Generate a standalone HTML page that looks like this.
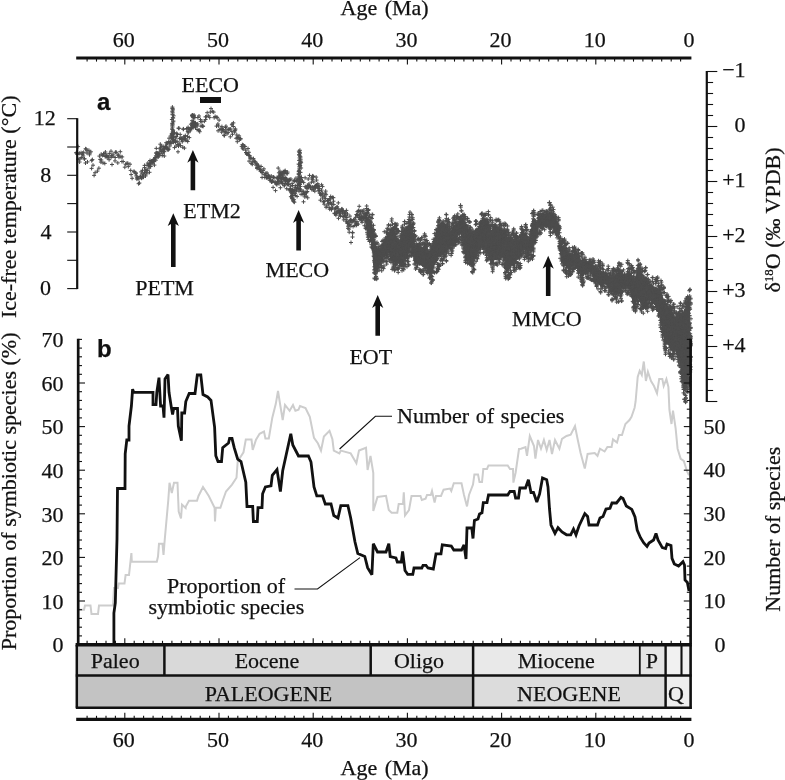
<!DOCTYPE html><html><head><meta charset="utf-8"><title>Figure</title><style>html,body{margin:0;padding:0;background:#fff}svg{display:block}text{font-family:"Liberation Serif","Times New Roman",serif;font-size:22px;fill:#111;stroke:#111;stroke-width:0.25px}.b{font-family:"Liberation Sans",Arial,sans-serif;font-weight:bold;font-size:24px}</style></head><body>
<svg width="785" height="780" viewBox="0 0 785 780">
<rect width="785" height="780" fill="#fff"/>
<polygon fill="#4d4d4d" points="366.0,218.1 367.0,218.9 368.0,219.7 369.0,220.5 370.0,221.3 371.0,223.1 372.0,224.6 373.0,229.3 374.0,237.0 375.0,244.1 376.0,251.0 377.0,251.5 378.0,250.4 379.0,249.4 380.0,248.3 381.0,246.5 382.0,244.3 383.0,241.5 384.0,239.2 385.0,238.0 386.0,236.9 387.0,235.7 388.0,234.5 389.0,234.1 390.0,228.2 391.0,228.6 392.0,228.9 393.0,229.2 394.0,229.6 395.0,230.8 396.0,233.2 397.0,239.0 398.0,241.5 399.0,242.7 400.0,240.7 401.0,238.7 402.0,234.3 403.0,232.4 404.0,230.8 405.0,230.4 406.0,228.8 407.0,227.2 408.0,225.8 409.0,223.8 410.0,222.4 411.0,221.0 412.0,226.6 413.0,232.2 414.0,239.1 415.0,244.7 416.0,244.0 417.0,243.3 418.0,242.6 419.0,247.5 420.0,246.8 421.0,246.1 422.0,246.7 423.0,247.4 424.0,242.1 425.0,242.7 426.0,243.3 427.0,249.1 428.0,250.3 429.0,251.4 430.0,250.3 431.0,248.8 432.0,246.2 433.0,243.5 434.0,238.0 435.0,235.6 436.0,233.1 437.0,230.7 438.0,229.0 439.0,226.4 440.0,224.8 441.0,223.1 442.0,223.3 443.0,223.9 444.0,224.6 445.0,225.3 446.0,226.0 447.0,226.6 448.0,226.6 449.0,232.7 450.0,231.4 451.0,230.2 452.0,228.9 453.0,226.9 454.0,225.6 455.0,224.8 456.0,223.9 457.0,223.0 458.0,222.1 459.0,221.3 460.0,215.7 461.0,216.9 462.0,217.8 463.0,217.8 464.0,219.7 465.0,221.5 466.0,223.3 467.0,224.0 468.0,224.7 469.0,232.8 470.0,233.4 471.0,234.1 472.0,234.4 473.0,234.6 474.0,234.7 475.0,228.5 476.0,228.4 477.0,228.2 478.0,228.1 479.0,226.7 480.0,224.2 481.0,222.5 482.0,220.8 483.0,220.5 484.0,219.1 485.0,217.8 486.0,218.8 487.0,221.4 488.0,221.2 489.0,223.8 490.0,226.4 491.0,229.9 492.0,229.2 493.0,228.6 494.0,227.9 495.0,227.3 496.0,226.7 497.0,226.1 498.0,226.5 499.0,226.5 500.0,227.5 501.0,228.5 502.0,229.6 503.0,230.6 504.0,231.9 505.0,233.5 506.0,234.8 507.0,236.2 508.0,237.5 509.0,238.2 510.0,238.8 511.0,239.5 512.0,238.4 513.0,239.0 514.0,238.8 515.0,238.6 516.0,240.7 517.0,240.5 518.0,240.2 519.0,239.8 520.0,239.3 521.0,234.6 522.0,234.0 523.0,233.5 524.0,233.0 525.0,232.4 526.0,231.9 527.0,239.5 528.0,238.8 529.0,238.1 530.0,237.3 531.0,232.0 532.0,219.9 533.0,218.8 534.0,219.2 535.0,221.6 536.0,223.8 537.0,225.5 538.0,218.2 539.0,216.2 540.0,214.0 541.0,212.8 542.0,214.4 543.0,214.1 544.0,213.8 545.0,213.4 546.0,213.0 547.0,212.9 548.0,212.6 549.0,212.5 550.0,212.4 551.0,212.3 552.0,212.2 553.0,213.8 554.0,215.8 555.0,217.4 556.0,219.9 557.0,222.3 558.0,224.8 559.0,231.2 560.0,237.3 561.0,243.4 562.0,244.6 563.0,245.8 564.0,246.9 565.0,248.1 566.0,249.9 567.0,250.9 568.0,251.9 569.0,252.9 570.0,253.2 571.0,253.2 572.0,253.2 573.0,253.3 574.0,253.5 575.0,252.2 576.0,252.4 577.0,253.5 578.0,255.3 579.0,257.1 580.0,258.8 581.0,260.1 582.0,261.1 583.0,261.2 584.0,261.3 585.0,261.4 586.0,260.5 587.0,260.9 588.0,261.2 589.0,261.6 590.0,263.5 591.0,264.0 592.0,264.5 593.0,265.0 594.0,265.5 595.0,266.1 596.0,267.9 597.0,268.4 598.0,268.9 599.0,269.5 600.0,270.5 601.0,271.5 602.0,271.0 603.0,272.0 604.0,273.0 605.0,273.9 606.0,274.9 607.0,274.8 608.0,274.8 609.0,276.8 610.0,277.0 611.0,277.2 612.0,277.4 613.0,276.4 614.0,275.6 615.0,274.7 616.0,273.6 617.0,272.8 618.0,271.9 619.0,270.7 620.0,269.8 621.0,270.2 622.0,273.4 623.0,274.0 624.0,274.5 625.0,275.0 626.0,275.5 627.0,270.3 628.0,270.7 629.0,271.6 630.0,272.6 631.0,273.3 632.0,276.6 633.0,278.2 634.0,279.8 635.0,279.9 636.0,275.4 637.0,270.9 638.0,268.7 639.0,271.1 640.0,273.4 641.0,275.4 642.0,277.2 643.0,278.9 644.0,276.3 645.0,277.8 646.0,279.4 647.0,280.5 648.0,284.6 649.0,285.4 650.0,285.7 651.0,287.1 652.0,287.3 653.0,287.4 654.0,287.6 655.0,287.9 656.0,287.9 657.0,288.3 658.0,288.2 659.0,289.6 660.0,289.2 661.0,291.6 662.0,293.9 663.0,297.0 664.0,300.0 665.0,303.1 666.0,303.6 667.0,305.2 668.0,306.7 669.0,308.2 670.0,308.3 671.0,309.8 672.0,311.3 673.0,312.8 674.0,313.5 675.0,318.1 676.0,315.7 677.0,313.7 678.0,312.0 679.0,310.6 680.0,311.8 681.0,312.9 682.0,309.6 683.0,310.8 684.0,312.0 685.0,308.5 686.0,305.0 687.0,301.3 688.0,298.8 689.0,299.8 690.0,307.1 690.0,367.5 689.0,375.7 688.0,384.0 687.0,384.7 686.0,390.7 685.0,391.0 684.0,391.3 683.0,385.9 682.0,380.5 681.0,370.3 680.0,365.3 679.0,360.3 678.0,357.2 677.0,354.3 676.0,351.8 675.0,349.8 674.0,353.3 673.0,352.2 672.0,351.4 671.0,350.6 670.0,349.7 669.0,345.8 668.0,345.1 667.0,344.5 666.0,343.8 665.0,343.3 664.0,338.7 663.0,334.2 662.0,329.6 661.0,325.6 660.0,321.7 659.0,315.1 658.0,312.0 657.0,310.3 656.0,307.4 655.0,305.7 654.0,304.3 653.0,303.2 652.0,302.1 651.0,301.1 650.0,300.7 649.0,299.9 648.0,300.3 647.0,305.4 646.0,306.2 645.0,307.7 644.0,309.2 643.0,310.4 642.0,307.8 641.0,305.1 640.0,302.5 639.0,299.8 638.0,297.1 637.0,296.7 636.0,301.5 635.0,306.3 634.0,309.4 633.0,304.5 632.0,299.6 631.0,293.2 630.0,290.7 629.0,288.6 628.0,287.3 627.0,287.4 626.0,287.0 625.0,287.1 624.0,287.3 623.0,287.7 622.0,288.1 621.0,290.7 620.0,291.1 619.0,290.9 618.0,293.5 617.0,293.3 616.0,293.0 615.0,292.8 614.0,292.8 613.0,292.8 612.0,291.5 611.0,290.2 610.0,288.9 609.0,287.6 608.0,287.0 607.0,285.7 606.0,284.4 605.0,284.5 604.0,284.5 603.0,284.5 602.0,284.9 601.0,282.6 600.0,283.4 599.0,284.2 598.0,283.1 597.0,281.7 596.0,280.4 595.0,279.7 594.0,278.4 593.0,276.8 592.0,275.2 591.0,273.6 590.0,272.0 589.0,271.7 588.0,271.9 587.0,272.1 586.0,272.2 585.0,273.7 584.0,274.6 583.0,275.4 582.0,276.3 581.0,275.6 580.0,272.9 579.0,270.6 578.0,268.4 577.0,266.1 576.0,264.8 575.0,264.9 574.0,265.8 573.0,265.8 572.0,266.5 571.0,267.3 570.0,270.2 569.0,270.4 568.0,269.1 567.0,267.9 566.0,266.7 565.0,264.6 564.0,263.0 563.0,261.5 562.0,260.0 561.0,258.5 560.0,252.3 559.0,246.2 558.0,236.9 557.0,234.6 556.0,232.2 555.0,229.8 554.0,228.2 553.0,228.4 552.0,226.8 551.0,226.6 550.0,226.5 549.0,226.3 548.0,226.1 547.0,226.7 546.0,224.6 545.0,225.2 544.0,225.8 543.0,225.7 542.0,225.3 541.0,227.4 540.0,227.1 539.0,226.9 538.0,228.3 537.0,233.3 536.0,238.4 535.0,241.7 534.0,243.3 533.0,245.4 532.0,247.9 531.0,250.3 530.0,250.9 529.0,251.8 528.0,252.7 527.0,253.6 526.0,249.0 525.0,249.6 524.0,250.2 523.0,250.8 522.0,251.4 521.0,252.2 520.0,257.3 519.0,258.3 518.0,259.1 517.0,259.5 516.0,260.0 515.0,261.7 514.0,262.2 513.0,262.7 512.0,263.8 511.0,267.6 510.0,268.8 509.0,269.9 508.0,271.0 507.0,270.1 506.0,269.2 505.0,268.2 504.0,258.4 503.0,257.5 502.0,257.2 501.0,256.8 500.0,256.5 499.0,256.2 498.0,255.8 497.0,260.6 496.0,260.2 495.0,259.9 494.0,260.1 493.0,261.0 492.0,261.9 491.0,262.8 490.0,259.5 489.0,256.8 488.0,254.0 487.0,253.7 486.0,250.9 485.0,249.3 484.0,249.6 483.0,249.8 482.0,246.7 481.0,247.6 480.0,248.4 479.0,251.1 478.0,252.2 477.0,254.3 476.0,256.4 475.0,258.5 474.0,261.5 473.0,265.4 472.0,269.3 471.0,263.8 470.0,261.4 469.0,259.0 468.0,261.1 467.0,258.7 466.0,256.4 465.0,252.6 464.0,248.8 463.0,245.0 462.0,239.1 461.0,235.5 460.0,232.4 459.0,235.1 458.0,236.2 457.0,237.3 456.0,238.4 455.0,239.5 454.0,240.6 453.0,242.0 452.0,244.4 451.0,245.8 450.0,247.2 449.0,248.6 448.0,249.7 447.0,250.8 446.0,251.8 445.0,252.8 444.0,253.8 443.0,254.8 442.0,255.8 441.0,254.3 440.0,255.3 439.0,256.3 438.0,260.2 437.0,261.2 436.0,262.8 435.0,264.3 434.0,265.9 433.0,271.0 432.0,272.7 431.0,274.3 430.0,275.1 429.0,273.1 428.0,272.0 427.0,271.0 426.0,266.6 425.0,265.7 424.0,264.8 423.0,266.9 422.0,266.0 421.0,265.1 420.0,265.4 419.0,265.8 418.0,262.9 417.0,263.3 416.0,263.6 415.0,264.0 414.0,260.9 413.0,254.5 412.0,251.5 411.0,248.4 410.0,249.1 409.0,249.7 408.0,257.2 407.0,257.8 406.0,259.1 405.0,260.5 404.0,262.8 403.0,264.1 402.0,265.5 401.0,260.8 400.0,262.3 399.0,263.8 398.0,262.9 397.0,260.9 396.0,264.7 395.0,262.7 394.0,261.7 393.0,261.4 392.0,261.1 391.0,260.7 390.0,260.4 389.0,252.3 388.0,252.6 387.0,253.7 386.0,254.7 385.0,255.8 384.0,256.8 383.0,258.5 382.0,260.0 381.0,261.6 380.0,263.2 379.0,264.8 378.0,266.4 377.0,268.0 376.0,270.0 375.0,274.2 374.0,273.1 373.0,264.4 372.0,244.3 371.0,241.3 370.0,238.6 369.0,236.9 368.0,235.2 367.0,230.5 366.0,225.8"/>
<path fill="none" stroke="#4d4d4d" stroke-width="1" d="M74.2 152.9h4m-2-2v4M74.5 152.5h4m-2-2v4M75.1 153.2h4m-2-2v4M75.4 154.4h4m-2-2v4M76.1 146.6h4m-2-2v4M76.1 159.3h4m-2-2v4M77.6 162.0h4m-2-2v4M77.4 153.3h4m-2-2v4M78.0 158.8h4m-2-2v4M79.1 152.7h4m-2-2v4M79.3 157.5h4m-2-2v4M80.6 153.2h4m-2-2v4M80.4 154.5h4m-2-2v4M81.2 155.9h4m-2-2v4M81.7 152.3h4m-2-2v4M82.5 158.7h4m-2-2v4M82.3 159.0h4m-2-2v4M83.6 148.8h4m-2-2v4M83.5 163.0h4m-2-2v4M85.0 150.8h4m-2-2v4M84.1 149.1h4m-2-2v4M85.5 161.9h4m-2-2v4M85.0 153.1h4m-2-2v4M86.9 150.3h4m-2-2v4M87.7 153.0h4m-2-2v4M87.5 154.8h4m-2-2v4M88.9 151.8h4m-2-2v4M89.7 160.6h4m-2-2v4M89.6 168.4h4m-2-2v4M90.4 159.6h4m-2-2v4M91.0 165.2h4m-2-2v4M92.1 175.4h4m-2-2v4M93.1 172.7h4m-2-2v4M95.4 171.1h4m-2-2v4M96.9 168.2h4m-2-2v4M97.4 156.1h4m-2-2v4M98.9 162.1h4m-2-2v4M98.2 159.4h4m-2-2v4M99.2 154.2h4m-2-2v4M99.3 160.0h4m-2-2v4M100.4 155.4h4m-2-2v4M101.0 162.9h4m-2-2v4M101.5 153.9h4m-2-2v4M102.9 153.7h4m-2-2v4M102.8 163.4h4m-2-2v4M103.4 152.0h4m-2-2v4M103.1 156.5h4m-2-2v4M104.2 155.8h4m-2-2v4M104.2 156.2h4m-2-2v4M105.2 157.8h4m-2-2v4M105.1 155.8h4m-2-2v4M106.6 156.8h4m-2-2v4M107.3 153.6h4m-2-2v4M107.1 159.7h4m-2-2v4M109.0 151.2h4m-2-2v4M109.1 157.4h4m-2-2v4M109.3 155.6h4m-2-2v4M110.0 164.5h4m-2-2v4M111.0 154.1h4m-2-2v4M111.0 156.2h4m-2-2v4M113.0 160.9h4m-2-2v4M113.4 152.2h4m-2-2v4M113.2 157.5h4m-2-2v4M114.3 152.3h4m-2-2v4M115.8 162.9h4m-2-2v4M115.8 155.1h4m-2-2v4M116.7 155.1h4m-2-2v4M117.0 157.2h4m-2-2v4M118.3 151.7h4m-2-2v4M119.0 156.8h4m-2-2v4M119.9 161.5h4m-2-2v4M120.2 156.9h4m-2-2v4M121.2 161.5h4m-2-2v4M122.8 167.2h4m-2-2v4M123.7 164.3h4m-2-2v4M124.9 163.3h4m-2-2v4M125.8 163.3h4m-2-2v4M126.3 166.6h4m-2-2v4M128.0 164.2h4m-2-2v4M128.7 170.4h4m-2-2v4M129.1 174.6h4m-2-2v4M130.1 178.3h4m-2-2v4M132.0 171.3h4m-2-2v4M132.1 172.0h4m-2-2v4M134.0 173.8h4m-2-2v4M133.9 172.9h4m-2-2v4M134.9 179.1h4m-2-2v4M134.3 175.9h4m-2-2v4M135.2 177.3h4m-2-2v4M135.4 178.2h4m-2-2v4M136.9 178.9h4m-2-2v4M136.6 183.7h4m-2-2v4M137.4 183.0h4m-2-2v4M138.5 176.6h4m-2-2v4M138.0 176.6h4m-2-2v4M139.8 178.0h4m-2-2v4M139.2 171.9h4m-2-2v4M139.6 178.2h4m-2-2v4M140.5 170.3h4m-2-2v4M140.1 173.9h4m-2-2v4M140.6 176.0h4m-2-2v4M141.5 177.2h4m-2-2v4M141.6 174.9h4m-2-2v4M142.6 165.4h4m-2-2v4M142.5 167.6h4m-2-2v4M142.5 172.4h4m-2-2v4M143.5 176.0h4m-2-2v4M143.9 169.3h4m-2-2v4M143.9 170.9h4m-2-2v4M144.8 173.8h4m-2-2v4M144.1 172.2h4m-2-2v4M145.2 170.4h4m-2-2v4M145.1 165.2h4m-2-2v4M145.9 163.0h4m-2-2v4M146.7 165.6h4m-2-2v4M146.9 165.1h4m-2-2v4M147.0 168.1h4m-2-2v4M147.5 172.3h4m-2-2v4M148.0 166.2h4m-2-2v4M147.4 163.5h4m-2-2v4M148.3 164.8h4m-2-2v4M148.7 166.5h4m-2-2v4M148.0 160.5h4m-2-2v4M149.3 161.2h4m-2-2v4M149.6 161.2h4m-2-2v4M150.0 162.3h4m-2-2v4M151.0 163.0h4m-2-2v4M150.0 162.6h4m-2-2v4M150.8 160.8h4m-2-2v4M151.9 161.3h4m-2-2v4M151.8 159.5h4m-2-2v4M151.9 161.4h4m-2-2v4M152.7 159.1h4m-2-2v4M152.7 158.8h4m-2-2v4M152.4 165.1h4m-2-2v4M153.8 160.2h4m-2-2v4M153.1 157.5h4m-2-2v4M153.9 155.9h4m-2-2v4M154.3 148.4h4m-2-2v4M154.3 153.0h4m-2-2v4M154.1 153.0h4m-2-2v4M155.2 153.6h4m-2-2v4M155.1 154.8h4m-2-2v4M155.3 156.7h4m-2-2v4M155.8 153.0h4m-2-2v4M156.3 156.9h4m-2-2v4M156.0 153.2h4m-2-2v4M156.7 153.7h4m-2-2v4M156.6 154.6h4m-2-2v4M157.1 155.8h4m-2-2v4M157.8 148.8h4m-2-2v4M157.8 153.9h4m-2-2v4M158.5 147.8h4m-2-2v4M158.3 144.2h4m-2-2v4M158.8 150.2h4m-2-2v4M159.3 146.0h4m-2-2v4M159.1 151.6h4m-2-2v4M159.7 151.6h4m-2-2v4M160.2 155.5h4m-2-2v4M160.9 153.2h4m-2-2v4M160.7 149.3h4m-2-2v4M161.5 151.5h4m-2-2v4M161.2 146.4h4m-2-2v4M162.0 149.9h4m-2-2v4M162.5 148.5h4m-2-2v4M162.3 156.0h4m-2-2v4M162.4 151.7h4m-2-2v4M163.5 147.4h4m-2-2v4M163.2 147.0h4m-2-2v4M163.3 147.4h4m-2-2v4M164.4 147.4h4m-2-2v4M164.3 146.8h4m-2-2v4M164.2 142.7h4m-2-2v4M164.8 144.3h4m-2-2v4M165.7 148.5h4m-2-2v4M165.3 143.2h4m-2-2v4M166.0 149.4h4m-2-2v4M166.0 150.0h4m-2-2v4M166.8 149.2h4m-2-2v4M166.7 141.6h4m-2-2v4M167.1 138.2h4m-2-2v4M167.8 142.6h4m-2-2v4M167.8 146.0h4m-2-2v4M168.7 135.9h4m-2-2v4M168.7 141.8h4m-2-2v4M168.1 142.9h4m-2-2v4M169.1 143.6h4m-2-2v4M169.6 134.0h4m-2-2v4M169.6 137.3h4m-2-2v4M170.8 134.5h4m-2-2v4M170.7 133.5h4m-2-2v4M170.7 139.9h4m-2-2v4M171.7 140.0h4m-2-2v4M171.3 142.0h4m-2-2v4M171.7 142.3h4m-2-2v4M172.5 147.6h4m-2-2v4M172.4 132.7h4m-2-2v4M172.8 141.0h4m-2-2v4M173.6 142.3h4m-2-2v4M173.3 141.2h4m-2-2v4M173.7 138.0h4m-2-2v4M174.1 146.0h4m-2-2v4M174.3 136.5h4m-2-2v4M174.7 133.4h4m-2-2v4M175.5 134.4h4m-2-2v4M175.1 141.3h4m-2-2v4M175.9 144.5h4m-2-2v4M176.0 151.8h4m-2-2v4M176.5 146.1h4m-2-2v4M176.4 128.2h4m-2-2v4M177.2 143.2h4m-2-2v4M177.6 138.6h4m-2-2v4M177.1 128.3h4m-2-2v4M178.8 137.7h4m-2-2v4M178.5 145.6h4m-2-2v4M178.2 134.4h4m-2-2v4M179.5 139.8h4m-2-2v4M179.5 139.5h4m-2-2v4M179.5 138.5h4m-2-2v4M180.3 141.7h4m-2-2v4M180.8 147.2h4m-2-2v4M180.8 139.3h4m-2-2v4M181.9 136.7h4m-2-2v4M181.3 129.3h4m-2-2v4M181.4 128.9h4m-2-2v4M182.4 148.1h4m-2-2v4M182.4 137.8h4m-2-2v4M182.1 139.4h4m-2-2v4M183.3 140.2h4m-2-2v4M183.3 135.6h4m-2-2v4M183.5 138.7h4m-2-2v4M184.9 140.2h4m-2-2v4M184.8 129.0h4m-2-2v4M184.9 128.5h4m-2-2v4M185.7 141.5h4m-2-2v4M185.5 136.4h4m-2-2v4M185.8 131.6h4m-2-2v4M186.9 128.7h4m-2-2v4M186.1 127.4h4m-2-2v4M186.3 132.8h4m-2-2v4M188.0 129.5h4m-2-2v4M187.3 137.6h4m-2-2v4M188.4 129.6h4m-2-2v4M188.2 130.8h4m-2-2v4M188.9 124.2h4m-2-2v4M190.0 125.7h4m-2-2v4M189.4 127.8h4m-2-2v4M190.3 125.8h4m-2-2v4M190.1 123.6h4m-2-2v4M190.6 127.1h4m-2-2v4M191.7 116.9h4m-2-2v4M191.5 123.5h4m-2-2v4M192.3 125.7h4m-2-2v4M193.0 123.5h4m-2-2v4M192.1 115.1h4m-2-2v4M193.2 122.8h4m-2-2v4M193.3 123.1h4m-2-2v4M195.0 129.5h4m-2-2v4M194.8 124.8h4m-2-2v4M195.7 123.9h4m-2-2v4M195.9 117.6h4m-2-2v4M195.0 126.0h4m-2-2v4M196.9 130.4h4m-2-2v4M197.0 116.0h4m-2-2v4M197.1 130.0h4m-2-2v4M197.7 131.7h4m-2-2v4M198.7 121.5h4m-2-2v4M198.5 119.6h4m-2-2v4M199.0 126.1h4m-2-2v4M199.9 121.8h4m-2-2v4M200.3 126.0h4m-2-2v4M200.6 126.1h4m-2-2v4M201.1 126.3h4m-2-2v4M202.4 121.2h4m-2-2v4M203.6 119.5h4m-2-2v4M203.5 116.9h4m-2-2v4M204.6 116.6h4m-2-2v4M205.2 112.7h4m-2-2v4M206.7 115.8h4m-2-2v4M207.7 117.6h4m-2-2v4M208.3 112.1h4m-2-2v4M209.0 108.6h4m-2-2v4M210.4 111.4h4m-2-2v4M211.7 112.1h4m-2-2v4M212.2 117.7h4m-2-2v4M213.2 116.5h4m-2-2v4M214.8 117.2h4m-2-2v4M214.5 126.1h4m-2-2v4M215.2 117.7h4m-2-2v4M215.9 124.0h4m-2-2v4M216.4 125.9h4m-2-2v4M216.1 130.8h4m-2-2v4M217.1 120.1h4m-2-2v4M217.9 129.4h4m-2-2v4M219.0 129.0h4m-2-2v4M219.9 126.6h4m-2-2v4M219.7 132.2h4m-2-2v4M220.4 129.9h4m-2-2v4M220.3 129.1h4m-2-2v4M221.4 129.7h4m-2-2v4M222.0 135.2h4m-2-2v4M222.4 135.6h4m-2-2v4M222.8 131.4h4m-2-2v4M223.5 127.5h4m-2-2v4M223.4 132.3h4m-2-2v4M224.9 130.0h4m-2-2v4M224.0 126.2h4m-2-2v4M225.0 133.8h4m-2-2v4M226.1 132.6h4m-2-2v4M226.7 129.3h4m-2-2v4M227.3 129.2h4m-2-2v4M228.3 136.8h4m-2-2v4M228.7 129.0h4m-2-2v4M229.8 131.4h4m-2-2v4M229.9 124.8h4m-2-2v4M230.2 124.1h4m-2-2v4M230.5 134.3h4m-2-2v4M231.3 126.5h4m-2-2v4M231.4 122.9h4m-2-2v4M232.8 130.6h4m-2-2v4M232.7 132.1h4m-2-2v4M233.3 128.9h4m-2-2v4M233.3 129.9h4m-2-2v4M234.2 138.3h4m-2-2v4M234.8 135.0h4m-2-2v4M235.6 137.5h4m-2-2v4M235.3 141.7h4m-2-2v4M236.3 137.6h4m-2-2v4M237.1 135.9h4m-2-2v4M237.4 139.8h4m-2-2v4M238.4 138.7h4m-2-2v4M238.7 138.9h4m-2-2v4M239.7 146.4h4m-2-2v4M240.6 148.1h4m-2-2v4M240.4 144.7h4m-2-2v4M241.2 145.0h4m-2-2v4M241.2 149.0h4m-2-2v4M242.4 146.2h4m-2-2v4M243.0 146.6h4m-2-2v4M243.7 150.1h4m-2-2v4M244.0 152.5h4m-2-2v4M244.8 153.7h4m-2-2v4M244.9 154.0h4m-2-2v4M245.2 154.1h4m-2-2v4M246.0 148.6h4m-2-2v4M246.9 152.3h4m-2-2v4M246.4 154.9h4m-2-2v4M247.1 161.1h4m-2-2v4M247.6 155.5h4m-2-2v4M248.1 157.2h4m-2-2v4M248.2 158.3h4m-2-2v4M249.2 163.4h4m-2-2v4M249.0 158.3h4m-2-2v4M250.3 164.3h4m-2-2v4M250.2 161.9h4m-2-2v4M251.1 159.0h4m-2-2v4M251.4 158.6h4m-2-2v4M252.2 161.9h4m-2-2v4M252.7 161.3h4m-2-2v4M254.0 165.1h4m-2-2v4M253.3 161.9h4m-2-2v4M254.9 164.1h4m-2-2v4M255.0 163.9h4m-2-2v4M255.2 167.5h4m-2-2v4M255.0 168.4h4m-2-2v4M256.4 166.0h4m-2-2v4M256.9 166.1h4m-2-2v4M257.6 169.1h4m-2-2v4M257.6 169.7h4m-2-2v4M258.4 169.4h4m-2-2v4M258.5 171.2h4m-2-2v4M259.9 172.6h4m-2-2v4M259.1 166.5h4m-2-2v4M260.2 172.3h4m-2-2v4M260.1 177.4h4m-2-2v4M261.1 170.6h4m-2-2v4M261.9 168.9h4m-2-2v4M262.8 177.5h4m-2-2v4M262.2 174.4h4m-2-2v4M263.8 173.3h4m-2-2v4M263.8 175.7h4m-2-2v4M264.5 177.6h4m-2-2v4M264.4 177.4h4m-2-2v4M265.9 178.4h4m-2-2v4M265.0 173.0h4m-2-2v4M266.8 176.3h4m-2-2v4M266.1 175.3h4m-2-2v4M266.6 176.1h4m-2-2v4M267.4 176.6h4m-2-2v4M267.7 177.6h4m-2-2v4M267.4 178.5h4m-2-2v4M268.5 180.2h4m-2-2v4M268.2 180.4h4m-2-2v4M269.2 176.0h4m-2-2v4M269.5 181.9h4m-2-2v4M269.4 181.7h4m-2-2v4M270.4 180.8h4m-2-2v4M270.6 181.5h4m-2-2v4M270.1 181.1h4m-2-2v4M271.1 177.3h4m-2-2v4M271.5 177.2h4m-2-2v4M271.1 187.4h4m-2-2v4M273.0 182.6h4m-2-2v4M272.2 177.7h4m-2-2v4M273.5 190.6h4m-2-2v4M273.2 182.1h4m-2-2v4M274.9 184.7h4m-2-2v4M274.8 183.0h4m-2-2v4M274.2 184.0h4m-2-2v4M275.1 177.3h4m-2-2v4M275.5 181.8h4m-2-2v4M275.3 178.0h4m-2-2v4M275.5 178.9h4m-2-2v4M276.2 178.2h4m-2-2v4M276.9 172.8h4m-2-2v4M276.2 168.1h4m-2-2v4M276.8 181.3h4m-2-2v4M276.6 180.8h4m-2-2v4M277.9 171.1h4m-2-2v4M277.9 174.9h4m-2-2v4M277.1 183.7h4m-2-2v4M277.4 176.7h4m-2-2v4M277.8 175.6h4m-2-2v4M278.4 187.7h4m-2-2v4M278.8 174.1h4m-2-2v4M278.7 178.1h4m-2-2v4M278.0 178.6h4m-2-2v4M278.6 173.6h4m-2-2v4M279.6 174.7h4m-2-2v4M279.0 173.3h4m-2-2v4M279.0 181.1h4m-2-2v4M279.4 182.6h4m-2-2v4M279.5 179.1h4m-2-2v4M280.7 175.3h4m-2-2v4M280.0 181.8h4m-2-2v4M280.1 177.1h4m-2-2v4M280.4 178.1h4m-2-2v4M280.6 183.7h4m-2-2v4M280.2 172.8h4m-2-2v4M281.9 172.8h4m-2-2v4M281.2 178.4h4m-2-2v4M281.6 178.9h4m-2-2v4M281.9 178.1h4m-2-2v4M281.3 171.7h4m-2-2v4M281.0 172.8h4m-2-2v4M282.6 171.5h4m-2-2v4M282.4 185.1h4m-2-2v4M282.2 173.6h4m-2-2v4M282.9 183.4h4m-2-2v4M282.4 178.8h4m-2-2v4M282.2 185.8h4m-2-2v4M283.6 181.3h4m-2-2v4M283.9 180.2h4m-2-2v4M283.6 180.7h4m-2-2v4M283.5 172.0h4m-2-2v4M283.2 170.6h4m-2-2v4M283.3 177.5h4m-2-2v4M284.8 180.5h4m-2-2v4M284.7 188.7h4m-2-2v4M284.7 179.4h4m-2-2v4M284.5 178.7h4m-2-2v4M284.2 173.5h4m-2-2v4M285.2 184.2h4m-2-2v4M285.7 181.1h4m-2-2v4M285.7 184.3h4m-2-2v4M285.3 173.7h4m-2-2v4M285.6 172.1h4m-2-2v4M285.5 183.3h4m-2-2v4M286.6 184.2h4m-2-2v4M286.9 180.3h4m-2-2v4M286.0 180.8h4m-2-2v4M286.7 184.4h4m-2-2v4M286.9 180.9h4m-2-2v4M287.3 179.5h4m-2-2v4M287.2 189.9h4m-2-2v4M287.7 180.1h4m-2-2v4M287.7 189.6h4m-2-2v4M288.7 186.2h4m-2-2v4M288.9 179.0h4m-2-2v4M288.6 190.3h4m-2-2v4M288.3 188.8h4m-2-2v4M289.9 197.9h4m-2-2v4M289.1 192.7h4m-2-2v4M289.9 190.5h4m-2-2v4M289.3 190.9h4m-2-2v4M290.7 194.2h4m-2-2v4M290.6 189.7h4m-2-2v4M290.1 183.4h4m-2-2v4M290.6 185.5h4m-2-2v4M291.9 199.7h4m-2-2v4M291.1 200.3h4m-2-2v4M291.9 180.8h4m-2-2v4M292.2 190.3h4m-2-2v4M292.8 190.1h4m-2-2v4M292.8 181.3h4m-2-2v4M292.6 180.4h4m-2-2v4M293.1 195.5h4m-2-2v4M293.2 193.0h4m-2-2v4M293.3 185.9h4m-2-2v4M293.3 187.6h4m-2-2v4M294.7 181.3h4m-2-2v4M295.0 189.0h4m-2-2v4M294.5 190.1h4m-2-2v4M294.0 178.1h4m-2-2v4M295.4 185.5h4m-2-2v4M295.7 179.3h4m-2-2v4M295.5 187.2h4m-2-2v4M295.1 196.4h4m-2-2v4M296.2 188.4h4m-2-2v4M296.8 184.5h4m-2-2v4M297.0 191.3h4m-2-2v4M297.8 184.4h4m-2-2v4M297.2 179.1h4m-2-2v4M297.8 184.4h4m-2-2v4M297.3 188.6h4m-2-2v4M298.7 182.5h4m-2-2v4M298.5 189.9h4m-2-2v4M298.1 188.9h4m-2-2v4M298.8 180.9h4m-2-2v4M299.4 177.6h4m-2-2v4M299.4 177.6h4m-2-2v4M299.1 194.3h4m-2-2v4M300.0 191.3h4m-2-2v4M300.9 194.5h4m-2-2v4M300.5 181.0h4m-2-2v4M301.5 201.8h4m-2-2v4M301.5 193.3h4m-2-2v4M301.6 182.6h4m-2-2v4M301.3 191.3h4m-2-2v4M302.7 194.3h4m-2-2v4M302.7 194.4h4m-2-2v4M302.8 196.9h4m-2-2v4M303.1 177.8h4m-2-2v4M303.2 192.4h4m-2-2v4M303.2 186.6h4m-2-2v4M304.2 196.1h4m-2-2v4M304.2 187.8h4m-2-2v4M304.5 192.7h4m-2-2v4M305.3 191.5h4m-2-2v4M305.7 197.8h4m-2-2v4M305.1 188.4h4m-2-2v4M305.4 185.4h4m-2-2v4M306.8 184.1h4m-2-2v4M306.2 179.0h4m-2-2v4M306.6 187.6h4m-2-2v4M307.0 185.8h4m-2-2v4M307.4 185.6h4m-2-2v4M307.5 175.4h4m-2-2v4M308.5 186.9h4m-2-2v4M308.4 188.0h4m-2-2v4M308.7 187.1h4m-2-2v4M309.7 177.9h4m-2-2v4M309.4 182.2h4m-2-2v4M309.9 189.6h4m-2-2v4M310.7 187.0h4m-2-2v4M310.6 175.9h4m-2-2v4M310.5 179.4h4m-2-2v4M311.4 190.0h4m-2-2v4M311.8 181.9h4m-2-2v4M311.3 176.6h4m-2-2v4M311.4 176.8h4m-2-2v4M312.7 186.6h4m-2-2v4M312.9 187.6h4m-2-2v4M312.8 191.2h4m-2-2v4M313.5 187.3h4m-2-2v4M313.5 185.8h4m-2-2v4M313.2 188.2h4m-2-2v4M314.1 177.1h4m-2-2v4M314.6 180.1h4m-2-2v4M314.5 185.3h4m-2-2v4M315.8 183.7h4m-2-2v4M315.9 187.8h4m-2-2v4M315.2 186.5h4m-2-2v4M316.1 185.3h4m-2-2v4M317.0 188.6h4m-2-2v4M316.3 190.9h4m-2-2v4M317.0 186.6h4m-2-2v4M317.7 193.2h4m-2-2v4M317.4 190.5h4m-2-2v4M318.9 195.3h4m-2-2v4M318.5 193.6h4m-2-2v4M318.4 200.2h4m-2-2v4M319.1 194.6h4m-2-2v4M319.6 184.8h4m-2-2v4M319.5 190.1h4m-2-2v4M320.4 193.1h4m-2-2v4M320.6 198.0h4m-2-2v4M320.5 186.6h4m-2-2v4M321.5 201.8h4m-2-2v4M321.4 201.8h4m-2-2v4M321.9 195.1h4m-2-2v4M322.4 201.3h4m-2-2v4M322.2 204.2h4m-2-2v4M322.3 196.9h4m-2-2v4M323.3 193.1h4m-2-2v4M323.6 198.6h4m-2-2v4M323.7 191.1h4m-2-2v4M324.1 207.3h4m-2-2v4M324.8 206.0h4m-2-2v4M324.1 194.7h4m-2-2v4M325.6 201.1h4m-2-2v4M326.0 200.5h4m-2-2v4M325.7 200.4h4m-2-2v4M326.2 203.8h4m-2-2v4M326.8 200.1h4m-2-2v4M326.9 203.8h4m-2-2v4M327.2 207.7h4m-2-2v4M327.8 198.8h4m-2-2v4M327.7 209.2h4m-2-2v4M328.2 198.9h4m-2-2v4M328.7 196.5h4m-2-2v4M328.4 202.5h4m-2-2v4M329.6 204.7h4m-2-2v4M329.1 208.3h4m-2-2v4M329.5 209.7h4m-2-2v4M330.5 207.8h4m-2-2v4M330.5 197.5h4m-2-2v4M330.0 203.8h4m-2-2v4M331.5 201.2h4m-2-2v4M331.8 204.6h4m-2-2v4M331.4 197.7h4m-2-2v4M332.6 213.1h4m-2-2v4M332.6 213.6h4m-2-2v4M332.7 209.0h4m-2-2v4M333.3 213.8h4m-2-2v4M333.5 208.5h4m-2-2v4M333.9 215.2h4m-2-2v4M334.3 211.3h4m-2-2v4M334.9 207.1h4m-2-2v4M334.5 213.3h4m-2-2v4M335.2 206.9h4m-2-2v4M335.6 212.3h4m-2-2v4M335.8 208.7h4m-2-2v4M336.5 218.3h4m-2-2v4M336.3 202.9h4m-2-2v4M336.7 210.9h4m-2-2v4M337.3 210.7h4m-2-2v4M337.6 215.0h4m-2-2v4M337.6 212.2h4m-2-2v4M338.9 211.6h4m-2-2v4M338.5 215.8h4m-2-2v4M338.0 213.7h4m-2-2v4M339.9 208.9h4m-2-2v4M339.8 209.8h4m-2-2v4M339.9 209.2h4m-2-2v4M340.7 210.5h4m-2-2v4M340.6 212.9h4m-2-2v4M340.7 211.6h4m-2-2v4M341.8 217.0h4m-2-2v4M341.0 216.5h4m-2-2v4M341.8 219.9h4m-2-2v4M342.8 213.1h4m-2-2v4M342.8 213.2h4m-2-2v4M342.3 214.9h4m-2-2v4M343.3 212.0h4m-2-2v4M343.9 219.3h4m-2-2v4M343.1 216.0h4m-2-2v4M344.8 217.5h4m-2-2v4M344.6 221.7h4m-2-2v4M344.0 215.9h4m-2-2v4M344.4 210.4h4m-2-2v4M345.5 214.0h4m-2-2v4M345.4 223.5h4m-2-2v4M345.2 222.3h4m-2-2v4M346.0 228.3h4m-2-2v4M346.1 221.7h4m-2-2v4M347.0 229.1h4m-2-2v4M346.1 226.2h4m-2-2v4M347.7 224.4h4m-2-2v4M347.2 232.2h4m-2-2v4M347.1 225.2h4m-2-2v4M347.9 216.1h4m-2-2v4M348.1 220.4h4m-2-2v4M348.5 220.1h4m-2-2v4M348.9 226.1h4m-2-2v4M349.0 242.5h4m-2-2v4M349.0 222.3h4m-2-2v4M349.1 219.7h4m-2-2v4M350.7 232.8h4m-2-2v4M350.5 237.0h4m-2-2v4M350.1 221.9h4m-2-2v4M350.4 232.6h4m-2-2v4M351.1 226.5h4m-2-2v4M351.6 220.1h4m-2-2v4M351.6 220.3h4m-2-2v4M352.9 225.5h4m-2-2v4M352.8 219.2h4m-2-2v4M352.1 221.3h4m-2-2v4M353.7 223.0h4m-2-2v4M353.6 217.3h4m-2-2v4M354.0 224.1h4m-2-2v4M354.4 214.5h4m-2-2v4M354.9 215.0h4m-2-2v4M354.6 225.3h4m-2-2v4M354.9 221.6h4m-2-2v4M355.3 215.6h4m-2-2v4M355.4 211.6h4m-2-2v4M355.9 214.7h4m-2-2v4M355.0 223.9h4m-2-2v4M356.6 210.5h4m-2-2v4M356.3 224.1h4m-2-2v4M356.7 211.1h4m-2-2v4M356.9 217.4h4m-2-2v4M357.8 219.6h4m-2-2v4M357.2 217.8h4m-2-2v4M357.2 206.3h4m-2-2v4M357.6 215.2h4m-2-2v4M358.3 211.5h4m-2-2v4M358.8 218.6h4m-2-2v4M358.1 211.2h4m-2-2v4M358.8 217.5h4m-2-2v4M358.6 213.1h4m-2-2v4M359.9 210.9h4m-2-2v4M359.6 216.2h4m-2-2v4M359.2 218.2h4m-2-2v4M359.7 220.2h4m-2-2v4M360.6 211.6h4m-2-2v4M360.1 220.8h4m-2-2v4M360.0 222.3h4m-2-2v4M360.1 216.9h4m-2-2v4M360.6 217.7h4m-2-2v4M361.3 213.9h4m-2-2v4M361.5 218.4h4m-2-2v4M362.0 217.2h4m-2-2v4M361.9 210.0h4m-2-2v4M361.3 217.6h4m-2-2v4M362.4 225.7h4m-2-2v4M362.8 213.9h4m-2-2v4M363.0 217.0h4m-2-2v4M362.2 218.5h4m-2-2v4M362.2 218.5h4m-2-2v4M363.9 217.9h4m-2-2v4M363.5 228.3h4m-2-2v4M363.1 213.1h4m-2-2v4M363.6 214.8h4m-2-2v4M364.0 218.6h4m-2-2v4M364.6 208.5h4m-2-2v4M364.7 206.0h4m-2-2v4M364.4 216.0h4m-2-2v4M365.0 221.4h4m-2-2v4M365.0 220.4h4m-2-2v4M364.3 222.0h4m-2-2v4M365.9 237.2h4m-2-2v4M365.0 213.3h4m-2-2v4M365.8 219.7h4m-2-2v4M366.0 210.4h4m-2-2v4M365.1 232.3h4m-2-2v4M365.9 235.0h4m-2-2v4M170.4 107.1h4m-2-2v4M170.3 108.4h4m-2-2v4M170.9 109.0h4m-2-2v4M170.8 110.0h4m-2-2v4M170.3 111.3h4m-2-2v4M170.6 112.3h4m-2-2v4M170.6 114.0h4m-2-2v4M170.5 114.7h4m-2-2v4M171.6 115.8h4m-2-2v4M170.8 117.7h4m-2-2v4M171.2 118.0h4m-2-2v4M169.9 119.5h4m-2-2v4M171.4 121.0h4m-2-2v4M171.2 121.9h4m-2-2v4M170.2 123.3h4m-2-2v4M170.7 124.0h4m-2-2v4M170.4 124.9h4m-2-2v4M170.4 125.9h4m-2-2v4M170.5 127.1h4m-2-2v4M170.0 129.0h4m-2-2v4M170.6 129.4h4m-2-2v4M171.1 130.7h4m-2-2v4M170.8 131.7h4m-2-2v4M170.3 133.2h4m-2-2v4M170.2 133.9h4m-2-2v4M171.5 135.9h4m-2-2v4M171.5 136.8h4m-2-2v4M170.9 137.4h4m-2-2v4M170.2 138.6h4m-2-2v4M170.7 139.7h4m-2-2v4M189.2 128.0h4m-2-2v4M193.5 127.0h4m-2-2v4M191.9 126.7h4m-2-2v4M191.7 115.7h4m-2-2v4M191.1 127.7h4m-2-2v4M190.4 115.2h4m-2-2v4M191.5 116.8h4m-2-2v4M190.3 115.0h4m-2-2v4M191.8 117.4h4m-2-2v4M190.1 120.7h4m-2-2v4M191.8 122.4h4m-2-2v4M190.8 116.8h4m-2-2v4M191.9 124.3h4m-2-2v4M192.8 117.6h4m-2-2v4M191.6 122.9h4m-2-2v4M191.4 121.4h4m-2-2v4M191.1 123.0h4m-2-2v4M191.9 124.2h4m-2-2v4M191.7 117.6h4m-2-2v4M190.0 115.9h4m-2-2v4M191.1 124.4h4m-2-2v4M190.2 115.7h4m-2-2v4M297.9 150.3h4m-2-2v4M296.9 151.2h4m-2-2v4M297.5 152.2h4m-2-2v4M297.6 152.6h4m-2-2v4M298.0 153.2h4m-2-2v4M297.1 154.7h4m-2-2v4M297.3 155.1h4m-2-2v4M298.0 156.2h4m-2-2v4M298.6 157.0h4m-2-2v4M297.6 157.9h4m-2-2v4M298.5 159.1h4m-2-2v4M298.5 160.0h4m-2-2v4M297.1 160.4h4m-2-2v4M298.7 161.7h4m-2-2v4M299.1 162.7h4m-2-2v4M298.2 163.2h4m-2-2v4M296.6 164.1h4m-2-2v4M297.5 164.4h4m-2-2v4M298.2 165.5h4m-2-2v4M297.5 166.3h4m-2-2v4M297.6 167.1h4m-2-2v4M299.1 168.0h4m-2-2v4M297.4 168.8h4m-2-2v4M297.1 170.3h4m-2-2v4M296.7 171.3h4m-2-2v4M297.2 171.6h4m-2-2v4M298.5 172.4h4m-2-2v4M296.7 173.3h4m-2-2v4M296.7 174.4h4m-2-2v4M297.6 175.1h4m-2-2v4M297.2 176.4h4m-2-2v4M297.8 177.6h4m-2-2v4M298.2 178.3h4m-2-2v4M298.4 178.6h4m-2-2v4M298.5 179.7h4m-2-2v4M295.9 180.7h4m-2-2v4M298.1 181.5h4m-2-2v4M296.8 182.9h4m-2-2v4M297.7 183.1h4m-2-2v4M296.9 184.1h4m-2-2v4M295.5 185.4h4m-2-2v4M298.5 186.4h4m-2-2v4M291.5 190.7h4m-2-2v4M288.9 196.7h4m-2-2v4M293.0 193.2h4m-2-2v4M290.1 195.5h4m-2-2v4M290.1 196.9h4m-2-2v4M290.0 190.9h4m-2-2v4M289.6 190.3h4m-2-2v4M291.2 191.8h4m-2-2v4M292.4 202.2h4m-2-2v4M290.4 198.2h4m-2-2v4M291.5 201.5h4m-2-2v4M288.8 190.4h4m-2-2v4M290.2 198.8h4m-2-2v4M290.1 193.6h4m-2-2v4M364.2 215.6h4m-2-2v4M364.2 228.8h4m-2-2v4M365.0 227.3h4m-2-2v4M364.1 223.1h4m-2-2v4M364.4 222.1h4m-2-2v4M364.9 225.0h4m-2-2v4M364.3 221.4h4m-2-2v4M364.2 220.5h4m-2-2v4M365.0 213.4h4m-2-2v4M365.3 212.5h4m-2-2v4M365.2 210.6h4m-2-2v4M365.4 227.3h4m-2-2v4M365.3 220.3h4m-2-2v4M365.2 226.2h4m-2-2v4M365.3 227.7h4m-2-2v4M365.8 221.9h4m-2-2v4M365.5 234.1h4m-2-2v4M365.9 223.1h4m-2-2v4M365.1 219.0h4m-2-2v4M367.0 214.1h4m-2-2v4M366.3 210.1h4m-2-2v4M366.6 209.8h4m-2-2v4M366.4 223.2h4m-2-2v4M366.4 229.1h4m-2-2v4M366.6 217.4h4m-2-2v4M366.7 225.9h4m-2-2v4M366.6 236.9h4m-2-2v4M366.4 222.3h4m-2-2v4M366.8 228.1h4m-2-2v4M366.3 239.5h4m-2-2v4M366.2 223.0h4m-2-2v4M366.9 229.4h4m-2-2v4M366.3 228.2h4m-2-2v4M367.5 216.2h4m-2-2v4M367.5 223.8h4m-2-2v4M367.5 232.7h4m-2-2v4M367.2 231.0h4m-2-2v4M367.9 231.1h4m-2-2v4M367.7 221.1h4m-2-2v4M367.3 219.9h4m-2-2v4M367.3 224.4h4m-2-2v4M367.5 241.5h4m-2-2v4M367.5 232.8h4m-2-2v4M367.1 231.4h4m-2-2v4M367.7 224.8h4m-2-2v4M368.1 229.1h4m-2-2v4M368.6 240.6h4m-2-2v4M368.5 226.3h4m-2-2v4M368.5 230.3h4m-2-2v4M368.5 236.4h4m-2-2v4M368.7 223.0h4m-2-2v4M368.0 233.6h4m-2-2v4M368.9 224.8h4m-2-2v4M368.2 227.0h4m-2-2v4M368.0 221.1h4m-2-2v4M368.6 234.6h4m-2-2v4M368.4 222.8h4m-2-2v4M369.0 217.5h4m-2-2v4M369.4 231.5h4m-2-2v4M369.2 236.4h4m-2-2v4M369.4 227.2h4m-2-2v4M369.3 236.8h4m-2-2v4M369.4 244.7h4m-2-2v4M369.4 227.9h4m-2-2v4M369.0 222.0h4m-2-2v4M369.5 240.9h4m-2-2v4M369.5 225.9h4m-2-2v4M369.4 236.1h4m-2-2v4M369.3 240.3h4m-2-2v4M369.9 247.2h4m-2-2v4M369.4 247.0h4m-2-2v4M369.4 238.7h4m-2-2v4M370.7 214.7h4m-2-2v4M370.1 214.6h4m-2-2v4M370.0 218.4h4m-2-2v4M370.8 233.8h4m-2-2v4M370.9 244.1h4m-2-2v4M370.2 236.1h4m-2-2v4M370.4 229.9h4m-2-2v4M370.5 238.5h4m-2-2v4M370.9 237.1h4m-2-2v4M370.7 237.1h4m-2-2v4M371.0 231.3h4m-2-2v4M370.1 231.7h4m-2-2v4M370.7 231.4h4m-2-2v4M370.4 239.1h4m-2-2v4M370.6 248.4h4m-2-2v4M370.2 234.4h4m-2-2v4M370.9 239.8h4m-2-2v4M371.6 256.1h4m-2-2v4M371.7 249.7h4m-2-2v4M371.9 242.9h4m-2-2v4M372.0 243.9h4m-2-2v4M371.9 251.4h4m-2-2v4M371.8 252.8h4m-2-2v4M371.7 233.0h4m-2-2v4M371.8 250.2h4m-2-2v4M371.8 245.5h4m-2-2v4M371.2 235.6h4m-2-2v4M371.2 241.5h4m-2-2v4M371.7 240.1h4m-2-2v4M371.7 229.6h4m-2-2v4M371.7 229.6h4m-2-2v4M371.6 234.6h4m-2-2v4M371.1 243.3h4m-2-2v4M371.7 230.6h4m-2-2v4M371.8 239.8h4m-2-2v4M371.5 225.3h4m-2-2v4M371.3 249.8h4m-2-2v4M371.4 237.5h4m-2-2v4M372.7 246.9h4m-2-2v4M372.3 262.0h4m-2-2v4M372.5 241.8h4m-2-2v4M372.3 260.5h4m-2-2v4M372.7 249.6h4m-2-2v4M372.4 266.8h4m-2-2v4M372.9 255.7h4m-2-2v4M372.6 249.2h4m-2-2v4M372.4 273.2h4m-2-2v4M372.3 272.4h4m-2-2v4M373.0 246.4h4m-2-2v4M372.7 278.9h4m-2-2v4M372.6 249.6h4m-2-2v4M372.4 278.1h4m-2-2v4M372.5 246.5h4m-2-2v4M372.8 234.1h4m-2-2v4M372.7 254.2h4m-2-2v4M372.2 250.4h4m-2-2v4M372.7 256.5h4m-2-2v4M372.4 256.7h4m-2-2v4M372.2 250.3h4m-2-2v4M372.1 269.9h4m-2-2v4M373.7 235.6h4m-2-2v4M373.1 236.3h4m-2-2v4M373.9 236.5h4m-2-2v4M373.8 247.4h4m-2-2v4M373.7 244.3h4m-2-2v4M373.6 252.4h4m-2-2v4M373.3 247.6h4m-2-2v4M373.2 269.4h4m-2-2v4M373.2 266.3h4m-2-2v4M373.2 257.4h4m-2-2v4M373.7 269.1h4m-2-2v4M373.6 274.0h4m-2-2v4M373.8 243.7h4m-2-2v4M373.5 273.4h4m-2-2v4M373.6 278.6h4m-2-2v4M373.5 267.0h4m-2-2v4M374.0 247.9h4m-2-2v4M373.6 253.7h4m-2-2v4M374.0 260.1h4m-2-2v4M373.1 255.8h4m-2-2v4M373.4 253.5h4m-2-2v4M373.8 248.5h4m-2-2v4M374.1 276.4h4m-2-2v4M374.9 278.2h4m-2-2v4M374.7 279.2h4m-2-2v4M374.2 258.8h4m-2-2v4M374.6 259.1h4m-2-2v4M374.2 261.6h4m-2-2v4M374.1 272.1h4m-2-2v4M374.7 270.0h4m-2-2v4M374.0 266.3h4m-2-2v4M374.8 268.2h4m-2-2v4M374.4 264.2h4m-2-2v4M374.9 253.5h4m-2-2v4M374.9 253.2h4m-2-2v4M374.5 250.6h4m-2-2v4M374.6 267.4h4m-2-2v4M374.0 249.5h4m-2-2v4M374.3 253.5h4m-2-2v4M376.0 244.0h4m-2-2v4M375.0 242.3h4m-2-2v4M375.9 267.3h4m-2-2v4M375.6 268.9h4m-2-2v4M375.9 266.7h4m-2-2v4M375.5 259.2h4m-2-2v4M375.1 266.2h4m-2-2v4M375.4 252.7h4m-2-2v4M375.0 259.9h4m-2-2v4M375.3 254.4h4m-2-2v4M375.7 261.2h4m-2-2v4M375.3 271.3h4m-2-2v4M375.1 250.9h4m-2-2v4M376.0 255.8h4m-2-2v4M376.5 248.9h4m-2-2v4M376.2 252.3h4m-2-2v4M376.2 264.6h4m-2-2v4M376.6 250.4h4m-2-2v4M377.0 267.5h4m-2-2v4M376.3 263.9h4m-2-2v4M376.6 259.4h4m-2-2v4M376.6 255.9h4m-2-2v4M376.3 254.1h4m-2-2v4M376.3 258.3h4m-2-2v4M376.3 264.9h4m-2-2v4M377.0 246.6h4m-2-2v4M377.1 270.2h4m-2-2v4M377.1 258.7h4m-2-2v4M377.6 261.1h4m-2-2v4M377.3 263.2h4m-2-2v4M377.8 252.2h4m-2-2v4M378.0 263.1h4m-2-2v4M377.1 262.6h4m-2-2v4M377.4 255.1h4m-2-2v4M377.0 257.8h4m-2-2v4M377.2 248.4h4m-2-2v4M377.7 254.6h4m-2-2v4M377.2 256.8h4m-2-2v4M378.9 246.0h4m-2-2v4M378.1 254.8h4m-2-2v4M378.6 253.5h4m-2-2v4M378.9 249.7h4m-2-2v4M378.4 260.8h4m-2-2v4M378.3 252.4h4m-2-2v4M378.9 262.9h4m-2-2v4M378.3 256.4h4m-2-2v4M378.7 261.5h4m-2-2v4M378.2 263.8h4m-2-2v4M378.2 264.8h4m-2-2v4M380.0 241.4h4m-2-2v4M379.2 267.5h4m-2-2v4M379.7 270.8h4m-2-2v4M379.1 267.2h4m-2-2v4M379.9 259.5h4m-2-2v4M380.0 260.1h4m-2-2v4M379.0 248.2h4m-2-2v4M379.0 254.1h4m-2-2v4M379.5 252.4h4m-2-2v4M379.1 260.1h4m-2-2v4M379.1 257.5h4m-2-2v4M379.2 265.8h4m-2-2v4M379.7 245.7h4m-2-2v4M379.0 253.1h4m-2-2v4M379.0 258.8h4m-2-2v4M381.0 262.0h4m-2-2v4M380.4 256.9h4m-2-2v4M380.4 252.2h4m-2-2v4M380.6 252.0h4m-2-2v4M380.2 260.4h4m-2-2v4M380.9 240.3h4m-2-2v4M380.3 256.0h4m-2-2v4M380.3 260.0h4m-2-2v4M380.5 254.6h4m-2-2v4M380.2 255.5h4m-2-2v4M380.4 254.0h4m-2-2v4M380.7 247.5h4m-2-2v4M381.6 268.6h4m-2-2v4M382.0 265.9h4m-2-2v4M381.1 267.2h4m-2-2v4M381.4 250.5h4m-2-2v4M381.2 261.3h4m-2-2v4M381.7 253.2h4m-2-2v4M381.4 247.4h4m-2-2v4M381.4 246.1h4m-2-2v4M381.5 244.4h4m-2-2v4M381.3 246.4h4m-2-2v4M381.7 240.7h4m-2-2v4M381.0 254.0h4m-2-2v4M381.5 243.7h4m-2-2v4M381.3 256.5h4m-2-2v4M381.3 250.2h4m-2-2v4M382.3 231.7h4m-2-2v4M382.7 258.6h4m-2-2v4M382.4 249.3h4m-2-2v4M382.1 251.5h4m-2-2v4M382.9 248.9h4m-2-2v4M382.1 253.2h4m-2-2v4M382.6 255.3h4m-2-2v4M382.7 246.1h4m-2-2v4M382.2 246.4h4m-2-2v4M382.0 254.9h4m-2-2v4M382.3 241.4h4m-2-2v4M382.8 253.1h4m-2-2v4M382.2 246.7h4m-2-2v4M382.2 243.2h4m-2-2v4M383.1 246.1h4m-2-2v4M383.2 247.8h4m-2-2v4M383.1 243.5h4m-2-2v4M383.3 243.8h4m-2-2v4M383.7 244.2h4m-2-2v4M383.5 244.8h4m-2-2v4M383.9 251.5h4m-2-2v4M383.1 249.3h4m-2-2v4M383.7 247.2h4m-2-2v4M383.8 241.6h4m-2-2v4M383.2 260.9h4m-2-2v4M383.4 237.8h4m-2-2v4M383.9 257.2h4m-2-2v4M384.7 264.1h4m-2-2v4M384.7 261.4h4m-2-2v4M384.8 261.7h4m-2-2v4M384.2 254.1h4m-2-2v4M384.5 233.0h4m-2-2v4M384.2 255.7h4m-2-2v4M384.4 243.5h4m-2-2v4M384.9 248.8h4m-2-2v4M384.9 254.6h4m-2-2v4M384.7 242.3h4m-2-2v4M384.9 250.3h4m-2-2v4M384.2 239.6h4m-2-2v4M384.7 238.6h4m-2-2v4M384.4 243.8h4m-2-2v4M384.7 238.5h4m-2-2v4M384.8 257.4h4m-2-2v4M385.8 229.0h4m-2-2v4M385.2 228.3h4m-2-2v4M385.8 256.8h4m-2-2v4M385.3 232.6h4m-2-2v4M385.2 242.2h4m-2-2v4M385.3 254.3h4m-2-2v4M385.7 243.3h4m-2-2v4M385.1 230.8h4m-2-2v4M385.6 242.1h4m-2-2v4M385.4 251.6h4m-2-2v4M385.4 239.4h4m-2-2v4M385.8 234.9h4m-2-2v4M385.2 237.8h4m-2-2v4M385.3 237.1h4m-2-2v4M385.0 237.4h4m-2-2v4M386.7 224.8h4m-2-2v4M386.5 225.1h4m-2-2v4M386.1 258.8h4m-2-2v4M386.7 234.9h4m-2-2v4M386.1 233.7h4m-2-2v4M387.0 241.3h4m-2-2v4M386.1 241.8h4m-2-2v4M386.2 251.9h4m-2-2v4M386.8 235.1h4m-2-2v4M386.2 234.3h4m-2-2v4M386.8 247.3h4m-2-2v4M386.8 229.5h4m-2-2v4M386.1 252.1h4m-2-2v4M386.2 256.4h4m-2-2v4M386.7 242.3h4m-2-2v4M386.5 238.5h4m-2-2v4M388.0 259.5h4m-2-2v4M387.6 260.1h4m-2-2v4M387.5 242.5h4m-2-2v4M387.3 250.3h4m-2-2v4M387.2 239.7h4m-2-2v4M387.9 243.6h4m-2-2v4M387.6 247.9h4m-2-2v4M387.1 251.7h4m-2-2v4M387.8 245.4h4m-2-2v4M387.9 245.5h4m-2-2v4M387.9 229.6h4m-2-2v4M387.4 247.0h4m-2-2v4M387.3 239.5h4m-2-2v4M387.2 248.4h4m-2-2v4M387.7 237.2h4m-2-2v4M388.5 248.7h4m-2-2v4M388.6 243.7h4m-2-2v4M388.4 251.4h4m-2-2v4M388.1 244.5h4m-2-2v4M388.3 246.8h4m-2-2v4M388.6 254.4h4m-2-2v4M388.5 244.1h4m-2-2v4M388.5 253.1h4m-2-2v4M388.8 236.7h4m-2-2v4M388.9 262.4h4m-2-2v4M388.7 225.6h4m-2-2v4M388.4 250.8h4m-2-2v4M388.4 245.3h4m-2-2v4M388.9 245.0h4m-2-2v4M388.8 252.4h4m-2-2v4M388.4 255.4h4m-2-2v4M388.7 232.4h4m-2-2v4M389.0 247.9h4m-2-2v4M388.0 239.6h4m-2-2v4M388.6 234.6h4m-2-2v4M389.6 221.0h4m-2-2v4M389.8 218.9h4m-2-2v4M390.0 253.9h4m-2-2v4M389.3 229.7h4m-2-2v4M389.8 237.0h4m-2-2v4M389.9 229.7h4m-2-2v4M389.2 237.6h4m-2-2v4M390.0 250.2h4m-2-2v4M389.2 230.7h4m-2-2v4M389.4 239.6h4m-2-2v4M389.3 231.6h4m-2-2v4M389.5 259.5h4m-2-2v4M389.8 249.7h4m-2-2v4M389.6 252.2h4m-2-2v4M389.3 238.6h4m-2-2v4M389.5 235.3h4m-2-2v4M389.3 253.3h4m-2-2v4M389.4 229.5h4m-2-2v4M389.5 255.8h4m-2-2v4M389.4 243.6h4m-2-2v4M390.0 250.6h4m-2-2v4M389.8 240.0h4m-2-2v4M390.2 269.4h4m-2-2v4M390.9 268.1h4m-2-2v4M390.5 252.5h4m-2-2v4M390.1 243.1h4m-2-2v4M390.9 252.4h4m-2-2v4M390.4 259.0h4m-2-2v4M390.8 229.6h4m-2-2v4M390.8 245.0h4m-2-2v4M390.9 255.7h4m-2-2v4M390.6 254.0h4m-2-2v4M390.6 254.4h4m-2-2v4M390.3 239.9h4m-2-2v4M391.0 239.9h4m-2-2v4M390.8 239.9h4m-2-2v4M390.3 253.0h4m-2-2v4M390.0 241.8h4m-2-2v4M390.3 237.5h4m-2-2v4M390.2 259.3h4m-2-2v4M390.5 224.2h4m-2-2v4M390.0 238.2h4m-2-2v4M390.7 247.2h4m-2-2v4M390.2 261.2h4m-2-2v4M392.0 236.2h4m-2-2v4M391.7 235.0h4m-2-2v4M391.4 250.9h4m-2-2v4M391.4 232.0h4m-2-2v4M391.2 235.0h4m-2-2v4M391.7 266.2h4m-2-2v4M391.9 263.9h4m-2-2v4M391.7 242.6h4m-2-2v4M391.7 234.7h4m-2-2v4M391.6 228.1h4m-2-2v4M391.4 262.9h4m-2-2v4M391.5 243.8h4m-2-2v4M391.5 267.0h4m-2-2v4M391.8 244.3h4m-2-2v4M391.1 228.0h4m-2-2v4M391.5 243.8h4m-2-2v4M391.7 265.0h4m-2-2v4M391.4 259.7h4m-2-2v4M391.1 244.5h4m-2-2v4M391.0 259.9h4m-2-2v4M392.6 270.7h4m-2-2v4M392.9 268.1h4m-2-2v4M392.5 269.5h4m-2-2v4M392.2 234.3h4m-2-2v4M392.4 228.2h4m-2-2v4M392.1 250.6h4m-2-2v4M392.7 240.8h4m-2-2v4M392.5 241.2h4m-2-2v4M392.7 234.2h4m-2-2v4M392.7 256.9h4m-2-2v4M392.1 234.1h4m-2-2v4M392.2 240.9h4m-2-2v4M392.8 251.6h4m-2-2v4M392.0 227.7h4m-2-2v4M392.8 249.4h4m-2-2v4M392.2 253.2h4m-2-2v4M392.6 227.4h4m-2-2v4M392.8 228.1h4m-2-2v4M392.7 231.8h4m-2-2v4M392.2 260.6h4m-2-2v4M392.9 223.7h4m-2-2v4M392.6 259.8h4m-2-2v4M392.6 249.8h4m-2-2v4M393.3 224.1h4m-2-2v4M393.0 269.5h4m-2-2v4M393.8 243.6h4m-2-2v4M393.4 229.6h4m-2-2v4M393.5 259.5h4m-2-2v4M393.8 248.2h4m-2-2v4M393.1 251.4h4m-2-2v4M393.8 242.5h4m-2-2v4M393.6 247.2h4m-2-2v4M393.6 265.1h4m-2-2v4M393.8 264.9h4m-2-2v4M393.7 226.1h4m-2-2v4M393.8 243.7h4m-2-2v4M393.2 245.8h4m-2-2v4M393.3 236.6h4m-2-2v4M394.0 253.5h4m-2-2v4M393.8 261.6h4m-2-2v4M393.8 234.3h4m-2-2v4M393.2 263.7h4m-2-2v4M393.3 258.6h4m-2-2v4M393.9 259.7h4m-2-2v4M394.5 225.6h4m-2-2v4M395.0 224.0h4m-2-2v4M394.2 225.4h4m-2-2v4M394.5 262.1h4m-2-2v4M395.0 253.2h4m-2-2v4M394.0 238.6h4m-2-2v4M395.0 257.2h4m-2-2v4M394.7 233.4h4m-2-2v4M394.7 262.2h4m-2-2v4M394.6 255.8h4m-2-2v4M394.7 229.0h4m-2-2v4M394.4 259.0h4m-2-2v4M394.7 239.1h4m-2-2v4M394.2 251.1h4m-2-2v4M394.4 254.9h4m-2-2v4M394.8 228.6h4m-2-2v4M394.2 264.4h4m-2-2v4M394.7 251.0h4m-2-2v4M394.2 255.9h4m-2-2v4M394.7 250.7h4m-2-2v4M394.4 255.6h4m-2-2v4M394.2 248.6h4m-2-2v4M395.1 231.8h4m-2-2v4M395.2 231.2h4m-2-2v4M395.8 230.4h4m-2-2v4M395.2 269.1h4m-2-2v4M395.2 267.5h4m-2-2v4M395.4 248.6h4m-2-2v4M395.7 240.9h4m-2-2v4M395.1 248.6h4m-2-2v4M395.1 239.9h4m-2-2v4M395.4 247.1h4m-2-2v4M395.9 249.4h4m-2-2v4M395.6 262.5h4m-2-2v4M395.9 236.8h4m-2-2v4M395.5 251.3h4m-2-2v4M395.1 242.0h4m-2-2v4M395.5 246.1h4m-2-2v4M395.2 251.7h4m-2-2v4M395.5 252.8h4m-2-2v4M395.0 248.9h4m-2-2v4M395.5 254.3h4m-2-2v4M396.4 230.8h4m-2-2v4M396.9 231.8h4m-2-2v4M396.2 231.2h4m-2-2v4M396.2 272.4h4m-2-2v4M396.0 269.2h4m-2-2v4M396.1 241.9h4m-2-2v4M396.6 247.0h4m-2-2v4M396.9 259.8h4m-2-2v4M396.5 268.6h4m-2-2v4M396.2 259.8h4m-2-2v4M396.2 248.0h4m-2-2v4M396.7 252.0h4m-2-2v4M396.0 252.4h4m-2-2v4M396.7 253.5h4m-2-2v4M396.1 240.1h4m-2-2v4M396.6 242.2h4m-2-2v4M396.6 261.4h4m-2-2v4M396.9 258.0h4m-2-2v4M396.1 240.6h4m-2-2v4M396.3 267.7h4m-2-2v4M397.8 258.3h4m-2-2v4M397.1 244.7h4m-2-2v4M397.6 263.2h4m-2-2v4M398.0 261.0h4m-2-2v4M397.2 246.6h4m-2-2v4M397.5 259.3h4m-2-2v4M397.5 258.9h4m-2-2v4M397.0 252.4h4m-2-2v4M397.7 265.6h4m-2-2v4M397.2 250.9h4m-2-2v4M397.2 250.2h4m-2-2v4M397.9 244.4h4m-2-2v4M397.4 258.6h4m-2-2v4M397.1 241.7h4m-2-2v4M397.1 247.6h4m-2-2v4M398.7 243.1h4m-2-2v4M398.7 263.8h4m-2-2v4M398.8 256.3h4m-2-2v4M398.7 252.6h4m-2-2v4M398.3 262.3h4m-2-2v4M398.8 264.1h4m-2-2v4M398.2 235.2h4m-2-2v4M398.7 237.7h4m-2-2v4M398.7 251.1h4m-2-2v4M399.0 266.7h4m-2-2v4M398.1 246.0h4m-2-2v4M398.3 240.0h4m-2-2v4M398.1 256.9h4m-2-2v4M398.3 261.3h4m-2-2v4M398.3 259.7h4m-2-2v4M399.4 231.5h4m-2-2v4M399.8 246.0h4m-2-2v4M399.7 260.1h4m-2-2v4M399.2 235.9h4m-2-2v4M399.6 244.5h4m-2-2v4M399.6 249.0h4m-2-2v4M399.7 233.8h4m-2-2v4M399.2 242.6h4m-2-2v4M399.7 253.7h4m-2-2v4M399.2 243.3h4m-2-2v4M399.3 260.0h4m-2-2v4M399.7 265.4h4m-2-2v4M399.3 243.5h4m-2-2v4M399.1 242.3h4m-2-2v4M399.2 264.5h4m-2-2v4M399.5 250.2h4m-2-2v4M399.4 257.1h4m-2-2v4M400.2 227.4h4m-2-2v4M400.3 226.0h4m-2-2v4M400.8 268.5h4m-2-2v4M400.6 248.1h4m-2-2v4M400.0 270.7h4m-2-2v4M400.1 248.4h4m-2-2v4M400.3 231.3h4m-2-2v4M400.8 238.8h4m-2-2v4M401.0 247.8h4m-2-2v4M400.1 257.8h4m-2-2v4M400.2 235.8h4m-2-2v4M400.4 254.5h4m-2-2v4M400.1 239.5h4m-2-2v4M400.9 262.0h4m-2-2v4M400.3 248.4h4m-2-2v4M400.7 251.3h4m-2-2v4M400.8 243.9h4m-2-2v4M401.0 234.7h4m-2-2v4M400.3 235.8h4m-2-2v4M400.3 264.7h4m-2-2v4M400.6 228.7h4m-2-2v4M401.3 263.5h4m-2-2v4M401.3 242.4h4m-2-2v4M401.1 236.3h4m-2-2v4M401.4 254.2h4m-2-2v4M401.8 237.1h4m-2-2v4M401.8 269.7h4m-2-2v4M401.8 249.0h4m-2-2v4M401.8 232.2h4m-2-2v4M401.3 263.3h4m-2-2v4M401.9 232.5h4m-2-2v4M401.7 256.0h4m-2-2v4M401.0 264.4h4m-2-2v4M401.5 241.2h4m-2-2v4M401.8 239.3h4m-2-2v4M401.1 248.7h4m-2-2v4M401.1 229.3h4m-2-2v4M401.2 264.8h4m-2-2v4M401.3 254.0h4m-2-2v4M401.5 265.7h4m-2-2v4M402.8 221.7h4m-2-2v4M402.5 224.2h4m-2-2v4M402.5 221.6h4m-2-2v4M402.7 253.9h4m-2-2v4M402.7 230.3h4m-2-2v4M402.0 250.0h4m-2-2v4M402.1 247.8h4m-2-2v4M402.8 258.8h4m-2-2v4M402.2 263.6h4m-2-2v4M402.4 241.5h4m-2-2v4M402.9 248.1h4m-2-2v4M402.2 248.8h4m-2-2v4M402.7 231.1h4m-2-2v4M403.0 249.5h4m-2-2v4M402.2 264.8h4m-2-2v4M402.8 249.7h4m-2-2v4M402.0 246.9h4m-2-2v4M402.9 266.8h4m-2-2v4M402.9 256.3h4m-2-2v4M402.4 240.1h4m-2-2v4M402.5 232.4h4m-2-2v4M402.7 241.8h4m-2-2v4M403.1 243.8h4m-2-2v4M403.2 245.4h4m-2-2v4M403.0 261.0h4m-2-2v4M403.9 234.7h4m-2-2v4M403.2 260.5h4m-2-2v4M403.2 240.1h4m-2-2v4M403.6 239.4h4m-2-2v4M403.3 242.0h4m-2-2v4M403.8 241.1h4m-2-2v4M403.5 245.8h4m-2-2v4M403.2 228.0h4m-2-2v4M403.7 238.5h4m-2-2v4M403.8 253.5h4m-2-2v4M403.0 250.1h4m-2-2v4M403.7 264.4h4m-2-2v4M403.2 251.8h4m-2-2v4M403.0 253.3h4m-2-2v4M403.7 241.0h4m-2-2v4M403.8 231.0h4m-2-2v4M405.0 266.7h4m-2-2v4M404.8 234.3h4m-2-2v4M404.5 245.1h4m-2-2v4M404.3 248.6h4m-2-2v4M404.9 223.5h4m-2-2v4M404.1 257.1h4m-2-2v4M404.0 253.2h4m-2-2v4M404.4 241.4h4m-2-2v4M404.3 245.9h4m-2-2v4M404.9 255.1h4m-2-2v4M404.8 229.1h4m-2-2v4M404.0 243.8h4m-2-2v4M404.4 249.5h4m-2-2v4M404.2 228.0h4m-2-2v4M404.0 236.7h4m-2-2v4M404.2 234.6h4m-2-2v4M404.9 247.8h4m-2-2v4M404.4 237.6h4m-2-2v4M404.9 229.8h4m-2-2v4M404.8 249.3h4m-2-2v4M405.8 244.5h4m-2-2v4M405.0 248.8h4m-2-2v4M405.5 249.0h4m-2-2v4M405.5 245.6h4m-2-2v4M405.9 251.1h4m-2-2v4M405.8 236.6h4m-2-2v4M405.2 237.4h4m-2-2v4M405.3 241.7h4m-2-2v4M406.0 228.1h4m-2-2v4M405.2 248.5h4m-2-2v4M405.0 246.8h4m-2-2v4M405.8 235.6h4m-2-2v4M405.5 261.8h4m-2-2v4M406.0 242.2h4m-2-2v4M405.0 236.3h4m-2-2v4M405.5 236.6h4m-2-2v4M405.4 258.6h4m-2-2v4M405.4 258.8h4m-2-2v4M405.1 239.8h4m-2-2v4M406.8 219.5h4m-2-2v4M406.8 264.9h4m-2-2v4M406.7 265.0h4m-2-2v4M406.3 249.7h4m-2-2v4M407.0 221.8h4m-2-2v4M406.8 232.6h4m-2-2v4M406.9 251.8h4m-2-2v4M406.4 256.7h4m-2-2v4M406.3 222.2h4m-2-2v4M406.8 251.8h4m-2-2v4M406.1 232.4h4m-2-2v4M406.6 261.3h4m-2-2v4M406.8 247.8h4m-2-2v4M406.3 226.9h4m-2-2v4M406.2 226.8h4m-2-2v4M406.2 242.7h4m-2-2v4M406.4 246.9h4m-2-2v4M406.2 227.9h4m-2-2v4M406.4 235.6h4m-2-2v4M406.3 246.0h4m-2-2v4M406.9 252.3h4m-2-2v4M406.1 241.4h4m-2-2v4M408.0 212.1h4m-2-2v4M407.4 217.0h4m-2-2v4M407.5 214.4h4m-2-2v4M407.1 256.0h4m-2-2v4M407.6 239.2h4m-2-2v4M407.7 231.5h4m-2-2v4M407.6 238.4h4m-2-2v4M407.7 231.5h4m-2-2v4M407.3 237.5h4m-2-2v4M407.0 229.7h4m-2-2v4M407.8 243.2h4m-2-2v4M407.9 255.4h4m-2-2v4M407.7 244.3h4m-2-2v4M407.3 242.8h4m-2-2v4M407.6 225.0h4m-2-2v4M407.8 221.6h4m-2-2v4M407.3 251.2h4m-2-2v4M407.3 232.3h4m-2-2v4M407.8 237.1h4m-2-2v4M407.1 231.6h4m-2-2v4M408.0 255.5h4m-2-2v4M408.7 238.7h4m-2-2v4M408.1 243.3h4m-2-2v4M408.2 235.8h4m-2-2v4M408.6 232.4h4m-2-2v4M408.0 235.6h4m-2-2v4M408.2 227.4h4m-2-2v4M408.4 229.4h4m-2-2v4M408.2 242.3h4m-2-2v4M408.5 235.9h4m-2-2v4M408.6 224.4h4m-2-2v4M408.1 232.3h4m-2-2v4M408.9 228.6h4m-2-2v4M408.9 220.5h4m-2-2v4M408.1 249.2h4m-2-2v4M408.2 232.7h4m-2-2v4M408.1 245.1h4m-2-2v4M408.5 222.9h4m-2-2v4M408.4 233.9h4m-2-2v4M409.7 214.4h4m-2-2v4M410.0 214.8h4m-2-2v4M409.4 255.9h4m-2-2v4M409.7 254.9h4m-2-2v4M409.2 217.8h4m-2-2v4M410.0 234.5h4m-2-2v4M409.2 236.7h4m-2-2v4M409.9 227.3h4m-2-2v4M409.1 242.0h4m-2-2v4M409.6 244.9h4m-2-2v4M409.1 240.7h4m-2-2v4M409.3 234.5h4m-2-2v4M410.0 231.1h4m-2-2v4M409.9 246.3h4m-2-2v4M409.1 230.0h4m-2-2v4M409.0 251.8h4m-2-2v4M409.3 250.8h4m-2-2v4M409.9 238.2h4m-2-2v4M409.6 252.3h4m-2-2v4M409.2 229.0h4m-2-2v4M409.5 230.4h4m-2-2v4M409.5 231.5h4m-2-2v4M410.7 219.6h4m-2-2v4M410.8 217.8h4m-2-2v4M410.9 233.4h4m-2-2v4M410.7 238.0h4m-2-2v4M410.5 241.2h4m-2-2v4M410.7 247.1h4m-2-2v4M410.7 244.0h4m-2-2v4M410.3 238.9h4m-2-2v4M410.5 245.3h4m-2-2v4M410.8 237.3h4m-2-2v4M410.7 234.6h4m-2-2v4M410.7 253.6h4m-2-2v4M410.9 244.4h4m-2-2v4M410.2 253.3h4m-2-2v4M410.3 252.0h4m-2-2v4M410.4 227.7h4m-2-2v4M410.4 225.0h4m-2-2v4M410.4 235.3h4m-2-2v4M410.3 227.8h4m-2-2v4M411.2 224.6h4m-2-2v4M411.0 223.0h4m-2-2v4M411.7 223.2h4m-2-2v4M411.2 255.6h4m-2-2v4M411.2 246.3h4m-2-2v4M411.3 247.6h4m-2-2v4M411.5 238.7h4m-2-2v4M411.4 247.3h4m-2-2v4M411.9 234.6h4m-2-2v4M411.4 227.5h4m-2-2v4M411.8 235.5h4m-2-2v4M411.5 236.7h4m-2-2v4M411.6 252.9h4m-2-2v4M411.5 239.5h4m-2-2v4M411.1 235.2h4m-2-2v4M411.4 237.8h4m-2-2v4M411.0 240.0h4m-2-2v4M411.5 236.2h4m-2-2v4M411.5 243.5h4m-2-2v4M412.6 230.6h4m-2-2v4M412.3 231.3h4m-2-2v4M412.7 260.6h4m-2-2v4M412.1 236.2h4m-2-2v4M412.9 253.3h4m-2-2v4M412.5 247.9h4m-2-2v4M412.2 264.1h4m-2-2v4M412.1 245.8h4m-2-2v4M412.3 255.8h4m-2-2v4M412.5 249.9h4m-2-2v4M412.5 256.8h4m-2-2v4M412.7 254.2h4m-2-2v4M412.7 241.6h4m-2-2v4M413.0 259.7h4m-2-2v4M412.8 255.8h4m-2-2v4M412.3 237.3h4m-2-2v4M412.5 249.9h4m-2-2v4M413.1 236.2h4m-2-2v4M413.8 235.8h4m-2-2v4M413.1 236.5h4m-2-2v4M413.0 252.9h4m-2-2v4M413.5 253.5h4m-2-2v4M413.6 253.2h4m-2-2v4M413.7 240.2h4m-2-2v4M413.7 248.1h4m-2-2v4M413.1 245.1h4m-2-2v4M413.6 269.0h4m-2-2v4M413.0 258.3h4m-2-2v4M413.7 253.8h4m-2-2v4M413.9 250.6h4m-2-2v4M413.4 263.9h4m-2-2v4M413.9 261.6h4m-2-2v4M413.1 247.0h4m-2-2v4M413.8 256.0h4m-2-2v4M414.4 267.2h4m-2-2v4M414.2 256.2h4m-2-2v4M414.2 267.9h4m-2-2v4M414.2 256.0h4m-2-2v4M414.3 251.8h4m-2-2v4M414.8 248.0h4m-2-2v4M414.9 247.5h4m-2-2v4M414.1 255.5h4m-2-2v4M414.9 250.1h4m-2-2v4M415.0 262.5h4m-2-2v4M414.4 254.9h4m-2-2v4M414.3 243.9h4m-2-2v4M414.7 250.3h4m-2-2v4M414.6 267.3h4m-2-2v4M415.1 251.2h4m-2-2v4M416.0 257.4h4m-2-2v4M415.9 251.9h4m-2-2v4M416.0 254.3h4m-2-2v4M415.8 239.2h4m-2-2v4M415.9 254.7h4m-2-2v4M415.3 255.5h4m-2-2v4M415.2 263.1h4m-2-2v4M415.1 245.5h4m-2-2v4M415.2 253.9h4m-2-2v4M415.5 260.1h4m-2-2v4M415.7 258.9h4m-2-2v4M415.5 265.0h4m-2-2v4M415.8 256.0h4m-2-2v4M416.1 258.7h4m-2-2v4M416.4 247.0h4m-2-2v4M416.2 263.0h4m-2-2v4M416.4 257.1h4m-2-2v4M416.1 247.6h4m-2-2v4M416.7 238.5h4m-2-2v4M416.1 260.6h4m-2-2v4M416.2 239.6h4m-2-2v4M417.0 246.3h4m-2-2v4M416.9 259.4h4m-2-2v4M416.6 260.5h4m-2-2v4M416.1 245.5h4m-2-2v4M416.9 255.9h4m-2-2v4M416.4 253.4h4m-2-2v4M416.8 255.5h4m-2-2v4M417.2 269.3h4m-2-2v4M417.2 248.7h4m-2-2v4M417.9 250.6h4m-2-2v4M417.7 243.4h4m-2-2v4M417.1 250.6h4m-2-2v4M417.0 248.9h4m-2-2v4M417.2 245.8h4m-2-2v4M417.5 245.6h4m-2-2v4M417.4 254.9h4m-2-2v4M417.7 244.4h4m-2-2v4M417.4 259.6h4m-2-2v4M417.1 243.4h4m-2-2v4M417.6 251.8h4m-2-2v4M417.4 250.0h4m-2-2v4M418.8 239.3h4m-2-2v4M418.5 240.6h4m-2-2v4M418.5 272.2h4m-2-2v4M418.4 253.4h4m-2-2v4M418.3 270.8h4m-2-2v4M419.0 262.6h4m-2-2v4M418.2 271.3h4m-2-2v4M418.8 256.7h4m-2-2v4M418.3 258.8h4m-2-2v4M418.1 258.0h4m-2-2v4M418.7 261.5h4m-2-2v4M418.4 252.3h4m-2-2v4M418.7 257.4h4m-2-2v4M418.2 269.9h4m-2-2v4M418.8 257.3h4m-2-2v4M418.7 262.7h4m-2-2v4M418.8 260.1h4m-2-2v4M419.8 237.8h4m-2-2v4M419.7 237.7h4m-2-2v4M419.2 272.1h4m-2-2v4M419.1 244.9h4m-2-2v4M419.2 257.9h4m-2-2v4M419.3 252.7h4m-2-2v4M419.0 255.0h4m-2-2v4M419.2 252.6h4m-2-2v4M419.6 259.6h4m-2-2v4M419.4 270.7h4m-2-2v4M419.1 263.6h4m-2-2v4M419.7 257.1h4m-2-2v4M419.2 249.2h4m-2-2v4M419.7 257.9h4m-2-2v4M419.6 258.7h4m-2-2v4M419.8 260.2h4m-2-2v4M419.1 250.4h4m-2-2v4M420.9 259.8h4m-2-2v4M420.3 244.2h4m-2-2v4M420.8 248.5h4m-2-2v4M420.9 253.7h4m-2-2v4M420.9 263.0h4m-2-2v4M420.2 249.0h4m-2-2v4M420.0 262.1h4m-2-2v4M420.8 265.1h4m-2-2v4M420.2 257.0h4m-2-2v4M420.5 250.8h4m-2-2v4M421.0 242.4h4m-2-2v4M420.1 253.9h4m-2-2v4M420.7 270.9h4m-2-2v4M420.6 250.8h4m-2-2v4M421.4 274.3h4m-2-2v4M421.1 274.7h4m-2-2v4M421.8 264.5h4m-2-2v4M422.0 265.7h4m-2-2v4M421.3 270.4h4m-2-2v4M421.9 249.2h4m-2-2v4M421.4 250.7h4m-2-2v4M421.6 251.8h4m-2-2v4M421.9 259.2h4m-2-2v4M421.6 257.3h4m-2-2v4M421.7 271.9h4m-2-2v4M421.5 261.4h4m-2-2v4M421.7 260.2h4m-2-2v4M421.1 264.2h4m-2-2v4M421.2 260.8h4m-2-2v4M421.6 251.6h4m-2-2v4M422.6 233.9h4m-2-2v4M422.8 235.6h4m-2-2v4M422.3 253.2h4m-2-2v4M422.2 261.7h4m-2-2v4M422.1 243.7h4m-2-2v4M422.7 258.8h4m-2-2v4M422.1 264.6h4m-2-2v4M422.2 268.7h4m-2-2v4M422.2 236.1h4m-2-2v4M422.8 239.5h4m-2-2v4M422.8 258.1h4m-2-2v4M423.0 247.5h4m-2-2v4M422.9 247.0h4m-2-2v4M422.7 265.5h4m-2-2v4M422.3 244.8h4m-2-2v4M422.1 265.9h4m-2-2v4M422.2 260.3h4m-2-2v4M422.1 263.1h4m-2-2v4M423.8 236.3h4m-2-2v4M423.2 254.9h4m-2-2v4M423.1 249.9h4m-2-2v4M423.2 259.9h4m-2-2v4M423.4 246.9h4m-2-2v4M423.8 261.7h4m-2-2v4M423.5 248.6h4m-2-2v4M423.3 247.3h4m-2-2v4M423.9 259.5h4m-2-2v4M423.9 252.4h4m-2-2v4M423.9 247.3h4m-2-2v4M423.8 262.5h4m-2-2v4M423.4 266.1h4m-2-2v4M423.4 241.0h4m-2-2v4M423.7 269.0h4m-2-2v4M423.3 252.7h4m-2-2v4M424.5 264.9h4m-2-2v4M424.9 251.9h4m-2-2v4M424.0 267.2h4m-2-2v4M424.4 258.9h4m-2-2v4M424.4 244.3h4m-2-2v4M424.7 240.5h4m-2-2v4M424.2 263.2h4m-2-2v4M424.9 240.5h4m-2-2v4M424.5 262.0h4m-2-2v4M424.4 264.3h4m-2-2v4M424.5 251.6h4m-2-2v4M424.4 271.9h4m-2-2v4M424.2 257.2h4m-2-2v4M424.9 245.7h4m-2-2v4M424.4 256.3h4m-2-2v4M425.5 242.9h4m-2-2v4M425.1 246.6h4m-2-2v4M425.3 261.7h4m-2-2v4M426.0 258.7h4m-2-2v4M425.9 273.6h4m-2-2v4M425.1 267.3h4m-2-2v4M425.8 253.9h4m-2-2v4M425.2 270.5h4m-2-2v4M425.4 255.0h4m-2-2v4M425.4 261.2h4m-2-2v4M425.2 250.2h4m-2-2v4M425.6 270.5h4m-2-2v4M425.1 272.4h4m-2-2v4M425.8 263.1h4m-2-2v4M425.6 261.5h4m-2-2v4M425.6 250.2h4m-2-2v4M426.8 258.2h4m-2-2v4M426.8 271.3h4m-2-2v4M426.8 262.7h4m-2-2v4M427.0 264.7h4m-2-2v4M426.2 255.4h4m-2-2v4M426.6 264.1h4m-2-2v4M426.6 259.6h4m-2-2v4M426.8 267.2h4m-2-2v4M426.3 266.5h4m-2-2v4M426.7 270.9h4m-2-2v4M426.3 255.8h4m-2-2v4M426.6 253.8h4m-2-2v4M427.0 260.8h4m-2-2v4M426.5 268.3h4m-2-2v4M426.4 261.7h4m-2-2v4M427.2 243.5h4m-2-2v4M427.5 244.6h4m-2-2v4M427.3 253.8h4m-2-2v4M427.2 265.2h4m-2-2v4M427.9 260.5h4m-2-2v4M427.5 252.7h4m-2-2v4M427.3 261.8h4m-2-2v4M427.9 277.6h4m-2-2v4M427.5 260.4h4m-2-2v4M427.3 262.2h4m-2-2v4M427.8 257.0h4m-2-2v4M427.5 278.2h4m-2-2v4M427.5 264.0h4m-2-2v4M427.1 251.9h4m-2-2v4M427.6 256.3h4m-2-2v4M427.3 266.5h4m-2-2v4M427.5 273.2h4m-2-2v4M429.0 279.2h4m-2-2v4M428.1 270.2h4m-2-2v4M428.6 244.9h4m-2-2v4M428.4 266.2h4m-2-2v4M428.3 245.4h4m-2-2v4M428.3 276.2h4m-2-2v4M428.2 249.7h4m-2-2v4M428.7 269.3h4m-2-2v4M428.0 264.6h4m-2-2v4M429.0 275.3h4m-2-2v4M428.0 256.0h4m-2-2v4M428.5 268.2h4m-2-2v4M428.3 266.7h4m-2-2v4M428.9 263.1h4m-2-2v4M429.0 256.1h4m-2-2v4M428.1 270.2h4m-2-2v4M428.9 270.0h4m-2-2v4M429.8 281.3h4m-2-2v4M429.2 282.9h4m-2-2v4M429.3 283.1h4m-2-2v4M429.8 248.7h4m-2-2v4M429.7 270.8h4m-2-2v4M429.8 262.1h4m-2-2v4M429.9 267.1h4m-2-2v4M429.6 261.3h4m-2-2v4M429.6 258.8h4m-2-2v4M429.6 257.8h4m-2-2v4M430.0 263.7h4m-2-2v4M429.4 247.6h4m-2-2v4M429.9 257.6h4m-2-2v4M429.1 276.3h4m-2-2v4M429.2 252.4h4m-2-2v4M429.8 262.1h4m-2-2v4M429.9 272.4h4m-2-2v4M429.7 257.7h4m-2-2v4M429.1 273.1h4m-2-2v4M429.5 276.2h4m-2-2v4M430.9 280.3h4m-2-2v4M430.7 279.6h4m-2-2v4M430.2 253.3h4m-2-2v4M430.3 257.1h4m-2-2v4M430.2 276.7h4m-2-2v4M430.3 260.1h4m-2-2v4M430.6 253.3h4m-2-2v4M430.2 251.9h4m-2-2v4M430.9 256.7h4m-2-2v4M430.8 266.1h4m-2-2v4M430.2 250.7h4m-2-2v4M430.4 256.9h4m-2-2v4M430.8 262.7h4m-2-2v4M431.0 260.4h4m-2-2v4M430.4 264.1h4m-2-2v4M430.7 257.9h4m-2-2v4M430.2 263.7h4m-2-2v4M430.0 246.5h4m-2-2v4M430.2 271.8h4m-2-2v4M430.3 252.2h4m-2-2v4M431.9 241.6h4m-2-2v4M431.3 258.4h4m-2-2v4M431.6 271.8h4m-2-2v4M431.3 239.3h4m-2-2v4M431.3 257.4h4m-2-2v4M431.9 257.3h4m-2-2v4M432.0 262.9h4m-2-2v4M431.3 257.8h4m-2-2v4M431.6 264.5h4m-2-2v4M431.2 244.0h4m-2-2v4M431.7 257.0h4m-2-2v4M431.2 247.1h4m-2-2v4M431.5 259.4h4m-2-2v4M431.9 254.3h4m-2-2v4M431.3 243.2h4m-2-2v4M431.8 267.9h4m-2-2v4M431.1 264.6h4m-2-2v4M431.4 243.6h4m-2-2v4M432.2 272.2h4m-2-2v4M432.4 272.7h4m-2-2v4M432.5 248.8h4m-2-2v4M432.8 254.1h4m-2-2v4M432.9 254.6h4m-2-2v4M432.2 245.1h4m-2-2v4M432.0 259.1h4m-2-2v4M432.9 252.4h4m-2-2v4M432.1 245.9h4m-2-2v4M432.9 250.2h4m-2-2v4M432.0 244.1h4m-2-2v4M432.1 256.8h4m-2-2v4M432.7 246.2h4m-2-2v4M432.6 250.7h4m-2-2v4M432.6 259.7h4m-2-2v4M432.4 233.6h4m-2-2v4M432.3 261.0h4m-2-2v4M432.1 241.9h4m-2-2v4M433.0 249.6h4m-2-2v4M432.8 250.9h4m-2-2v4M433.9 235.6h4m-2-2v4M433.9 260.5h4m-2-2v4M434.0 251.4h4m-2-2v4M433.3 252.4h4m-2-2v4M433.9 244.8h4m-2-2v4M433.1 254.0h4m-2-2v4M433.3 256.1h4m-2-2v4M434.0 258.3h4m-2-2v4M433.6 254.6h4m-2-2v4M433.6 257.8h4m-2-2v4M433.1 256.1h4m-2-2v4M433.4 251.5h4m-2-2v4M433.9 253.2h4m-2-2v4M433.5 249.4h4m-2-2v4M434.0 248.4h4m-2-2v4M433.7 251.7h4m-2-2v4M433.7 241.4h4m-2-2v4M433.4 256.8h4m-2-2v4M434.2 272.3h4m-2-2v4M434.5 271.5h4m-2-2v4M434.9 271.7h4m-2-2v4M434.1 250.9h4m-2-2v4M434.0 257.2h4m-2-2v4M434.9 252.4h4m-2-2v4M434.3 251.4h4m-2-2v4M434.4 258.4h4m-2-2v4M434.9 240.9h4m-2-2v4M434.8 233.0h4m-2-2v4M434.0 262.4h4m-2-2v4M434.5 242.2h4m-2-2v4M434.0 239.4h4m-2-2v4M434.5 230.2h4m-2-2v4M434.7 253.5h4m-2-2v4M434.4 251.1h4m-2-2v4M434.8 233.6h4m-2-2v4M434.0 229.6h4m-2-2v4M434.5 246.2h4m-2-2v4M434.3 249.1h4m-2-2v4M434.7 259.8h4m-2-2v4M434.4 258.9h4m-2-2v4M435.6 269.7h4m-2-2v4M435.6 271.2h4m-2-2v4M435.8 268.5h4m-2-2v4M436.0 247.8h4m-2-2v4M435.1 258.6h4m-2-2v4M435.3 242.0h4m-2-2v4M435.3 232.9h4m-2-2v4M435.8 246.7h4m-2-2v4M435.7 255.1h4m-2-2v4M436.0 225.8h4m-2-2v4M435.3 232.1h4m-2-2v4M435.5 264.3h4m-2-2v4M435.2 239.5h4m-2-2v4M435.4 267.0h4m-2-2v4M435.8 242.3h4m-2-2v4M435.5 247.1h4m-2-2v4M435.1 234.9h4m-2-2v4M435.9 228.2h4m-2-2v4M435.4 246.0h4m-2-2v4M435.5 239.5h4m-2-2v4M435.9 254.7h4m-2-2v4M435.2 243.6h4m-2-2v4M435.9 252.9h4m-2-2v4M436.1 221.2h4m-2-2v4M436.1 222.3h4m-2-2v4M436.5 269.4h4m-2-2v4M436.4 269.1h4m-2-2v4M436.5 231.1h4m-2-2v4M436.9 228.5h4m-2-2v4M436.3 241.2h4m-2-2v4M436.9 231.7h4m-2-2v4M436.9 264.3h4m-2-2v4M436.8 225.5h4m-2-2v4M436.0 253.6h4m-2-2v4M436.0 264.5h4m-2-2v4M436.8 241.5h4m-2-2v4M436.6 239.1h4m-2-2v4M436.8 251.9h4m-2-2v4M436.9 242.7h4m-2-2v4M436.8 251.3h4m-2-2v4M436.9 243.1h4m-2-2v4M436.9 253.4h4m-2-2v4M436.6 242.6h4m-2-2v4M436.6 252.7h4m-2-2v4M436.7 264.8h4m-2-2v4M436.2 245.9h4m-2-2v4M437.1 219.6h4m-2-2v4M437.4 217.9h4m-2-2v4M437.8 265.3h4m-2-2v4M437.3 266.5h4m-2-2v4M437.4 265.4h4m-2-2v4M437.7 253.6h4m-2-2v4M437.6 237.5h4m-2-2v4M437.1 224.0h4m-2-2v4M437.7 251.1h4m-2-2v4M437.2 250.7h4m-2-2v4M437.6 230.0h4m-2-2v4M437.4 251.8h4m-2-2v4M437.9 232.3h4m-2-2v4M437.3 251.6h4m-2-2v4M437.6 245.0h4m-2-2v4M437.4 220.5h4m-2-2v4M437.8 238.9h4m-2-2v4M437.1 226.0h4m-2-2v4M437.4 231.0h4m-2-2v4M437.3 227.6h4m-2-2v4M437.8 225.4h4m-2-2v4M437.9 256.3h4m-2-2v4M437.1 241.4h4m-2-2v4M437.1 233.8h4m-2-2v4M438.4 255.0h4m-2-2v4M438.9 222.0h4m-2-2v4M438.2 254.5h4m-2-2v4M438.8 235.0h4m-2-2v4M438.3 243.2h4m-2-2v4M438.2 239.6h4m-2-2v4M438.1 230.6h4m-2-2v4M438.6 241.1h4m-2-2v4M438.8 227.7h4m-2-2v4M438.2 227.9h4m-2-2v4M438.9 236.0h4m-2-2v4M438.5 243.6h4m-2-2v4M438.1 242.6h4m-2-2v4M438.3 239.3h4m-2-2v4M438.8 260.8h4m-2-2v4M438.5 249.3h4m-2-2v4M439.0 260.1h4m-2-2v4M438.2 240.3h4m-2-2v4M438.2 242.9h4m-2-2v4M439.8 228.5h4m-2-2v4M439.5 225.4h4m-2-2v4M439.5 229.8h4m-2-2v4M439.1 235.4h4m-2-2v4M439.5 229.6h4m-2-2v4M440.0 240.0h4m-2-2v4M439.5 224.4h4m-2-2v4M439.4 247.4h4m-2-2v4M439.6 258.7h4m-2-2v4M439.6 238.6h4m-2-2v4M439.5 241.3h4m-2-2v4M439.6 229.4h4m-2-2v4M439.4 229.0h4m-2-2v4M439.2 240.8h4m-2-2v4M439.2 243.0h4m-2-2v4M439.7 244.0h4m-2-2v4M439.8 237.5h4m-2-2v4M439.5 228.9h4m-2-2v4M439.2 254.9h4m-2-2v4M440.5 264.0h4m-2-2v4M440.6 263.5h4m-2-2v4M441.0 240.4h4m-2-2v4M440.2 223.4h4m-2-2v4M440.6 236.4h4m-2-2v4M440.5 231.0h4m-2-2v4M440.9 258.4h4m-2-2v4M440.1 239.6h4m-2-2v4M440.9 223.4h4m-2-2v4M441.0 229.8h4m-2-2v4M440.5 245.4h4m-2-2v4M440.0 243.4h4m-2-2v4M440.9 227.2h4m-2-2v4M440.2 227.6h4m-2-2v4M441.0 233.1h4m-2-2v4M440.0 240.3h4m-2-2v4M440.1 243.1h4m-2-2v4M440.7 224.3h4m-2-2v4M440.6 260.4h4m-2-2v4M440.9 222.8h4m-2-2v4M440.8 238.3h4m-2-2v4M440.6 233.8h4m-2-2v4M441.0 242.2h4m-2-2v4M441.1 252.0h4m-2-2v4M441.6 244.1h4m-2-2v4M441.8 236.7h4m-2-2v4M441.1 246.7h4m-2-2v4M441.4 259.3h4m-2-2v4M441.2 242.2h4m-2-2v4M441.4 236.6h4m-2-2v4M442.0 237.3h4m-2-2v4M441.5 235.6h4m-2-2v4M441.6 237.6h4m-2-2v4M441.3 239.8h4m-2-2v4M441.2 231.0h4m-2-2v4M441.8 256.6h4m-2-2v4M441.2 221.0h4m-2-2v4M441.0 254.7h4m-2-2v4M441.3 236.9h4m-2-2v4M441.2 233.6h4m-2-2v4M441.7 228.1h4m-2-2v4M441.0 245.4h4m-2-2v4M442.5 247.5h4m-2-2v4M442.5 235.5h4m-2-2v4M442.5 238.2h4m-2-2v4M442.8 245.4h4m-2-2v4M442.7 245.1h4m-2-2v4M442.6 248.5h4m-2-2v4M442.2 247.7h4m-2-2v4M442.9 245.2h4m-2-2v4M442.1 237.7h4m-2-2v4M442.3 224.5h4m-2-2v4M442.7 249.8h4m-2-2v4M442.6 234.2h4m-2-2v4M442.3 233.1h4m-2-2v4M442.6 255.9h4m-2-2v4M442.1 254.4h4m-2-2v4M442.9 236.7h4m-2-2v4M443.0 240.8h4m-2-2v4M442.5 232.1h4m-2-2v4M443.4 232.0h4m-2-2v4M443.7 243.8h4m-2-2v4M443.8 246.1h4m-2-2v4M443.8 221.2h4m-2-2v4M443.6 238.4h4m-2-2v4M443.5 226.5h4m-2-2v4M443.1 231.5h4m-2-2v4M443.6 239.5h4m-2-2v4M443.5 234.5h4m-2-2v4M443.0 256.9h4m-2-2v4M443.7 225.5h4m-2-2v4M443.3 251.1h4m-2-2v4M443.6 246.5h4m-2-2v4M443.8 234.6h4m-2-2v4M443.1 253.9h4m-2-2v4M443.5 240.9h4m-2-2v4M443.1 233.4h4m-2-2v4M443.5 237.0h4m-2-2v4M444.5 214.8h4m-2-2v4M444.1 214.4h4m-2-2v4M444.4 218.4h4m-2-2v4M444.4 261.2h4m-2-2v4M444.3 260.5h4m-2-2v4M444.1 252.0h4m-2-2v4M444.1 256.0h4m-2-2v4M444.4 236.1h4m-2-2v4M444.5 252.8h4m-2-2v4M444.3 220.3h4m-2-2v4M444.6 238.4h4m-2-2v4M444.4 237.9h4m-2-2v4M444.2 244.6h4m-2-2v4M444.2 248.7h4m-2-2v4M444.8 249.9h4m-2-2v4M444.7 240.7h4m-2-2v4M444.8 243.8h4m-2-2v4M444.2 251.0h4m-2-2v4M444.3 227.3h4m-2-2v4M444.1 243.5h4m-2-2v4M444.5 246.8h4m-2-2v4M444.3 225.4h4m-2-2v4M445.1 237.5h4m-2-2v4M445.6 241.9h4m-2-2v4M445.4 235.1h4m-2-2v4M446.0 236.9h4m-2-2v4M445.7 222.1h4m-2-2v4M445.4 234.2h4m-2-2v4M445.5 230.8h4m-2-2v4M445.4 239.0h4m-2-2v4M445.7 224.2h4m-2-2v4M445.1 238.8h4m-2-2v4M445.9 226.6h4m-2-2v4M445.7 247.5h4m-2-2v4M445.4 242.6h4m-2-2v4M445.4 244.5h4m-2-2v4M445.6 223.8h4m-2-2v4M445.9 234.5h4m-2-2v4M446.5 219.4h4m-2-2v4M446.9 253.7h4m-2-2v4M446.0 225.1h4m-2-2v4M446.9 242.2h4m-2-2v4M446.4 235.0h4m-2-2v4M446.1 251.1h4m-2-2v4M446.9 230.9h4m-2-2v4M446.3 241.7h4m-2-2v4M446.3 244.1h4m-2-2v4M446.2 238.7h4m-2-2v4M446.6 241.7h4m-2-2v4M446.1 237.2h4m-2-2v4M446.4 230.2h4m-2-2v4M446.9 228.8h4m-2-2v4M446.9 240.8h4m-2-2v4M446.2 221.7h4m-2-2v4M447.6 226.2h4m-2-2v4M447.4 222.3h4m-2-2v4M447.2 226.8h4m-2-2v4M447.9 241.0h4m-2-2v4M447.1 248.5h4m-2-2v4M447.5 238.9h4m-2-2v4M447.1 238.7h4m-2-2v4M447.5 241.8h4m-2-2v4M447.6 229.7h4m-2-2v4M447.1 242.1h4m-2-2v4M447.6 244.3h4m-2-2v4M447.6 233.1h4m-2-2v4M447.2 243.5h4m-2-2v4M447.1 228.3h4m-2-2v4M447.1 237.3h4m-2-2v4M448.4 234.1h4m-2-2v4M448.2 244.9h4m-2-2v4M448.4 237.4h4m-2-2v4M448.6 240.0h4m-2-2v4M448.7 235.0h4m-2-2v4M448.1 247.1h4m-2-2v4M448.2 237.1h4m-2-2v4M448.5 243.4h4m-2-2v4M448.5 248.8h4m-2-2v4M448.8 240.3h4m-2-2v4M448.2 243.0h4m-2-2v4M448.1 229.9h4m-2-2v4M449.8 251.9h4m-2-2v4M449.1 255.4h4m-2-2v4M449.7 253.5h4m-2-2v4M449.6 243.8h4m-2-2v4M449.2 245.3h4m-2-2v4M449.4 227.2h4m-2-2v4M449.2 247.7h4m-2-2v4M449.5 232.7h4m-2-2v4M449.8 236.2h4m-2-2v4M449.5 243.9h4m-2-2v4M449.6 248.8h4m-2-2v4M449.8 234.8h4m-2-2v4M449.2 231.8h4m-2-2v4M449.2 233.2h4m-2-2v4M449.1 241.8h4m-2-2v4M450.7 223.5h4m-2-2v4M450.2 223.0h4m-2-2v4M450.3 250.8h4m-2-2v4M450.1 233.3h4m-2-2v4M450.4 241.1h4m-2-2v4M450.9 248.1h4m-2-2v4M451.0 245.0h4m-2-2v4M450.1 224.9h4m-2-2v4M450.5 238.2h4m-2-2v4M451.0 227.8h4m-2-2v4M450.7 237.8h4m-2-2v4M450.7 223.9h4m-2-2v4M450.3 243.2h4m-2-2v4M450.7 245.4h4m-2-2v4M451.0 235.9h4m-2-2v4M451.9 217.3h4m-2-2v4M451.9 220.3h4m-2-2v4M451.1 218.2h4m-2-2v4M451.8 243.3h4m-2-2v4M452.0 246.0h4m-2-2v4M451.7 234.5h4m-2-2v4M451.2 228.4h4m-2-2v4M451.8 239.4h4m-2-2v4M451.5 236.3h4m-2-2v4M451.0 233.0h4m-2-2v4M451.2 235.4h4m-2-2v4M451.0 242.0h4m-2-2v4M451.9 228.3h4m-2-2v4M451.4 233.2h4m-2-2v4M451.5 225.2h4m-2-2v4M452.2 219.4h4m-2-2v4M452.7 215.7h4m-2-2v4M452.3 217.2h4m-2-2v4M452.8 240.3h4m-2-2v4M452.7 233.9h4m-2-2v4M452.6 226.7h4m-2-2v4M452.0 233.3h4m-2-2v4M452.7 239.8h4m-2-2v4M452.6 230.3h4m-2-2v4M452.3 229.8h4m-2-2v4M452.7 242.7h4m-2-2v4M452.2 245.3h4m-2-2v4M452.5 237.9h4m-2-2v4M452.8 230.0h4m-2-2v4M452.6 234.7h4m-2-2v4M453.8 244.8h4m-2-2v4M453.9 244.7h4m-2-2v4M453.4 242.0h4m-2-2v4M454.0 223.7h4m-2-2v4M453.5 234.0h4m-2-2v4M453.2 222.5h4m-2-2v4M453.1 239.5h4m-2-2v4M453.0 239.6h4m-2-2v4M453.7 227.2h4m-2-2v4M453.1 221.0h4m-2-2v4M453.2 242.3h4m-2-2v4M453.0 222.2h4m-2-2v4M453.1 236.2h4m-2-2v4M454.6 218.3h4m-2-2v4M454.7 216.1h4m-2-2v4M454.9 237.9h4m-2-2v4M454.6 230.9h4m-2-2v4M454.5 225.8h4m-2-2v4M454.2 219.2h4m-2-2v4M454.9 232.2h4m-2-2v4M454.6 230.2h4m-2-2v4M454.7 240.3h4m-2-2v4M454.8 226.0h4m-2-2v4M454.4 240.0h4m-2-2v4M454.4 236.0h4m-2-2v4M454.2 234.3h4m-2-2v4M455.8 213.9h4m-2-2v4M455.4 216.5h4m-2-2v4M455.4 217.5h4m-2-2v4M455.9 240.0h4m-2-2v4M455.2 224.7h4m-2-2v4M455.2 230.9h4m-2-2v4M455.2 228.5h4m-2-2v4M455.8 229.7h4m-2-2v4M455.1 241.2h4m-2-2v4M455.5 234.9h4m-2-2v4M455.1 238.7h4m-2-2v4M455.8 221.6h4m-2-2v4M455.6 231.3h4m-2-2v4M456.8 241.8h4m-2-2v4M456.1 241.7h4m-2-2v4M456.8 243.1h4m-2-2v4M456.8 227.1h4m-2-2v4M456.5 223.2h4m-2-2v4M456.9 226.4h4m-2-2v4M456.5 223.5h4m-2-2v4M456.7 225.4h4m-2-2v4M456.7 217.7h4m-2-2v4M456.9 225.9h4m-2-2v4M456.7 239.1h4m-2-2v4M456.5 224.2h4m-2-2v4M456.4 223.7h4m-2-2v4M457.8 219.5h4m-2-2v4M457.7 229.6h4m-2-2v4M457.6 224.5h4m-2-2v4M457.4 237.1h4m-2-2v4M457.8 229.8h4m-2-2v4M457.1 239.6h4m-2-2v4M457.6 233.1h4m-2-2v4M457.7 232.9h4m-2-2v4M457.9 218.7h4m-2-2v4M457.0 231.0h4m-2-2v4M458.6 205.5h4m-2-2v4M458.8 207.1h4m-2-2v4M458.5 205.4h4m-2-2v4M458.2 228.6h4m-2-2v4M458.2 220.7h4m-2-2v4M458.8 224.7h4m-2-2v4M458.2 237.8h4m-2-2v4M458.3 216.8h4m-2-2v4M458.2 228.1h4m-2-2v4M458.8 232.2h4m-2-2v4M458.1 226.5h4m-2-2v4M458.0 230.3h4m-2-2v4M458.3 224.1h4m-2-2v4M458.6 223.4h4m-2-2v4M458.1 232.9h4m-2-2v4M459.7 210.9h4m-2-2v4M459.2 210.8h4m-2-2v4M459.9 245.2h4m-2-2v4M459.1 242.7h4m-2-2v4M460.0 240.4h4m-2-2v4M459.1 229.5h4m-2-2v4M459.0 216.7h4m-2-2v4M459.3 217.2h4m-2-2v4M459.5 223.7h4m-2-2v4M459.3 227.6h4m-2-2v4M459.9 239.9h4m-2-2v4M459.6 218.1h4m-2-2v4M459.8 226.7h4m-2-2v4M459.7 236.3h4m-2-2v4M459.9 227.8h4m-2-2v4M459.9 223.2h4m-2-2v4M459.3 232.3h4m-2-2v4M460.8 223.7h4m-2-2v4M460.8 222.9h4m-2-2v4M460.4 225.1h4m-2-2v4M460.7 214.8h4m-2-2v4M460.9 235.6h4m-2-2v4M460.4 225.5h4m-2-2v4M460.3 238.2h4m-2-2v4M460.8 215.3h4m-2-2v4M460.3 223.2h4m-2-2v4M460.9 221.0h4m-2-2v4M460.4 244.3h4m-2-2v4M460.4 239.1h4m-2-2v4M460.1 233.0h4m-2-2v4M460.7 229.3h4m-2-2v4M460.6 232.3h4m-2-2v4M461.9 252.8h4m-2-2v4M461.0 251.8h4m-2-2v4M461.3 242.4h4m-2-2v4M462.0 225.6h4m-2-2v4M461.1 221.3h4m-2-2v4M461.6 231.2h4m-2-2v4M461.8 230.3h4m-2-2v4M462.0 227.9h4m-2-2v4M461.6 232.1h4m-2-2v4M461.5 224.1h4m-2-2v4M461.9 229.2h4m-2-2v4M461.4 244.7h4m-2-2v4M462.0 234.5h4m-2-2v4M462.0 231.9h4m-2-2v4M461.1 248.0h4m-2-2v4M461.7 249.0h4m-2-2v4M461.7 227.9h4m-2-2v4M461.5 216.7h4m-2-2v4M461.3 222.1h4m-2-2v4M461.6 241.1h4m-2-2v4M462.4 245.7h4m-2-2v4M462.3 227.9h4m-2-2v4M462.8 227.2h4m-2-2v4M462.7 226.9h4m-2-2v4M462.8 219.4h4m-2-2v4M462.4 235.4h4m-2-2v4M462.3 216.1h4m-2-2v4M462.7 231.6h4m-2-2v4M462.1 214.4h4m-2-2v4M462.5 223.0h4m-2-2v4M462.0 215.1h4m-2-2v4M462.9 216.5h4m-2-2v4M462.5 235.8h4m-2-2v4M462.6 252.3h4m-2-2v4M462.9 218.4h4m-2-2v4M462.3 251.5h4m-2-2v4M463.0 240.5h4m-2-2v4M462.1 235.8h4m-2-2v4M462.7 227.7h4m-2-2v4M463.5 262.5h4m-2-2v4M463.8 260.2h4m-2-2v4M463.3 260.9h4m-2-2v4M463.4 247.4h4m-2-2v4M463.7 236.1h4m-2-2v4M463.1 257.7h4m-2-2v4M463.5 236.7h4m-2-2v4M463.2 242.5h4m-2-2v4M463.5 247.8h4m-2-2v4M463.1 252.0h4m-2-2v4M463.4 229.6h4m-2-2v4M463.8 234.2h4m-2-2v4M463.2 245.3h4m-2-2v4M463.1 227.1h4m-2-2v4M463.3 228.1h4m-2-2v4M463.4 256.3h4m-2-2v4M463.1 231.2h4m-2-2v4M463.7 218.5h4m-2-2v4M463.3 239.0h4m-2-2v4M464.0 232.2h4m-2-2v4M463.6 253.6h4m-2-2v4M463.1 222.6h4m-2-2v4M463.7 229.3h4m-2-2v4M464.0 250.3h4m-2-2v4M464.6 257.4h4m-2-2v4M464.4 227.3h4m-2-2v4M464.4 255.8h4m-2-2v4M464.5 244.9h4m-2-2v4M465.0 251.3h4m-2-2v4M464.8 258.7h4m-2-2v4M464.5 237.2h4m-2-2v4M464.0 238.7h4m-2-2v4M464.4 252.6h4m-2-2v4M464.7 253.2h4m-2-2v4M464.5 242.6h4m-2-2v4M464.5 250.5h4m-2-2v4M464.3 241.0h4m-2-2v4M464.9 259.7h4m-2-2v4M464.4 231.7h4m-2-2v4M464.5 250.3h4m-2-2v4M465.0 249.9h4m-2-2v4M464.8 256.3h4m-2-2v4M464.7 237.1h4m-2-2v4M465.6 263.6h4m-2-2v4M465.2 245.1h4m-2-2v4M465.7 232.1h4m-2-2v4M465.4 256.3h4m-2-2v4M465.3 218.2h4m-2-2v4M465.5 248.2h4m-2-2v4M465.9 236.1h4m-2-2v4M465.4 252.0h4m-2-2v4M465.4 235.6h4m-2-2v4M465.8 220.8h4m-2-2v4M465.8 244.2h4m-2-2v4M465.3 253.7h4m-2-2v4M465.4 243.8h4m-2-2v4M465.6 238.9h4m-2-2v4M465.2 235.8h4m-2-2v4M465.5 243.7h4m-2-2v4M465.7 238.4h4m-2-2v4M465.6 245.1h4m-2-2v4M465.5 255.0h4m-2-2v4M465.4 260.4h4m-2-2v4M465.6 218.5h4m-2-2v4M466.1 225.7h4m-2-2v4M466.1 231.7h4m-2-2v4M466.9 243.2h4m-2-2v4M466.4 233.8h4m-2-2v4M466.7 236.5h4m-2-2v4M466.9 230.0h4m-2-2v4M466.1 235.7h4m-2-2v4M466.9 255.2h4m-2-2v4M466.6 243.4h4m-2-2v4M466.5 238.0h4m-2-2v4M466.3 238.4h4m-2-2v4M467.0 233.5h4m-2-2v4M466.4 237.1h4m-2-2v4M466.6 235.0h4m-2-2v4M466.6 231.6h4m-2-2v4M466.3 261.9h4m-2-2v4M466.8 234.7h4m-2-2v4M467.0 243.9h4m-2-2v4M466.3 247.9h4m-2-2v4M466.8 253.6h4m-2-2v4M466.3 230.8h4m-2-2v4M467.1 221.9h4m-2-2v4M467.6 221.7h4m-2-2v4M468.0 222.1h4m-2-2v4M467.5 242.4h4m-2-2v4M467.9 230.1h4m-2-2v4M467.9 230.7h4m-2-2v4M467.4 228.8h4m-2-2v4M467.9 244.1h4m-2-2v4M467.1 244.6h4m-2-2v4M467.6 229.7h4m-2-2v4M467.7 241.4h4m-2-2v4M467.1 259.5h4m-2-2v4M467.3 239.8h4m-2-2v4M467.9 242.6h4m-2-2v4M467.8 263.2h4m-2-2v4M467.8 231.2h4m-2-2v4M468.0 250.6h4m-2-2v4M468.0 232.1h4m-2-2v4M467.7 263.5h4m-2-2v4M467.6 249.4h4m-2-2v4M468.1 227.0h4m-2-2v4M468.3 227.3h4m-2-2v4M468.2 235.8h4m-2-2v4M468.2 230.8h4m-2-2v4M468.7 238.8h4m-2-2v4M468.1 264.3h4m-2-2v4M468.6 243.8h4m-2-2v4M468.1 242.0h4m-2-2v4M468.1 248.7h4m-2-2v4M468.6 262.5h4m-2-2v4M468.4 234.5h4m-2-2v4M468.4 239.7h4m-2-2v4M468.3 260.1h4m-2-2v4M468.0 264.0h4m-2-2v4M468.6 241.3h4m-2-2v4M468.0 241.2h4m-2-2v4M468.9 233.6h4m-2-2v4M468.3 248.6h4m-2-2v4M468.8 240.0h4m-2-2v4M468.1 263.4h4m-2-2v4M469.1 261.4h4m-2-2v4M469.5 243.7h4m-2-2v4M469.9 240.1h4m-2-2v4M470.0 253.8h4m-2-2v4M469.1 262.7h4m-2-2v4M469.9 251.7h4m-2-2v4M469.7 253.4h4m-2-2v4M469.1 234.0h4m-2-2v4M469.7 258.1h4m-2-2v4M469.3 256.6h4m-2-2v4M469.4 255.3h4m-2-2v4M469.4 261.7h4m-2-2v4M469.5 238.0h4m-2-2v4M469.7 234.3h4m-2-2v4M469.2 259.9h4m-2-2v4M469.4 259.8h4m-2-2v4M469.4 264.3h4m-2-2v4M469.8 244.4h4m-2-2v4M469.6 250.0h4m-2-2v4M470.5 248.3h4m-2-2v4M470.4 243.5h4m-2-2v4M470.1 264.1h4m-2-2v4M470.2 243.5h4m-2-2v4M470.8 256.1h4m-2-2v4M470.5 246.8h4m-2-2v4M470.6 244.7h4m-2-2v4M470.3 246.2h4m-2-2v4M470.3 232.8h4m-2-2v4M470.8 272.7h4m-2-2v4M470.7 245.7h4m-2-2v4M470.1 271.6h4m-2-2v4M470.9 252.9h4m-2-2v4M470.9 264.2h4m-2-2v4M470.7 235.9h4m-2-2v4M470.1 266.3h4m-2-2v4M470.8 260.0h4m-2-2v4M470.1 262.9h4m-2-2v4M470.7 255.9h4m-2-2v4M470.1 271.9h4m-2-2v4M470.2 229.1h4m-2-2v4M471.7 257.9h4m-2-2v4M471.5 268.9h4m-2-2v4M471.6 239.1h4m-2-2v4M471.5 245.0h4m-2-2v4M471.4 265.8h4m-2-2v4M471.5 243.7h4m-2-2v4M471.0 257.4h4m-2-2v4M472.0 258.6h4m-2-2v4M472.0 233.0h4m-2-2v4M471.1 254.3h4m-2-2v4M471.2 264.4h4m-2-2v4M471.5 236.0h4m-2-2v4M471.2 260.1h4m-2-2v4M471.3 252.0h4m-2-2v4M471.0 231.9h4m-2-2v4M471.7 250.9h4m-2-2v4M472.0 236.9h4m-2-2v4M471.2 260.5h4m-2-2v4M471.3 231.7h4m-2-2v4M472.2 269.4h4m-2-2v4M472.3 269.9h4m-2-2v4M472.7 256.9h4m-2-2v4M472.5 246.3h4m-2-2v4M472.7 246.4h4m-2-2v4M472.5 250.2h4m-2-2v4M472.3 235.5h4m-2-2v4M472.4 245.9h4m-2-2v4M472.9 254.1h4m-2-2v4M472.9 248.3h4m-2-2v4M472.3 232.5h4m-2-2v4M472.1 263.2h4m-2-2v4M472.7 253.4h4m-2-2v4M472.8 247.1h4m-2-2v4M472.0 257.5h4m-2-2v4M472.3 255.1h4m-2-2v4M472.1 243.3h4m-2-2v4M472.1 238.4h4m-2-2v4M472.8 247.2h4m-2-2v4M472.7 236.9h4m-2-2v4M473.9 221.0h4m-2-2v4M473.7 221.2h4m-2-2v4M473.5 237.8h4m-2-2v4M473.4 239.5h4m-2-2v4M473.9 237.9h4m-2-2v4M473.6 236.8h4m-2-2v4M473.9 251.6h4m-2-2v4M473.6 253.4h4m-2-2v4M473.6 235.2h4m-2-2v4M473.5 235.9h4m-2-2v4M473.8 251.0h4m-2-2v4M473.7 238.6h4m-2-2v4M473.9 234.0h4m-2-2v4M473.9 257.4h4m-2-2v4M473.5 236.2h4m-2-2v4M473.6 237.4h4m-2-2v4M473.9 240.3h4m-2-2v4M473.5 224.7h4m-2-2v4M473.9 244.5h4m-2-2v4M473.2 249.6h4m-2-2v4M474.0 230.7h4m-2-2v4M474.3 221.4h4m-2-2v4M474.8 223.4h4m-2-2v4M474.9 247.7h4m-2-2v4M474.4 255.3h4m-2-2v4M474.4 239.6h4m-2-2v4M474.8 245.8h4m-2-2v4M474.1 242.6h4m-2-2v4M474.5 239.8h4m-2-2v4M474.6 243.3h4m-2-2v4M474.1 261.3h4m-2-2v4M474.9 229.7h4m-2-2v4M474.4 250.4h4m-2-2v4M474.4 246.0h4m-2-2v4M474.2 243.0h4m-2-2v4M474.1 235.2h4m-2-2v4M474.7 251.9h4m-2-2v4M474.1 224.3h4m-2-2v4M474.1 251.0h4m-2-2v4M474.9 255.1h4m-2-2v4M475.1 249.0h4m-2-2v4M475.6 246.9h4m-2-2v4M475.1 258.4h4m-2-2v4M475.9 234.6h4m-2-2v4M475.5 237.0h4m-2-2v4M475.3 243.4h4m-2-2v4M475.2 239.0h4m-2-2v4M475.2 253.6h4m-2-2v4M475.9 244.7h4m-2-2v4M475.5 258.8h4m-2-2v4M475.7 231.0h4m-2-2v4M475.8 249.5h4m-2-2v4M475.6 242.0h4m-2-2v4M475.4 239.1h4m-2-2v4M475.3 239.3h4m-2-2v4M475.3 242.8h4m-2-2v4M475.3 248.6h4m-2-2v4M476.4 228.2h4m-2-2v4M476.8 236.0h4m-2-2v4M476.1 246.9h4m-2-2v4M477.0 236.1h4m-2-2v4M476.8 238.8h4m-2-2v4M477.0 249.1h4m-2-2v4M476.7 239.9h4m-2-2v4M476.4 255.9h4m-2-2v4M476.6 249.1h4m-2-2v4M476.2 240.1h4m-2-2v4M476.6 246.7h4m-2-2v4M476.2 233.2h4m-2-2v4M476.7 237.7h4m-2-2v4M476.4 249.6h4m-2-2v4M476.4 244.8h4m-2-2v4M476.2 249.5h4m-2-2v4M477.7 247.1h4m-2-2v4M477.7 228.6h4m-2-2v4M477.9 236.5h4m-2-2v4M478.0 234.0h4m-2-2v4M477.1 229.3h4m-2-2v4M477.0 238.3h4m-2-2v4M477.5 243.1h4m-2-2v4M477.3 233.1h4m-2-2v4M477.4 252.5h4m-2-2v4M477.8 224.0h4m-2-2v4M477.7 237.7h4m-2-2v4M477.6 238.2h4m-2-2v4M477.8 232.7h4m-2-2v4M477.1 237.6h4m-2-2v4M477.3 226.6h4m-2-2v4M477.4 226.3h4m-2-2v4M477.2 245.0h4m-2-2v4M478.3 224.4h4m-2-2v4M478.2 242.0h4m-2-2v4M478.9 224.7h4m-2-2v4M478.3 236.3h4m-2-2v4M478.7 237.3h4m-2-2v4M478.1 241.3h4m-2-2v4M478.7 237.5h4m-2-2v4M478.5 230.7h4m-2-2v4M478.7 252.9h4m-2-2v4M478.0 249.1h4m-2-2v4M478.4 249.0h4m-2-2v4M478.5 238.5h4m-2-2v4M478.4 222.5h4m-2-2v4M478.6 237.9h4m-2-2v4M478.6 222.2h4m-2-2v4M478.4 239.4h4m-2-2v4M479.8 214.0h4m-2-2v4M479.5 213.8h4m-2-2v4M479.4 214.7h4m-2-2v4M479.2 245.0h4m-2-2v4M479.9 235.0h4m-2-2v4M479.4 223.2h4m-2-2v4M479.7 229.3h4m-2-2v4M479.6 238.4h4m-2-2v4M479.4 238.0h4m-2-2v4M479.4 225.8h4m-2-2v4M479.4 230.0h4m-2-2v4M479.5 232.3h4m-2-2v4M479.3 226.8h4m-2-2v4M479.7 233.6h4m-2-2v4M479.5 245.9h4m-2-2v4M479.4 232.1h4m-2-2v4M479.1 221.4h4m-2-2v4M480.0 237.5h4m-2-2v4M480.0 234.4h4m-2-2v4M480.1 213.2h4m-2-2v4M480.5 220.6h4m-2-2v4M480.6 248.1h4m-2-2v4M480.7 225.8h4m-2-2v4M480.3 230.1h4m-2-2v4M481.0 230.0h4m-2-2v4M480.9 247.2h4m-2-2v4M480.8 238.0h4m-2-2v4M480.2 221.2h4m-2-2v4M480.5 218.7h4m-2-2v4M481.0 233.3h4m-2-2v4M480.1 235.9h4m-2-2v4M480.9 227.4h4m-2-2v4M480.8 241.3h4m-2-2v4M480.2 232.0h4m-2-2v4M480.1 236.0h4m-2-2v4M480.4 224.1h4m-2-2v4M480.4 221.8h4m-2-2v4M481.5 231.0h4m-2-2v4M481.8 236.1h4m-2-2v4M481.4 222.2h4m-2-2v4M481.0 231.6h4m-2-2v4M481.1 236.2h4m-2-2v4M481.8 231.3h4m-2-2v4M481.7 235.5h4m-2-2v4M481.1 224.9h4m-2-2v4M481.1 244.7h4m-2-2v4M482.0 219.0h4m-2-2v4M481.3 240.1h4m-2-2v4M481.1 225.5h4m-2-2v4M481.6 220.1h4m-2-2v4M481.6 216.9h4m-2-2v4M481.8 235.6h4m-2-2v4M481.7 234.4h4m-2-2v4M481.5 252.8h4m-2-2v4M481.6 238.3h4m-2-2v4M481.6 244.8h4m-2-2v4M482.2 227.7h4m-2-2v4M482.5 242.2h4m-2-2v4M482.2 237.4h4m-2-2v4M482.4 238.1h4m-2-2v4M482.0 215.4h4m-2-2v4M482.9 221.4h4m-2-2v4M482.6 220.8h4m-2-2v4M482.7 240.2h4m-2-2v4M482.0 221.8h4m-2-2v4M482.7 231.7h4m-2-2v4M482.0 252.2h4m-2-2v4M482.3 214.5h4m-2-2v4M482.9 243.6h4m-2-2v4M482.9 232.1h4m-2-2v4M482.4 245.6h4m-2-2v4M482.3 233.1h4m-2-2v4M482.1 249.3h4m-2-2v4M482.9 229.4h4m-2-2v4M482.3 228.0h4m-2-2v4M483.5 240.6h4m-2-2v4M483.4 251.8h4m-2-2v4M483.3 227.4h4m-2-2v4M483.2 233.9h4m-2-2v4M484.0 247.5h4m-2-2v4M483.7 225.9h4m-2-2v4M483.2 231.4h4m-2-2v4M483.2 249.9h4m-2-2v4M483.9 240.6h4m-2-2v4M483.8 224.8h4m-2-2v4M483.2 244.1h4m-2-2v4M483.4 236.7h4m-2-2v4M483.3 215.5h4m-2-2v4M483.8 230.7h4m-2-2v4M483.8 241.9h4m-2-2v4M484.0 213.5h4m-2-2v4M483.5 245.7h4m-2-2v4M483.1 235.1h4m-2-2v4M483.4 223.7h4m-2-2v4M484.8 257.8h4m-2-2v4M484.6 260.7h4m-2-2v4M485.0 259.8h4m-2-2v4M484.5 238.9h4m-2-2v4M484.3 226.3h4m-2-2v4M484.8 255.4h4m-2-2v4M484.5 230.2h4m-2-2v4M484.6 254.4h4m-2-2v4M484.4 239.5h4m-2-2v4M484.4 238.7h4m-2-2v4M484.7 246.3h4m-2-2v4M484.6 223.8h4m-2-2v4M484.6 255.5h4m-2-2v4M484.4 252.8h4m-2-2v4M484.3 236.5h4m-2-2v4M484.5 228.4h4m-2-2v4M484.8 225.9h4m-2-2v4M484.2 223.6h4m-2-2v4M484.5 243.1h4m-2-2v4M484.7 221.1h4m-2-2v4M484.5 227.1h4m-2-2v4M484.6 228.0h4m-2-2v4M484.8 219.2h4m-2-2v4M486.0 242.2h4m-2-2v4M485.3 231.6h4m-2-2v4M485.5 234.7h4m-2-2v4M485.1 230.7h4m-2-2v4M485.7 239.6h4m-2-2v4M486.0 243.4h4m-2-2v4M485.4 238.3h4m-2-2v4M485.9 227.7h4m-2-2v4M485.5 221.2h4m-2-2v4M485.5 259.3h4m-2-2v4M485.9 235.7h4m-2-2v4M485.7 223.2h4m-2-2v4M485.1 219.3h4m-2-2v4M485.5 235.3h4m-2-2v4M485.8 225.4h4m-2-2v4M485.4 227.1h4m-2-2v4M485.3 223.7h4m-2-2v4M485.4 240.2h4m-2-2v4M485.7 222.3h4m-2-2v4M485.9 248.0h4m-2-2v4M486.4 211.6h4m-2-2v4M486.3 214.9h4m-2-2v4M486.6 214.9h4m-2-2v4M486.1 259.5h4m-2-2v4M487.0 229.2h4m-2-2v4M487.0 233.4h4m-2-2v4M486.2 235.3h4m-2-2v4M486.7 242.0h4m-2-2v4M486.9 248.4h4m-2-2v4M486.7 240.0h4m-2-2v4M486.6 240.7h4m-2-2v4M486.2 234.2h4m-2-2v4M486.9 251.1h4m-2-2v4M486.4 226.9h4m-2-2v4M486.0 230.7h4m-2-2v4M486.1 246.5h4m-2-2v4M486.4 257.3h4m-2-2v4M486.4 232.9h4m-2-2v4M487.0 226.0h4m-2-2v4M486.9 255.7h4m-2-2v4M486.1 241.9h4m-2-2v4M486.3 251.4h4m-2-2v4M486.4 222.9h4m-2-2v4M487.0 229.4h4m-2-2v4M487.2 240.2h4m-2-2v4M487.1 233.5h4m-2-2v4M487.1 258.1h4m-2-2v4M487.7 241.4h4m-2-2v4M487.4 242.8h4m-2-2v4M487.6 248.5h4m-2-2v4M487.8 220.1h4m-2-2v4M487.5 227.5h4m-2-2v4M487.1 240.2h4m-2-2v4M487.3 228.5h4m-2-2v4M487.9 245.7h4m-2-2v4M487.2 234.5h4m-2-2v4M487.7 228.3h4m-2-2v4M487.3 226.1h4m-2-2v4M487.8 250.4h4m-2-2v4M487.6 226.4h4m-2-2v4M487.9 246.7h4m-2-2v4M487.1 253.2h4m-2-2v4M488.0 258.5h4m-2-2v4M488.0 230.9h4m-2-2v4M488.0 235.3h4m-2-2v4M488.7 217.6h4m-2-2v4M488.5 220.0h4m-2-2v4M488.5 236.3h4m-2-2v4M488.8 225.7h4m-2-2v4M488.2 240.0h4m-2-2v4M488.9 260.0h4m-2-2v4M488.6 246.9h4m-2-2v4M488.3 246.1h4m-2-2v4M488.2 241.0h4m-2-2v4M488.2 244.5h4m-2-2v4M488.6 248.1h4m-2-2v4M488.4 236.4h4m-2-2v4M488.9 244.7h4m-2-2v4M488.2 245.1h4m-2-2v4M488.1 250.3h4m-2-2v4M488.3 254.2h4m-2-2v4M488.6 243.1h4m-2-2v4M488.3 242.5h4m-2-2v4M488.2 241.4h4m-2-2v4M488.7 263.6h4m-2-2v4M489.0 252.2h4m-2-2v4M488.0 244.3h4m-2-2v4M489.1 264.0h4m-2-2v4M489.9 251.4h4m-2-2v4M489.9 257.4h4m-2-2v4M489.0 225.0h4m-2-2v4M489.8 252.7h4m-2-2v4M489.8 245.3h4m-2-2v4M489.3 237.5h4m-2-2v4M489.1 241.7h4m-2-2v4M489.0 233.8h4m-2-2v4M489.9 242.8h4m-2-2v4M489.9 262.4h4m-2-2v4M489.6 246.8h4m-2-2v4M489.6 261.0h4m-2-2v4M489.4 245.6h4m-2-2v4M490.0 234.8h4m-2-2v4M489.7 258.7h4m-2-2v4M489.9 255.2h4m-2-2v4M489.6 257.4h4m-2-2v4M489.9 248.2h4m-2-2v4M489.2 253.3h4m-2-2v4M490.1 222.2h4m-2-2v4M490.7 220.3h4m-2-2v4M490.9 269.8h4m-2-2v4M490.6 271.7h4m-2-2v4M490.9 268.0h4m-2-2v4M490.1 247.6h4m-2-2v4M490.7 239.1h4m-2-2v4M490.2 245.9h4m-2-2v4M491.0 235.7h4m-2-2v4M490.7 252.0h4m-2-2v4M490.1 260.2h4m-2-2v4M490.5 250.6h4m-2-2v4M490.3 235.8h4m-2-2v4M490.0 258.5h4m-2-2v4M490.3 224.6h4m-2-2v4M490.8 258.8h4m-2-2v4M490.0 267.0h4m-2-2v4M490.2 263.0h4m-2-2v4M490.6 241.2h4m-2-2v4M490.2 226.4h4m-2-2v4M490.1 261.1h4m-2-2v4M491.0 248.4h4m-2-2v4M490.9 238.2h4m-2-2v4M490.3 248.8h4m-2-2v4M490.8 245.1h4m-2-2v4M491.2 243.8h4m-2-2v4M491.3 247.6h4m-2-2v4M491.2 226.0h4m-2-2v4M491.7 259.1h4m-2-2v4M491.9 252.2h4m-2-2v4M491.8 249.0h4m-2-2v4M491.2 233.8h4m-2-2v4M491.3 247.6h4m-2-2v4M491.3 262.3h4m-2-2v4M491.2 228.9h4m-2-2v4M491.2 259.7h4m-2-2v4M491.9 250.0h4m-2-2v4M491.3 253.7h4m-2-2v4M491.3 258.5h4m-2-2v4M491.0 232.5h4m-2-2v4M491.3 244.3h4m-2-2v4M491.3 243.7h4m-2-2v4M491.5 258.6h4m-2-2v4M491.3 263.8h4m-2-2v4M492.0 251.3h4m-2-2v4M492.9 231.2h4m-2-2v4M492.1 265.1h4m-2-2v4M492.8 242.0h4m-2-2v4M492.2 247.3h4m-2-2v4M492.9 249.6h4m-2-2v4M492.4 234.4h4m-2-2v4M492.8 237.4h4m-2-2v4M492.3 227.0h4m-2-2v4M492.8 253.1h4m-2-2v4M492.2 244.1h4m-2-2v4M492.8 248.1h4m-2-2v4M492.2 224.4h4m-2-2v4M492.0 252.8h4m-2-2v4M492.9 230.1h4m-2-2v4M492.3 226.5h4m-2-2v4M492.6 247.5h4m-2-2v4M492.8 236.8h4m-2-2v4M492.3 247.2h4m-2-2v4M492.2 227.8h4m-2-2v4M492.4 228.3h4m-2-2v4M493.6 253.5h4m-2-2v4M493.5 252.2h4m-2-2v4M493.8 226.9h4m-2-2v4M493.3 244.5h4m-2-2v4M493.4 250.1h4m-2-2v4M493.8 255.4h4m-2-2v4M493.7 244.6h4m-2-2v4M494.0 254.3h4m-2-2v4M493.3 234.6h4m-2-2v4M493.8 251.6h4m-2-2v4M493.2 237.4h4m-2-2v4M493.4 240.3h4m-2-2v4M493.1 242.8h4m-2-2v4M493.7 263.5h4m-2-2v4M493.5 252.9h4m-2-2v4M493.3 227.2h4m-2-2v4M493.5 246.4h4m-2-2v4M493.7 247.0h4m-2-2v4M493.4 236.6h4m-2-2v4M493.4 225.0h4m-2-2v4M494.1 219.4h4m-2-2v4M494.9 220.7h4m-2-2v4M494.5 264.2h4m-2-2v4M494.4 253.8h4m-2-2v4M494.3 228.1h4m-2-2v4M494.9 232.0h4m-2-2v4M494.5 258.0h4m-2-2v4M494.2 230.6h4m-2-2v4M494.4 231.5h4m-2-2v4M494.2 225.7h4m-2-2v4M494.1 220.9h4m-2-2v4M494.0 242.5h4m-2-2v4M494.6 237.7h4m-2-2v4M494.1 233.0h4m-2-2v4M494.1 248.1h4m-2-2v4M494.5 254.4h4m-2-2v4M494.4 244.8h4m-2-2v4M494.3 251.8h4m-2-2v4M494.8 246.0h4m-2-2v4M494.2 248.0h4m-2-2v4M494.5 240.0h4m-2-2v4M494.9 262.9h4m-2-2v4M495.9 220.1h4m-2-2v4M496.0 231.1h4m-2-2v4M495.3 265.1h4m-2-2v4M495.4 242.5h4m-2-2v4M495.8 237.4h4m-2-2v4M495.9 248.6h4m-2-2v4M495.2 243.7h4m-2-2v4M495.6 257.0h4m-2-2v4M495.4 252.2h4m-2-2v4M495.4 244.3h4m-2-2v4M495.9 248.6h4m-2-2v4M495.9 244.7h4m-2-2v4M495.7 237.1h4m-2-2v4M495.8 248.0h4m-2-2v4M495.4 244.4h4m-2-2v4M495.4 253.3h4m-2-2v4M495.2 233.1h4m-2-2v4M495.9 228.4h4m-2-2v4M495.2 238.1h4m-2-2v4M495.9 232.2h4m-2-2v4M495.3 246.8h4m-2-2v4M495.2 232.9h4m-2-2v4M496.9 219.8h4m-2-2v4M496.2 219.7h4m-2-2v4M496.0 259.1h4m-2-2v4M496.8 232.0h4m-2-2v4M496.4 248.1h4m-2-2v4M496.6 242.8h4m-2-2v4M496.8 227.7h4m-2-2v4M496.8 251.5h4m-2-2v4M496.2 239.5h4m-2-2v4M496.1 250.3h4m-2-2v4M496.3 258.9h4m-2-2v4M496.9 244.6h4m-2-2v4M496.2 239.1h4m-2-2v4M496.6 243.5h4m-2-2v4M496.2 256.7h4m-2-2v4M496.6 230.7h4m-2-2v4M496.8 232.9h4m-2-2v4M496.2 228.6h4m-2-2v4M496.1 240.2h4m-2-2v4M496.6 240.2h4m-2-2v4M497.3 262.9h4m-2-2v4M497.3 237.5h4m-2-2v4M497.4 259.4h4m-2-2v4M497.8 243.6h4m-2-2v4M497.3 261.8h4m-2-2v4M497.1 240.2h4m-2-2v4M497.5 225.0h4m-2-2v4M497.3 221.1h4m-2-2v4M497.6 239.6h4m-2-2v4M497.9 259.2h4m-2-2v4M497.9 228.5h4m-2-2v4M497.9 250.9h4m-2-2v4M497.5 224.7h4m-2-2v4M497.1 234.5h4m-2-2v4M497.8 255.3h4m-2-2v4M497.2 236.6h4m-2-2v4M497.3 236.0h4m-2-2v4M497.7 243.6h4m-2-2v4M497.7 248.0h4m-2-2v4M497.0 244.6h4m-2-2v4M498.6 244.1h4m-2-2v4M498.6 240.3h4m-2-2v4M498.7 223.2h4m-2-2v4M498.1 228.1h4m-2-2v4M498.3 224.8h4m-2-2v4M498.4 243.2h4m-2-2v4M499.0 243.4h4m-2-2v4M498.8 253.2h4m-2-2v4M498.6 236.4h4m-2-2v4M498.6 240.0h4m-2-2v4M498.9 257.9h4m-2-2v4M498.3 253.3h4m-2-2v4M498.4 256.3h4m-2-2v4M498.5 252.2h4m-2-2v4M498.2 248.4h4m-2-2v4M498.6 240.9h4m-2-2v4M498.5 257.9h4m-2-2v4M498.4 250.9h4m-2-2v4M498.9 254.3h4m-2-2v4M499.9 230.2h4m-2-2v4M499.8 255.5h4m-2-2v4M499.3 240.8h4m-2-2v4M499.3 255.8h4m-2-2v4M499.3 225.7h4m-2-2v4M499.7 236.0h4m-2-2v4M500.0 255.1h4m-2-2v4M499.3 241.6h4m-2-2v4M499.4 253.9h4m-2-2v4M499.0 246.5h4m-2-2v4M499.5 254.0h4m-2-2v4M499.2 231.4h4m-2-2v4M499.6 251.6h4m-2-2v4M499.8 250.9h4m-2-2v4M499.3 245.0h4m-2-2v4M499.9 229.0h4m-2-2v4M499.4 233.3h4m-2-2v4M499.2 225.4h4m-2-2v4M500.1 264.5h4m-2-2v4M500.2 231.2h4m-2-2v4M500.9 263.0h4m-2-2v4M500.1 232.9h4m-2-2v4M501.0 246.2h4m-2-2v4M500.8 249.3h4m-2-2v4M500.4 237.4h4m-2-2v4M500.6 243.7h4m-2-2v4M500.3 240.9h4m-2-2v4M500.6 233.7h4m-2-2v4M500.1 243.0h4m-2-2v4M500.2 236.0h4m-2-2v4M500.3 243.1h4m-2-2v4M500.3 235.4h4m-2-2v4M500.2 253.2h4m-2-2v4M500.6 253.6h4m-2-2v4M500.7 250.7h4m-2-2v4M500.4 244.2h4m-2-2v4M500.3 247.3h4m-2-2v4M501.1 223.8h4m-2-2v4M501.1 264.9h4m-2-2v4M501.7 234.7h4m-2-2v4M501.5 231.7h4m-2-2v4M501.9 240.3h4m-2-2v4M501.6 244.4h4m-2-2v4M501.8 239.0h4m-2-2v4M501.5 248.5h4m-2-2v4M501.4 230.9h4m-2-2v4M501.3 225.4h4m-2-2v4M501.5 246.5h4m-2-2v4M501.9 232.5h4m-2-2v4M501.4 260.1h4m-2-2v4M501.0 256.0h4m-2-2v4M501.5 241.3h4m-2-2v4M501.8 256.1h4m-2-2v4M501.6 244.5h4m-2-2v4M501.2 255.7h4m-2-2v4M501.7 249.4h4m-2-2v4M502.9 223.3h4m-2-2v4M502.1 225.9h4m-2-2v4M502.6 264.9h4m-2-2v4M502.5 267.0h4m-2-2v4M502.9 264.2h4m-2-2v4M502.0 255.3h4m-2-2v4M502.4 258.8h4m-2-2v4M502.4 247.1h4m-2-2v4M502.0 260.1h4m-2-2v4M502.2 235.3h4m-2-2v4M502.7 242.3h4m-2-2v4M502.5 234.5h4m-2-2v4M502.7 238.7h4m-2-2v4M502.2 250.2h4m-2-2v4M502.8 243.3h4m-2-2v4M502.4 228.9h4m-2-2v4M502.4 242.8h4m-2-2v4M502.8 253.1h4m-2-2v4M503.0 238.4h4m-2-2v4M502.9 236.7h4m-2-2v4M502.2 240.2h4m-2-2v4M503.7 225.2h4m-2-2v4M503.7 224.1h4m-2-2v4M503.5 274.9h4m-2-2v4M503.7 278.6h4m-2-2v4M503.5 276.7h4m-2-2v4M503.1 230.5h4m-2-2v4M503.2 238.1h4m-2-2v4M503.5 238.6h4m-2-2v4M503.1 273.1h4m-2-2v4M503.4 232.6h4m-2-2v4M503.9 231.9h4m-2-2v4M503.6 237.9h4m-2-2v4M503.6 238.6h4m-2-2v4M503.2 263.0h4m-2-2v4M503.9 239.1h4m-2-2v4M503.1 246.9h4m-2-2v4M503.5 248.5h4m-2-2v4M503.7 235.4h4m-2-2v4M503.3 235.3h4m-2-2v4M503.3 254.3h4m-2-2v4M503.1 231.6h4m-2-2v4M503.3 267.7h4m-2-2v4M503.4 239.6h4m-2-2v4M503.3 239.2h4m-2-2v4M503.1 245.5h4m-2-2v4M503.0 272.5h4m-2-2v4M504.0 276.9h4m-2-2v4M504.8 277.1h4m-2-2v4M504.1 267.9h4m-2-2v4M504.3 235.5h4m-2-2v4M504.7 230.6h4m-2-2v4M504.1 243.1h4m-2-2v4M504.3 271.0h4m-2-2v4M504.7 252.5h4m-2-2v4M504.3 250.6h4m-2-2v4M504.4 249.4h4m-2-2v4M505.0 262.9h4m-2-2v4M504.3 258.1h4m-2-2v4M504.7 271.2h4m-2-2v4M504.3 256.6h4m-2-2v4M504.9 253.8h4m-2-2v4M504.7 269.4h4m-2-2v4M504.6 259.4h4m-2-2v4M504.3 234.7h4m-2-2v4M504.9 237.0h4m-2-2v4M505.0 237.8h4m-2-2v4M504.5 256.8h4m-2-2v4M504.8 241.8h4m-2-2v4M504.4 255.8h4m-2-2v4M505.7 230.0h4m-2-2v4M505.6 226.0h4m-2-2v4M505.2 229.3h4m-2-2v4M505.2 268.7h4m-2-2v4M505.5 248.5h4m-2-2v4M505.1 264.1h4m-2-2v4M505.1 246.6h4m-2-2v4M505.9 233.1h4m-2-2v4M505.2 254.5h4m-2-2v4M505.9 256.5h4m-2-2v4M505.2 251.4h4m-2-2v4M505.0 262.3h4m-2-2v4M505.9 252.2h4m-2-2v4M505.7 253.5h4m-2-2v4M505.2 252.7h4m-2-2v4M505.7 254.7h4m-2-2v4M505.9 240.6h4m-2-2v4M505.6 269.6h4m-2-2v4M505.5 240.1h4m-2-2v4M505.6 275.6h4m-2-2v4M505.7 265.6h4m-2-2v4M505.1 252.7h4m-2-2v4M505.8 255.2h4m-2-2v4M505.2 266.2h4m-2-2v4M506.5 278.2h4m-2-2v4M506.2 279.1h4m-2-2v4M506.8 253.9h4m-2-2v4M506.8 259.6h4m-2-2v4M506.4 247.0h4m-2-2v4M506.8 246.2h4m-2-2v4M506.6 232.5h4m-2-2v4M506.9 261.0h4m-2-2v4M506.6 245.7h4m-2-2v4M506.8 244.9h4m-2-2v4M506.7 232.3h4m-2-2v4M506.3 243.0h4m-2-2v4M506.6 241.2h4m-2-2v4M506.1 234.0h4m-2-2v4M506.9 274.6h4m-2-2v4M506.7 257.4h4m-2-2v4M506.5 274.4h4m-2-2v4M506.4 240.7h4m-2-2v4M506.4 268.3h4m-2-2v4M506.6 235.2h4m-2-2v4M506.1 255.9h4m-2-2v4M506.7 272.5h4m-2-2v4M507.3 277.6h4m-2-2v4M507.1 277.6h4m-2-2v4M507.7 277.5h4m-2-2v4M507.4 265.0h4m-2-2v4M507.2 243.9h4m-2-2v4M507.7 259.9h4m-2-2v4M507.4 265.7h4m-2-2v4M507.3 237.6h4m-2-2v4M507.8 273.7h4m-2-2v4M507.8 257.5h4m-2-2v4M507.3 253.3h4m-2-2v4M507.0 266.7h4m-2-2v4M507.1 239.3h4m-2-2v4M507.2 267.1h4m-2-2v4M507.9 264.6h4m-2-2v4M507.0 253.8h4m-2-2v4M507.6 262.3h4m-2-2v4M507.1 257.3h4m-2-2v4M507.8 267.1h4m-2-2v4M507.2 248.2h4m-2-2v4M507.1 238.3h4m-2-2v4M508.0 235.2h4m-2-2v4M507.1 248.6h4m-2-2v4M508.4 274.8h4m-2-2v4M508.2 249.1h4m-2-2v4M508.7 259.1h4m-2-2v4M508.5 260.5h4m-2-2v4M508.5 237.7h4m-2-2v4M508.7 251.3h4m-2-2v4M508.5 255.6h4m-2-2v4M508.8 253.3h4m-2-2v4M508.1 239.0h4m-2-2v4M508.0 264.5h4m-2-2v4M508.8 263.9h4m-2-2v4M508.2 264.0h4m-2-2v4M508.6 244.0h4m-2-2v4M508.2 257.0h4m-2-2v4M508.5 249.5h4m-2-2v4M508.4 253.8h4m-2-2v4M508.5 244.2h4m-2-2v4M508.2 255.7h4m-2-2v4M508.3 257.0h4m-2-2v4M508.5 270.3h4m-2-2v4M509.4 250.7h4m-2-2v4M509.2 258.7h4m-2-2v4M509.5 246.1h4m-2-2v4M509.4 272.6h4m-2-2v4M509.3 258.5h4m-2-2v4M509.5 250.2h4m-2-2v4M509.9 242.6h4m-2-2v4M509.3 247.7h4m-2-2v4M509.4 253.5h4m-2-2v4M509.4 234.8h4m-2-2v4M509.9 260.7h4m-2-2v4M509.3 239.0h4m-2-2v4M509.8 254.6h4m-2-2v4M509.8 264.0h4m-2-2v4M509.5 250.6h4m-2-2v4M509.2 242.5h4m-2-2v4M510.0 238.0h4m-2-2v4M509.5 253.5h4m-2-2v4M510.5 232.0h4m-2-2v4M510.9 254.9h4m-2-2v4M510.9 233.9h4m-2-2v4M511.0 259.4h4m-2-2v4M510.9 255.3h4m-2-2v4M510.9 248.6h4m-2-2v4M510.8 242.7h4m-2-2v4M510.8 251.0h4m-2-2v4M510.1 244.5h4m-2-2v4M510.9 254.1h4m-2-2v4M510.6 233.0h4m-2-2v4M510.2 240.9h4m-2-2v4M510.5 239.2h4m-2-2v4M510.1 254.3h4m-2-2v4M511.0 264.5h4m-2-2v4M510.2 246.0h4m-2-2v4M510.7 249.7h4m-2-2v4M510.3 259.2h4m-2-2v4M511.7 229.9h4m-2-2v4M511.7 228.8h4m-2-2v4M511.6 231.0h4m-2-2v4M511.6 270.3h4m-2-2v4M511.8 233.9h4m-2-2v4M511.8 261.5h4m-2-2v4M511.5 247.1h4m-2-2v4M511.9 234.8h4m-2-2v4M511.0 248.1h4m-2-2v4M511.4 256.1h4m-2-2v4M511.4 264.0h4m-2-2v4M511.2 259.9h4m-2-2v4M511.2 256.7h4m-2-2v4M511.4 254.7h4m-2-2v4M511.4 250.3h4m-2-2v4M511.5 247.1h4m-2-2v4M511.7 265.6h4m-2-2v4M511.4 235.7h4m-2-2v4M511.6 250.6h4m-2-2v4M511.9 256.9h4m-2-2v4M512.4 268.9h4m-2-2v4M512.8 271.1h4m-2-2v4M512.3 263.8h4m-2-2v4M512.6 267.5h4m-2-2v4M512.5 257.8h4m-2-2v4M512.1 261.5h4m-2-2v4M512.4 243.9h4m-2-2v4M512.9 260.1h4m-2-2v4M512.4 255.0h4m-2-2v4M512.7 237.4h4m-2-2v4M512.2 253.5h4m-2-2v4M512.3 267.3h4m-2-2v4M512.8 249.3h4m-2-2v4M512.1 256.0h4m-2-2v4M512.9 248.9h4m-2-2v4M512.2 262.7h4m-2-2v4M512.6 244.1h4m-2-2v4M512.1 247.7h4m-2-2v4M514.0 235.8h4m-2-2v4M513.0 244.0h4m-2-2v4M513.2 255.1h4m-2-2v4M513.5 245.4h4m-2-2v4M513.7 235.8h4m-2-2v4M513.9 259.4h4m-2-2v4M514.0 253.8h4m-2-2v4M513.2 236.6h4m-2-2v4M513.6 256.4h4m-2-2v4M513.6 261.6h4m-2-2v4M513.5 257.5h4m-2-2v4M514.0 251.1h4m-2-2v4M513.5 243.7h4m-2-2v4M513.1 262.5h4m-2-2v4M513.5 239.0h4m-2-2v4M513.5 235.8h4m-2-2v4M514.6 233.0h4m-2-2v4M514.3 233.2h4m-2-2v4M514.0 269.3h4m-2-2v4M514.5 267.1h4m-2-2v4M514.2 258.8h4m-2-2v4M514.5 240.7h4m-2-2v4M514.1 257.6h4m-2-2v4M514.5 249.8h4m-2-2v4M514.7 237.2h4m-2-2v4M514.7 263.5h4m-2-2v4M514.8 238.5h4m-2-2v4M514.2 256.7h4m-2-2v4M514.5 242.9h4m-2-2v4M514.3 237.8h4m-2-2v4M514.3 252.7h4m-2-2v4M514.7 253.2h4m-2-2v4M514.3 247.8h4m-2-2v4M514.2 243.0h4m-2-2v4M515.3 241.9h4m-2-2v4M516.0 262.9h4m-2-2v4M515.8 253.5h4m-2-2v4M515.4 263.0h4m-2-2v4M515.9 246.6h4m-2-2v4M515.9 236.9h4m-2-2v4M515.8 246.3h4m-2-2v4M515.6 263.5h4m-2-2v4M515.0 246.6h4m-2-2v4M515.4 237.1h4m-2-2v4M515.3 239.8h4m-2-2v4M515.9 245.5h4m-2-2v4M515.6 252.2h4m-2-2v4M515.8 262.9h4m-2-2v4M516.9 267.8h4m-2-2v4M516.9 265.2h4m-2-2v4M516.4 266.9h4m-2-2v4M516.5 250.6h4m-2-2v4M516.2 241.9h4m-2-2v4M516.3 257.5h4m-2-2v4M516.1 253.6h4m-2-2v4M516.3 255.9h4m-2-2v4M516.7 256.2h4m-2-2v4M516.6 238.0h4m-2-2v4M516.4 245.6h4m-2-2v4M516.5 243.7h4m-2-2v4M516.6 253.4h4m-2-2v4M516.4 247.8h4m-2-2v4M516.9 244.2h4m-2-2v4M516.6 244.8h4m-2-2v4M516.3 253.2h4m-2-2v4M517.8 268.3h4m-2-2v4M517.8 267.1h4m-2-2v4M517.3 265.8h4m-2-2v4M517.2 245.8h4m-2-2v4M517.8 248.2h4m-2-2v4M517.5 236.3h4m-2-2v4M517.7 250.4h4m-2-2v4M517.8 249.9h4m-2-2v4M517.5 242.6h4m-2-2v4M517.3 240.9h4m-2-2v4M517.9 254.0h4m-2-2v4M517.1 242.0h4m-2-2v4M517.2 257.8h4m-2-2v4M517.8 255.6h4m-2-2v4M517.8 254.5h4m-2-2v4M517.4 258.8h4m-2-2v4M518.0 255.1h4m-2-2v4M518.3 263.5h4m-2-2v4M518.6 265.5h4m-2-2v4M518.4 267.8h4m-2-2v4M518.2 237.6h4m-2-2v4M518.0 252.0h4m-2-2v4M518.1 248.3h4m-2-2v4M518.7 245.1h4m-2-2v4M518.3 236.3h4m-2-2v4M518.6 242.6h4m-2-2v4M518.4 244.9h4m-2-2v4M518.4 251.9h4m-2-2v4M518.3 240.6h4m-2-2v4M518.7 245.1h4m-2-2v4M518.4 249.1h4m-2-2v4M518.1 248.9h4m-2-2v4M518.1 240.7h4m-2-2v4M518.1 253.5h4m-2-2v4M519.4 228.0h4m-2-2v4M519.6 226.5h4m-2-2v4M519.1 246.0h4m-2-2v4M519.3 238.9h4m-2-2v4M519.3 234.7h4m-2-2v4M519.9 242.6h4m-2-2v4M519.7 240.1h4m-2-2v4M519.8 254.3h4m-2-2v4M519.5 235.8h4m-2-2v4M519.4 255.7h4m-2-2v4M520.0 229.7h4m-2-2v4M519.7 248.6h4m-2-2v4M519.2 228.9h4m-2-2v4M519.7 232.8h4m-2-2v4M519.9 256.2h4m-2-2v4M520.6 233.9h4m-2-2v4M520.8 236.0h4m-2-2v4M520.5 233.1h4m-2-2v4M520.3 241.4h4m-2-2v4M520.3 234.8h4m-2-2v4M520.4 236.6h4m-2-2v4M520.1 232.7h4m-2-2v4M520.6 242.2h4m-2-2v4M520.5 229.4h4m-2-2v4M520.8 237.5h4m-2-2v4M520.9 240.2h4m-2-2v4M520.1 244.0h4m-2-2v4M520.9 252.0h4m-2-2v4M521.1 243.8h4m-2-2v4M521.1 242.6h4m-2-2v4M521.5 246.0h4m-2-2v4M521.7 240.9h4m-2-2v4M521.2 233.2h4m-2-2v4M521.6 230.6h4m-2-2v4M521.6 242.1h4m-2-2v4M521.4 231.3h4m-2-2v4M521.6 251.1h4m-2-2v4M521.1 240.8h4m-2-2v4M521.0 253.0h4m-2-2v4M521.0 238.2h4m-2-2v4M521.3 236.7h4m-2-2v4M522.4 259.4h4m-2-2v4M522.7 257.5h4m-2-2v4M523.0 255.9h4m-2-2v4M522.4 238.2h4m-2-2v4M522.0 253.4h4m-2-2v4M522.0 240.4h4m-2-2v4M522.9 242.9h4m-2-2v4M522.2 236.6h4m-2-2v4M522.9 234.6h4m-2-2v4M522.4 246.0h4m-2-2v4M522.9 246.3h4m-2-2v4M522.5 247.9h4m-2-2v4M522.5 238.1h4m-2-2v4M522.6 247.9h4m-2-2v4M522.9 245.6h4m-2-2v4M522.9 246.0h4m-2-2v4M523.7 226.3h4m-2-2v4M523.5 225.0h4m-2-2v4M523.8 224.5h4m-2-2v4M523.5 237.9h4m-2-2v4M523.3 241.9h4m-2-2v4M523.7 253.3h4m-2-2v4M523.2 245.6h4m-2-2v4M524.0 227.6h4m-2-2v4M523.9 250.2h4m-2-2v4M523.2 233.5h4m-2-2v4M523.9 239.8h4m-2-2v4M523.2 241.6h4m-2-2v4M523.5 251.7h4m-2-2v4M523.8 227.2h4m-2-2v4M523.8 249.6h4m-2-2v4M523.5 242.2h4m-2-2v4M524.4 256.4h4m-2-2v4M524.3 257.6h4m-2-2v4M524.7 236.5h4m-2-2v4M524.3 237.1h4m-2-2v4M524.1 238.1h4m-2-2v4M524.9 229.4h4m-2-2v4M524.9 247.9h4m-2-2v4M524.9 233.2h4m-2-2v4M524.8 230.4h4m-2-2v4M524.6 244.7h4m-2-2v4M524.3 229.4h4m-2-2v4M524.0 229.5h4m-2-2v4M524.5 229.5h4m-2-2v4M524.7 254.2h4m-2-2v4M524.2 236.4h4m-2-2v4M525.1 249.3h4m-2-2v4M525.5 248.0h4m-2-2v4M525.7 255.7h4m-2-2v4M525.1 248.5h4m-2-2v4M525.6 252.5h4m-2-2v4M525.7 247.9h4m-2-2v4M525.8 241.3h4m-2-2v4M525.4 243.7h4m-2-2v4M525.2 237.2h4m-2-2v4M525.3 247.9h4m-2-2v4M525.3 241.3h4m-2-2v4M526.4 258.5h4m-2-2v4M526.3 261.2h4m-2-2v4M526.9 259.1h4m-2-2v4M526.8 255.8h4m-2-2v4M526.1 239.9h4m-2-2v4M526.7 245.7h4m-2-2v4M526.2 241.2h4m-2-2v4M526.0 237.9h4m-2-2v4M526.8 244.1h4m-2-2v4M526.0 245.3h4m-2-2v4M526.4 254.2h4m-2-2v4M526.9 248.0h4m-2-2v4M526.4 254.3h4m-2-2v4M526.5 251.0h4m-2-2v4M527.4 244.8h4m-2-2v4M527.4 247.6h4m-2-2v4M528.0 242.9h4m-2-2v4M527.3 254.5h4m-2-2v4M527.7 241.2h4m-2-2v4M527.7 240.5h4m-2-2v4M528.0 254.6h4m-2-2v4M527.8 234.3h4m-2-2v4M527.4 237.9h4m-2-2v4M527.8 249.8h4m-2-2v4M528.4 231.5h4m-2-2v4M528.8 231.9h4m-2-2v4M529.0 258.2h4m-2-2v4M528.1 258.6h4m-2-2v4M528.6 258.8h4m-2-2v4M528.4 243.4h4m-2-2v4M528.3 252.3h4m-2-2v4M528.8 250.5h4m-2-2v4M528.1 249.5h4m-2-2v4M528.9 244.5h4m-2-2v4M528.5 238.1h4m-2-2v4M528.8 246.2h4m-2-2v4M528.9 235.4h4m-2-2v4M528.1 248.4h4m-2-2v4M528.4 242.0h4m-2-2v4M529.2 257.5h4m-2-2v4M529.4 245.2h4m-2-2v4M529.7 250.0h4m-2-2v4M529.6 243.9h4m-2-2v4M529.5 247.1h4m-2-2v4M529.7 250.0h4m-2-2v4M529.5 241.3h4m-2-2v4M529.6 255.1h4m-2-2v4M529.3 229.7h4m-2-2v4M529.3 231.0h4m-2-2v4M529.7 248.1h4m-2-2v4M529.3 239.0h4m-2-2v4M529.3 248.9h4m-2-2v4M529.7 239.6h4m-2-2v4M529.2 234.0h4m-2-2v4M530.8 213.0h4m-2-2v4M530.0 213.6h4m-2-2v4M530.5 256.2h4m-2-2v4M530.5 259.1h4m-2-2v4M530.4 255.6h4m-2-2v4M530.4 245.8h4m-2-2v4M530.3 247.8h4m-2-2v4M530.0 237.9h4m-2-2v4M530.5 230.1h4m-2-2v4M530.2 246.9h4m-2-2v4M530.4 245.4h4m-2-2v4M530.7 223.5h4m-2-2v4M530.6 237.6h4m-2-2v4M530.3 244.5h4m-2-2v4M530.2 226.4h4m-2-2v4M530.8 243.8h4m-2-2v4M530.2 248.5h4m-2-2v4M530.6 237.5h4m-2-2v4M530.0 229.6h4m-2-2v4M530.4 234.1h4m-2-2v4M530.1 224.8h4m-2-2v4M530.1 225.5h4m-2-2v4M531.0 239.5h4m-2-2v4M531.6 210.9h4m-2-2v4M531.4 212.4h4m-2-2v4M531.7 210.6h4m-2-2v4M531.4 256.2h4m-2-2v4M531.5 255.6h4m-2-2v4M531.4 251.8h4m-2-2v4M531.6 240.1h4m-2-2v4M531.4 250.1h4m-2-2v4M531.6 248.1h4m-2-2v4M531.7 231.1h4m-2-2v4M531.9 212.9h4m-2-2v4M531.0 235.8h4m-2-2v4M531.1 237.6h4m-2-2v4M531.6 230.0h4m-2-2v4M531.4 221.5h4m-2-2v4M531.3 223.6h4m-2-2v4M531.1 218.8h4m-2-2v4M531.6 216.1h4m-2-2v4M531.8 236.4h4m-2-2v4M531.5 223.5h4m-2-2v4M531.6 216.0h4m-2-2v4M531.4 249.0h4m-2-2v4M531.0 223.4h4m-2-2v4M531.2 230.9h4m-2-2v4M532.0 224.4h4m-2-2v4M532.9 234.8h4m-2-2v4M532.0 232.8h4m-2-2v4M532.9 231.3h4m-2-2v4M532.8 230.2h4m-2-2v4M532.9 227.0h4m-2-2v4M532.4 223.9h4m-2-2v4M532.1 222.0h4m-2-2v4M532.3 234.1h4m-2-2v4M532.6 242.8h4m-2-2v4M532.2 219.9h4m-2-2v4M532.9 224.8h4m-2-2v4M532.1 221.4h4m-2-2v4M532.1 229.4h4m-2-2v4M532.5 233.9h4m-2-2v4M532.9 214.4h4m-2-2v4M533.8 240.3h4m-2-2v4M533.8 224.9h4m-2-2v4M533.0 228.4h4m-2-2v4M533.7 222.8h4m-2-2v4M533.5 232.2h4m-2-2v4M533.3 220.7h4m-2-2v4M533.4 242.6h4m-2-2v4M533.7 240.4h4m-2-2v4M533.2 238.1h4m-2-2v4M533.8 223.7h4m-2-2v4M533.7 227.1h4m-2-2v4M533.4 222.8h4m-2-2v4M533.6 237.3h4m-2-2v4M533.7 222.5h4m-2-2v4M533.9 226.2h4m-2-2v4M534.7 234.7h4m-2-2v4M534.5 233.4h4m-2-2v4M534.9 228.3h4m-2-2v4M534.0 227.9h4m-2-2v4M534.2 235.7h4m-2-2v4M534.8 232.2h4m-2-2v4M534.8 236.0h4m-2-2v4M534.2 227.6h4m-2-2v4M534.4 233.7h4m-2-2v4M535.0 236.9h4m-2-2v4M534.5 234.7h4m-2-2v4M535.2 221.9h4m-2-2v4M535.8 222.2h4m-2-2v4M535.2 231.1h4m-2-2v4M535.5 229.3h4m-2-2v4M535.2 225.3h4m-2-2v4M535.6 227.1h4m-2-2v4M535.2 222.9h4m-2-2v4M535.7 233.5h4m-2-2v4M536.2 213.0h4m-2-2v4M536.0 214.3h4m-2-2v4M536.2 215.2h4m-2-2v4M536.2 223.4h4m-2-2v4M536.0 224.0h4m-2-2v4M536.2 225.4h4m-2-2v4M536.6 220.8h4m-2-2v4M536.7 222.2h4m-2-2v4M536.7 217.5h4m-2-2v4M536.3 218.7h4m-2-2v4M537.8 230.8h4m-2-2v4M537.4 232.3h4m-2-2v4M537.9 234.3h4m-2-2v4M537.6 219.3h4m-2-2v4M537.6 221.6h4m-2-2v4M537.1 215.3h4m-2-2v4M537.4 226.5h4m-2-2v4M537.0 218.8h4m-2-2v4M537.2 215.0h4m-2-2v4M537.3 223.5h4m-2-2v4M537.0 224.2h4m-2-2v4M538.3 232.3h4m-2-2v4M538.1 211.5h4m-2-2v4M538.1 225.0h4m-2-2v4M538.3 224.4h4m-2-2v4M538.1 214.2h4m-2-2v4M538.8 226.9h4m-2-2v4M538.4 221.8h4m-2-2v4M538.6 216.7h4m-2-2v4M538.5 214.8h4m-2-2v4M538.8 223.1h4m-2-2v4M538.2 219.9h4m-2-2v4M539.0 233.1h4m-2-2v4M539.1 226.2h4m-2-2v4M539.3 223.4h4m-2-2v4M539.0 218.6h4m-2-2v4M539.8 218.8h4m-2-2v4M539.4 223.7h4m-2-2v4M539.9 222.1h4m-2-2v4M539.1 225.5h4m-2-2v4M539.1 222.0h4m-2-2v4M539.8 219.4h4m-2-2v4M540.0 228.6h4m-2-2v4M540.0 210.5h4m-2-2v4M540.9 210.4h4m-2-2v4M540.2 228.9h4m-2-2v4M540.4 220.2h4m-2-2v4M540.7 220.1h4m-2-2v4M540.9 225.3h4m-2-2v4M540.9 214.3h4m-2-2v4M540.2 226.4h4m-2-2v4M540.8 224.8h4m-2-2v4M540.0 213.5h4m-2-2v4M540.2 227.5h4m-2-2v4M541.9 215.5h4m-2-2v4M541.3 216.2h4m-2-2v4M541.6 224.2h4m-2-2v4M541.6 224.9h4m-2-2v4M541.7 223.6h4m-2-2v4M541.8 215.1h4m-2-2v4M541.9 221.8h4m-2-2v4M541.5 221.6h4m-2-2v4M542.3 216.0h4m-2-2v4M542.4 223.7h4m-2-2v4M542.9 211.7h4m-2-2v4M542.9 212.6h4m-2-2v4M542.4 216.4h4m-2-2v4M542.7 223.0h4m-2-2v4M542.6 229.7h4m-2-2v4M542.7 217.1h4m-2-2v4M542.5 219.1h4m-2-2v4M543.7 220.1h4m-2-2v4M543.8 222.4h4m-2-2v4M543.8 223.9h4m-2-2v4M543.7 225.4h4m-2-2v4M543.8 219.5h4m-2-2v4M543.1 226.2h4m-2-2v4M543.6 219.3h4m-2-2v4M543.9 215.2h4m-2-2v4M544.6 226.2h4m-2-2v4M544.8 211.3h4m-2-2v4M544.2 211.1h4m-2-2v4M544.7 221.8h4m-2-2v4M544.5 221.8h4m-2-2v4M544.2 226.3h4m-2-2v4M544.3 219.7h4m-2-2v4M544.3 220.2h4m-2-2v4M544.7 218.9h4m-2-2v4M545.9 225.0h4m-2-2v4M545.2 211.7h4m-2-2v4M545.8 212.3h4m-2-2v4M545.5 221.6h4m-2-2v4M545.5 221.3h4m-2-2v4M546.0 216.8h4m-2-2v4M545.3 220.9h4m-2-2v4M545.0 223.7h4m-2-2v4M545.1 224.0h4m-2-2v4M545.3 218.2h4m-2-2v4M545.2 215.6h4m-2-2v4M546.4 226.2h4m-2-2v4M546.4 216.3h4m-2-2v4M546.1 217.5h4m-2-2v4M546.3 217.6h4m-2-2v4M546.8 219.5h4m-2-2v4M546.6 223.8h4m-2-2v4M546.0 226.7h4m-2-2v4M546.0 218.6h4m-2-2v4M546.3 218.0h4m-2-2v4M546.7 216.6h4m-2-2v4M547.6 202.7h4m-2-2v4M547.4 202.6h4m-2-2v4M547.4 202.7h4m-2-2v4M547.6 227.1h4m-2-2v4M547.0 219.2h4m-2-2v4M547.4 209.9h4m-2-2v4M547.3 217.6h4m-2-2v4M547.8 228.3h4m-2-2v4M547.8 223.6h4m-2-2v4M547.5 218.6h4m-2-2v4M547.9 208.9h4m-2-2v4M547.8 220.1h4m-2-2v4M547.5 214.0h4m-2-2v4M548.9 207.4h4m-2-2v4M548.6 204.7h4m-2-2v4M548.2 205.4h4m-2-2v4M548.1 231.8h4m-2-2v4M548.5 233.1h4m-2-2v4M548.3 235.5h4m-2-2v4M548.5 226.6h4m-2-2v4M548.1 220.1h4m-2-2v4M548.5 222.7h4m-2-2v4M548.3 210.1h4m-2-2v4M548.6 221.8h4m-2-2v4M548.3 229.6h4m-2-2v4M548.1 227.1h4m-2-2v4M548.6 220.1h4m-2-2v4M548.2 213.3h4m-2-2v4M548.9 221.4h4m-2-2v4M549.7 223.8h4m-2-2v4M549.4 218.7h4m-2-2v4M549.2 210.5h4m-2-2v4M549.3 221.0h4m-2-2v4M549.1 227.3h4m-2-2v4M549.7 212.9h4m-2-2v4M549.4 214.1h4m-2-2v4M549.9 222.3h4m-2-2v4M549.6 220.0h4m-2-2v4M549.1 223.3h4m-2-2v4M549.4 226.8h4m-2-2v4M550.7 207.2h4m-2-2v4M550.6 232.5h4m-2-2v4M550.4 222.6h4m-2-2v4M550.5 219.6h4m-2-2v4M550.3 221.3h4m-2-2v4M550.3 216.1h4m-2-2v4M551.0 211.8h4m-2-2v4M550.1 225.1h4m-2-2v4M550.7 220.1h4m-2-2v4M550.5 223.4h4m-2-2v4M550.6 222.4h4m-2-2v4M550.4 220.4h4m-2-2v4M550.7 226.6h4m-2-2v4M551.5 209.6h4m-2-2v4M551.2 232.8h4m-2-2v4M551.0 219.9h4m-2-2v4M551.9 219.3h4m-2-2v4M551.4 216.1h4m-2-2v4M551.9 217.9h4m-2-2v4M551.4 228.8h4m-2-2v4M551.8 221.8h4m-2-2v4M551.8 219.6h4m-2-2v4M551.0 222.0h4m-2-2v4M551.5 213.4h4m-2-2v4M552.7 229.9h4m-2-2v4M552.4 230.7h4m-2-2v4M552.7 221.8h4m-2-2v4M552.5 222.0h4m-2-2v4M552.2 218.0h4m-2-2v4M552.9 216.7h4m-2-2v4M552.8 225.6h4m-2-2v4M552.8 231.4h4m-2-2v4M552.9 214.7h4m-2-2v4M553.3 228.4h4m-2-2v4M553.7 219.9h4m-2-2v4M553.3 223.4h4m-2-2v4M553.4 223.5h4m-2-2v4M553.8 231.8h4m-2-2v4M553.8 218.0h4m-2-2v4M553.8 232.3h4m-2-2v4M553.2 216.0h4m-2-2v4M553.6 216.3h4m-2-2v4M554.8 234.9h4m-2-2v4M554.2 222.9h4m-2-2v4M554.6 233.6h4m-2-2v4M554.5 234.9h4m-2-2v4M554.9 230.9h4m-2-2v4M554.8 218.2h4m-2-2v4M554.0 222.3h4m-2-2v4M554.7 224.1h4m-2-2v4M554.3 221.7h4m-2-2v4M555.2 233.4h4m-2-2v4M555.2 226.2h4m-2-2v4M555.6 223.2h4m-2-2v4M555.2 227.9h4m-2-2v4M555.1 232.2h4m-2-2v4M555.7 232.3h4m-2-2v4M555.2 237.8h4m-2-2v4M555.2 234.7h4m-2-2v4M555.4 228.8h4m-2-2v4M555.5 226.2h4m-2-2v4M556.7 220.7h4m-2-2v4M556.6 217.6h4m-2-2v4M556.7 219.4h4m-2-2v4M556.1 234.2h4m-2-2v4M556.2 229.7h4m-2-2v4M556.5 225.4h4m-2-2v4M556.8 229.8h4m-2-2v4M556.1 230.3h4m-2-2v4M557.0 227.4h4m-2-2v4M556.5 230.4h4m-2-2v4M557.0 226.0h4m-2-2v4M556.0 232.5h4m-2-2v4M557.7 248.4h4m-2-2v4M557.4 245.6h4m-2-2v4M557.4 247.0h4m-2-2v4M557.9 238.5h4m-2-2v4M557.7 228.6h4m-2-2v4M557.6 241.5h4m-2-2v4M557.6 243.3h4m-2-2v4M557.6 232.7h4m-2-2v4M557.4 246.5h4m-2-2v4M557.8 249.9h4m-2-2v4M557.8 226.9h4m-2-2v4M558.2 258.3h4m-2-2v4M558.1 243.8h4m-2-2v4M558.5 241.5h4m-2-2v4M558.8 253.5h4m-2-2v4M558.8 249.2h4m-2-2v4M558.4 247.6h4m-2-2v4M558.8 248.9h4m-2-2v4M558.5 237.1h4m-2-2v4M558.6 250.6h4m-2-2v4M558.5 247.1h4m-2-2v4M558.8 243.2h4m-2-2v4M558.5 247.2h4m-2-2v4M559.0 244.4h4m-2-2v4M559.2 254.9h4m-2-2v4M559.8 241.5h4m-2-2v4M559.5 261.1h4m-2-2v4M559.1 243.9h4m-2-2v4M560.0 249.8h4m-2-2v4M559.7 242.5h4m-2-2v4M559.7 253.7h4m-2-2v4M559.8 252.7h4m-2-2v4M559.3 248.0h4m-2-2v4M559.8 250.9h4m-2-2v4M560.4 248.0h4m-2-2v4M560.3 260.3h4m-2-2v4M560.9 251.0h4m-2-2v4M560.1 254.2h4m-2-2v4M560.5 249.1h4m-2-2v4M560.3 240.0h4m-2-2v4M560.6 249.6h4m-2-2v4M560.9 249.6h4m-2-2v4M560.1 242.8h4m-2-2v4M560.4 259.7h4m-2-2v4M560.0 263.9h4m-2-2v4M560.1 240.1h4m-2-2v4M561.4 240.1h4m-2-2v4M561.8 270.9h4m-2-2v4M561.6 270.0h4m-2-2v4M561.7 270.3h4m-2-2v4M561.7 266.0h4m-2-2v4M561.8 246.3h4m-2-2v4M561.5 260.4h4m-2-2v4M561.4 253.4h4m-2-2v4M561.2 242.0h4m-2-2v4M561.3 248.4h4m-2-2v4M561.3 262.9h4m-2-2v4M562.0 261.6h4m-2-2v4M561.8 262.5h4m-2-2v4M561.3 242.0h4m-2-2v4M561.4 265.2h4m-2-2v4M561.2 252.6h4m-2-2v4M562.7 241.2h4m-2-2v4M562.5 240.4h4m-2-2v4M562.5 239.1h4m-2-2v4M562.4 257.0h4m-2-2v4M562.5 251.8h4m-2-2v4M562.5 255.7h4m-2-2v4M562.5 261.3h4m-2-2v4M562.1 265.2h4m-2-2v4M563.0 261.6h4m-2-2v4M563.0 263.9h4m-2-2v4M562.7 257.8h4m-2-2v4M562.6 257.8h4m-2-2v4M562.6 243.4h4m-2-2v4M562.9 247.2h4m-2-2v4M562.8 250.6h4m-2-2v4M563.7 270.7h4m-2-2v4M564.0 272.0h4m-2-2v4M563.7 272.9h4m-2-2v4M563.6 257.6h4m-2-2v4M563.2 262.9h4m-2-2v4M563.4 258.2h4m-2-2v4M563.2 269.2h4m-2-2v4M563.6 263.8h4m-2-2v4M563.9 270.1h4m-2-2v4M563.8 244.5h4m-2-2v4M563.8 243.6h4m-2-2v4M563.8 258.6h4m-2-2v4M563.1 245.5h4m-2-2v4M563.2 248.8h4m-2-2v4M564.0 257.0h4m-2-2v4M564.7 276.7h4m-2-2v4M564.5 272.9h4m-2-2v4M564.4 273.4h4m-2-2v4M564.2 248.6h4m-2-2v4M564.0 257.6h4m-2-2v4M565.0 264.0h4m-2-2v4M564.6 265.6h4m-2-2v4M564.0 259.0h4m-2-2v4M564.4 248.7h4m-2-2v4M564.3 251.4h4m-2-2v4M564.7 259.3h4m-2-2v4M564.9 271.9h4m-2-2v4M564.8 265.1h4m-2-2v4M564.1 264.3h4m-2-2v4M564.3 260.1h4m-2-2v4M564.3 267.7h4m-2-2v4M565.8 243.4h4m-2-2v4M565.3 243.1h4m-2-2v4M565.8 259.6h4m-2-2v4M565.9 251.0h4m-2-2v4M565.8 258.2h4m-2-2v4M565.7 257.3h4m-2-2v4M565.0 253.4h4m-2-2v4M565.3 265.1h4m-2-2v4M565.5 262.8h4m-2-2v4M565.6 255.0h4m-2-2v4M565.8 264.5h4m-2-2v4M565.2 263.7h4m-2-2v4M565.3 259.5h4m-2-2v4M565.3 264.3h4m-2-2v4M565.6 251.6h4m-2-2v4M566.5 275.9h4m-2-2v4M566.6 270.5h4m-2-2v4M566.6 253.6h4m-2-2v4M566.5 267.4h4m-2-2v4M566.9 256.4h4m-2-2v4M566.9 258.6h4m-2-2v4M566.5 274.4h4m-2-2v4M566.0 254.9h4m-2-2v4M566.7 255.4h4m-2-2v4M566.1 264.5h4m-2-2v4M566.9 249.2h4m-2-2v4M566.3 266.1h4m-2-2v4M566.3 267.1h4m-2-2v4M567.8 274.9h4m-2-2v4M567.7 250.8h4m-2-2v4M567.5 268.3h4m-2-2v4M567.2 247.8h4m-2-2v4M567.9 268.5h4m-2-2v4M567.5 254.8h4m-2-2v4M568.0 273.0h4m-2-2v4M567.5 271.6h4m-2-2v4M567.2 267.5h4m-2-2v4M567.9 256.1h4m-2-2v4M567.9 255.7h4m-2-2v4M567.3 260.8h4m-2-2v4M567.8 263.8h4m-2-2v4M568.9 269.2h4m-2-2v4M568.3 264.0h4m-2-2v4M568.8 259.2h4m-2-2v4M568.1 254.9h4m-2-2v4M568.2 273.6h4m-2-2v4M568.3 255.1h4m-2-2v4M568.3 274.9h4m-2-2v4M568.9 274.4h4m-2-2v4M569.0 259.2h4m-2-2v4M569.0 274.1h4m-2-2v4M568.4 267.0h4m-2-2v4M568.7 271.8h4m-2-2v4M568.6 265.4h4m-2-2v4M569.1 253.0h4m-2-2v4M570.0 260.9h4m-2-2v4M569.8 259.1h4m-2-2v4M569.3 258.2h4m-2-2v4M569.5 257.1h4m-2-2v4M570.0 262.6h4m-2-2v4M569.1 255.1h4m-2-2v4M569.6 255.9h4m-2-2v4M569.2 266.1h4m-2-2v4M569.9 262.2h4m-2-2v4M570.4 247.6h4m-2-2v4M570.8 271.8h4m-2-2v4M570.6 271.2h4m-2-2v4M570.9 254.5h4m-2-2v4M570.2 264.4h4m-2-2v4M570.6 259.2h4m-2-2v4M570.2 269.6h4m-2-2v4M570.9 266.9h4m-2-2v4M570.8 259.4h4m-2-2v4M570.3 251.5h4m-2-2v4M570.8 255.6h4m-2-2v4M570.1 263.5h4m-2-2v4M570.9 260.4h4m-2-2v4M571.4 264.6h4m-2-2v4M571.2 259.1h4m-2-2v4M571.2 250.8h4m-2-2v4M571.7 258.7h4m-2-2v4M571.5 250.4h4m-2-2v4M572.0 268.4h4m-2-2v4M571.3 269.6h4m-2-2v4M571.4 256.1h4m-2-2v4M571.0 268.5h4m-2-2v4M571.7 258.2h4m-2-2v4M572.6 247.0h4m-2-2v4M572.3 248.3h4m-2-2v4M572.2 247.7h4m-2-2v4M572.6 263.9h4m-2-2v4M572.7 261.9h4m-2-2v4M572.6 262.7h4m-2-2v4M572.4 252.6h4m-2-2v4M572.3 267.4h4m-2-2v4M572.7 257.7h4m-2-2v4M572.3 263.4h4m-2-2v4M572.3 250.6h4m-2-2v4M572.7 252.1h4m-2-2v4M573.8 258.5h4m-2-2v4M573.5 255.9h4m-2-2v4M573.8 260.3h4m-2-2v4M574.0 253.9h4m-2-2v4M573.4 267.8h4m-2-2v4M573.6 259.7h4m-2-2v4M573.5 248.9h4m-2-2v4M573.4 251.3h4m-2-2v4M573.5 265.9h4m-2-2v4M573.9 267.2h4m-2-2v4M574.6 265.3h4m-2-2v4M574.9 255.1h4m-2-2v4M574.5 253.5h4m-2-2v4M574.8 262.0h4m-2-2v4M574.1 257.5h4m-2-2v4M574.3 254.3h4m-2-2v4M574.8 251.9h4m-2-2v4M574.9 252.8h4m-2-2v4M574.8 255.4h4m-2-2v4M575.4 257.7h4m-2-2v4M575.5 260.9h4m-2-2v4M575.7 266.4h4m-2-2v4M575.0 263.1h4m-2-2v4M576.0 268.0h4m-2-2v4M575.6 262.8h4m-2-2v4M575.8 257.2h4m-2-2v4M575.9 257.5h4m-2-2v4M575.0 261.1h4m-2-2v4M575.4 268.3h4m-2-2v4M576.5 250.4h4m-2-2v4M576.1 249.5h4m-2-2v4M576.4 273.3h4m-2-2v4M576.6 272.8h4m-2-2v4M576.2 277.1h4m-2-2v4M576.1 260.6h4m-2-2v4M576.9 258.0h4m-2-2v4M576.5 256.1h4m-2-2v4M576.0 270.6h4m-2-2v4M576.5 254.0h4m-2-2v4M576.2 256.7h4m-2-2v4M576.0 259.3h4m-2-2v4M576.2 261.7h4m-2-2v4M576.6 255.7h4m-2-2v4M576.8 268.2h4m-2-2v4M577.9 271.9h4m-2-2v4M577.4 263.3h4m-2-2v4M577.1 271.5h4m-2-2v4M577.5 266.2h4m-2-2v4M577.1 259.2h4m-2-2v4M577.9 253.7h4m-2-2v4M577.1 256.7h4m-2-2v4M577.2 264.5h4m-2-2v4M577.2 261.2h4m-2-2v4M577.7 263.1h4m-2-2v4M578.2 278.0h4m-2-2v4M578.6 266.9h4m-2-2v4M578.2 263.2h4m-2-2v4M578.9 275.8h4m-2-2v4M579.0 261.0h4m-2-2v4M578.7 262.4h4m-2-2v4M578.5 272.2h4m-2-2v4M578.2 269.5h4m-2-2v4M578.5 275.0h4m-2-2v4M578.2 268.8h4m-2-2v4M578.9 263.5h4m-2-2v4M579.6 253.0h4m-2-2v4M579.3 253.0h4m-2-2v4M580.0 282.2h4m-2-2v4M579.3 281.1h4m-2-2v4M579.6 267.2h4m-2-2v4M580.0 269.7h4m-2-2v4M579.8 271.0h4m-2-2v4M579.6 279.5h4m-2-2v4M579.4 256.1h4m-2-2v4M579.5 268.8h4m-2-2v4M579.7 279.1h4m-2-2v4M579.6 262.6h4m-2-2v4M580.0 275.4h4m-2-2v4M580.0 262.7h4m-2-2v4M580.0 274.9h4m-2-2v4M579.2 262.5h4m-2-2v4M580.4 253.0h4m-2-2v4M580.8 254.6h4m-2-2v4M580.6 285.7h4m-2-2v4M580.2 284.7h4m-2-2v4M580.8 285.0h4m-2-2v4M580.9 279.0h4m-2-2v4M580.0 280.9h4m-2-2v4M580.4 267.7h4m-2-2v4M580.3 281.3h4m-2-2v4M580.1 277.6h4m-2-2v4M580.6 260.8h4m-2-2v4M580.4 258.8h4m-2-2v4M580.4 269.7h4m-2-2v4M580.9 277.3h4m-2-2v4M580.5 269.5h4m-2-2v4M580.6 268.5h4m-2-2v4M580.2 273.7h4m-2-2v4M581.3 282.5h4m-2-2v4M581.9 281.1h4m-2-2v4M581.1 283.2h4m-2-2v4M581.7 266.7h4m-2-2v4M581.7 270.2h4m-2-2v4M581.5 268.9h4m-2-2v4M581.5 273.7h4m-2-2v4M581.6 267.9h4m-2-2v4M581.6 269.6h4m-2-2v4M581.7 260.8h4m-2-2v4M581.6 267.2h4m-2-2v4M581.5 272.9h4m-2-2v4M581.4 264.9h4m-2-2v4M581.9 272.7h4m-2-2v4M582.0 259.7h4m-2-2v4M582.5 266.4h4m-2-2v4M582.4 259.6h4m-2-2v4M582.9 268.5h4m-2-2v4M582.9 257.2h4m-2-2v4M582.7 271.4h4m-2-2v4M582.7 266.6h4m-2-2v4M582.8 267.1h4m-2-2v4M582.4 272.3h4m-2-2v4M582.2 266.5h4m-2-2v4M583.6 270.9h4m-2-2v4M583.4 267.0h4m-2-2v4M583.0 267.8h4m-2-2v4M583.2 273.5h4m-2-2v4M583.3 262.2h4m-2-2v4M583.1 266.5h4m-2-2v4M583.4 273.5h4m-2-2v4M583.9 259.4h4m-2-2v4M583.9 262.0h4m-2-2v4M584.3 262.2h4m-2-2v4M584.4 264.6h4m-2-2v4M584.1 264.9h4m-2-2v4M584.3 273.3h4m-2-2v4M584.5 263.0h4m-2-2v4M584.8 265.2h4m-2-2v4M584.5 267.4h4m-2-2v4M584.3 263.1h4m-2-2v4M585.1 278.1h4m-2-2v4M585.2 277.9h4m-2-2v4M585.1 276.5h4m-2-2v4M585.6 271.6h4m-2-2v4M585.1 272.2h4m-2-2v4M585.1 267.0h4m-2-2v4M585.9 264.4h4m-2-2v4M585.4 270.7h4m-2-2v4M585.4 273.3h4m-2-2v4M585.9 272.1h4m-2-2v4M585.3 265.6h4m-2-2v4M586.3 276.0h4m-2-2v4M586.0 277.4h4m-2-2v4M586.6 278.2h4m-2-2v4M586.7 262.9h4m-2-2v4M586.0 267.1h4m-2-2v4M586.1 267.5h4m-2-2v4M586.9 264.1h4m-2-2v4M586.9 269.8h4m-2-2v4M586.6 270.3h4m-2-2v4M586.8 267.6h4m-2-2v4M586.0 266.2h4m-2-2v4M587.9 267.0h4m-2-2v4M588.0 265.4h4m-2-2v4M587.7 262.6h4m-2-2v4M587.5 262.4h4m-2-2v4M587.0 269.5h4m-2-2v4M587.3 259.8h4m-2-2v4M587.4 261.2h4m-2-2v4M587.8 267.3h4m-2-2v4M588.8 259.8h4m-2-2v4M588.1 278.9h4m-2-2v4M588.8 278.4h4m-2-2v4M588.2 275.3h4m-2-2v4M588.6 270.5h4m-2-2v4M588.7 269.1h4m-2-2v4M588.5 262.2h4m-2-2v4M588.7 265.4h4m-2-2v4M588.0 271.4h4m-2-2v4M588.9 270.0h4m-2-2v4M588.3 274.0h4m-2-2v4M589.8 280.1h4m-2-2v4M590.0 279.7h4m-2-2v4M589.2 280.0h4m-2-2v4M589.3 267.7h4m-2-2v4M589.8 268.9h4m-2-2v4M589.4 271.0h4m-2-2v4M589.9 265.2h4m-2-2v4M589.2 262.4h4m-2-2v4M589.5 263.2h4m-2-2v4M589.7 262.8h4m-2-2v4M590.2 261.9h4m-2-2v4M590.7 270.1h4m-2-2v4M590.6 263.4h4m-2-2v4M590.8 272.3h4m-2-2v4M590.3 273.4h4m-2-2v4M590.3 270.9h4m-2-2v4M590.2 272.6h4m-2-2v4M590.2 264.9h4m-2-2v4M591.7 260.4h4m-2-2v4M591.0 259.0h4m-2-2v4M591.3 279.2h4m-2-2v4M591.7 271.5h4m-2-2v4M591.9 275.0h4m-2-2v4M591.3 276.7h4m-2-2v4M591.8 268.2h4m-2-2v4M591.4 279.9h4m-2-2v4M591.6 276.2h4m-2-2v4M591.1 261.8h4m-2-2v4M592.9 271.9h4m-2-2v4M592.7 262.3h4m-2-2v4M592.3 270.7h4m-2-2v4M592.1 270.3h4m-2-2v4M592.0 278.6h4m-2-2v4M592.6 274.4h4m-2-2v4M592.4 275.4h4m-2-2v4M592.1 281.6h4m-2-2v4M592.2 279.2h4m-2-2v4M592.8 280.9h4m-2-2v4M593.4 273.0h4m-2-2v4M593.4 273.6h4m-2-2v4M593.4 272.0h4m-2-2v4M593.5 268.9h4m-2-2v4M593.1 277.9h4m-2-2v4M593.5 275.8h4m-2-2v4M593.4 265.8h4m-2-2v4M593.1 267.1h4m-2-2v4M593.4 282.2h4m-2-2v4M593.6 283.8h4m-2-2v4M594.6 286.5h4m-2-2v4M594.6 285.6h4m-2-2v4M594.5 272.2h4m-2-2v4M594.0 281.9h4m-2-2v4M594.8 269.1h4m-2-2v4M594.2 274.9h4m-2-2v4M594.7 266.2h4m-2-2v4M594.6 279.8h4m-2-2v4M595.0 280.3h4m-2-2v4M594.1 273.1h4m-2-2v4M594.7 274.7h4m-2-2v4M595.9 272.3h4m-2-2v4M595.5 268.7h4m-2-2v4M595.1 284.9h4m-2-2v4M595.7 279.9h4m-2-2v4M595.9 275.6h4m-2-2v4M595.5 270.0h4m-2-2v4M596.0 276.3h4m-2-2v4M595.0 272.7h4m-2-2v4M595.7 283.2h4m-2-2v4M595.0 279.9h4m-2-2v4M596.6 260.8h4m-2-2v4M596.8 262.7h4m-2-2v4M596.0 288.9h4m-2-2v4M596.5 275.7h4m-2-2v4M596.7 279.7h4m-2-2v4M596.7 264.8h4m-2-2v4M596.4 279.2h4m-2-2v4M596.8 276.1h4m-2-2v4M596.1 278.6h4m-2-2v4M596.2 278.8h4m-2-2v4M596.2 274.3h4m-2-2v4M596.9 270.6h4m-2-2v4M596.7 280.1h4m-2-2v4M597.4 262.7h4m-2-2v4M597.4 262.3h4m-2-2v4M597.5 274.4h4m-2-2v4M597.3 266.0h4m-2-2v4M597.3 282.4h4m-2-2v4M597.1 266.2h4m-2-2v4M597.4 265.7h4m-2-2v4M597.5 272.3h4m-2-2v4M597.0 281.7h4m-2-2v4M597.1 268.2h4m-2-2v4M597.2 272.8h4m-2-2v4M597.6 279.4h4m-2-2v4M598.0 283.3h4m-2-2v4M598.0 263.1h4m-2-2v4M598.5 261.6h4m-2-2v4M598.7 265.1h4m-2-2v4M599.0 288.9h4m-2-2v4M598.4 291.5h4m-2-2v4M598.7 292.7h4m-2-2v4M598.5 269.1h4m-2-2v4M598.5 267.4h4m-2-2v4M598.5 284.6h4m-2-2v4M598.6 275.6h4m-2-2v4M598.5 284.3h4m-2-2v4M598.7 277.7h4m-2-2v4M598.3 272.2h4m-2-2v4M598.9 278.2h4m-2-2v4M598.6 273.3h4m-2-2v4M598.8 273.8h4m-2-2v4M599.4 279.0h4m-2-2v4M599.0 276.6h4m-2-2v4M599.5 273.4h4m-2-2v4M599.4 272.8h4m-2-2v4M599.9 283.8h4m-2-2v4M599.7 284.9h4m-2-2v4M599.6 275.5h4m-2-2v4M599.5 280.1h4m-2-2v4M600.0 285.9h4m-2-2v4M600.7 264.0h4m-2-2v4M600.9 265.9h4m-2-2v4M600.4 265.5h4m-2-2v4M600.7 282.0h4m-2-2v4M600.8 283.6h4m-2-2v4M600.1 272.6h4m-2-2v4M600.1 285.1h4m-2-2v4M600.6 286.8h4m-2-2v4M600.1 272.6h4m-2-2v4M600.7 276.6h4m-2-2v4M600.0 281.0h4m-2-2v4M600.1 288.1h4m-2-2v4M600.4 268.6h4m-2-2v4M601.6 274.4h4m-2-2v4M601.5 273.0h4m-2-2v4M601.9 276.2h4m-2-2v4M601.4 283.2h4m-2-2v4M601.3 278.0h4m-2-2v4M601.4 282.3h4m-2-2v4M601.8 276.9h4m-2-2v4M601.3 269.6h4m-2-2v4M601.2 285.2h4m-2-2v4M602.9 290.7h4m-2-2v4M602.4 290.6h4m-2-2v4M602.3 281.5h4m-2-2v4M602.6 276.8h4m-2-2v4M602.3 278.0h4m-2-2v4M602.3 280.1h4m-2-2v4M602.7 278.7h4m-2-2v4M602.7 286.5h4m-2-2v4M602.6 278.2h4m-2-2v4M602.3 273.4h4m-2-2v4M603.3 288.2h4m-2-2v4M603.9 290.9h4m-2-2v4M603.5 282.5h4m-2-2v4M603.9 277.3h4m-2-2v4M603.5 279.2h4m-2-2v4M603.1 280.3h4m-2-2v4M603.8 282.2h4m-2-2v4M603.9 280.5h4m-2-2v4M603.9 279.8h4m-2-2v4M603.6 272.2h4m-2-2v4M604.3 274.6h4m-2-2v4M604.6 280.8h4m-2-2v4M604.3 277.6h4m-2-2v4M604.4 278.1h4m-2-2v4M604.1 273.9h4m-2-2v4M604.5 281.5h4m-2-2v4M604.1 287.1h4m-2-2v4M605.1 269.8h4m-2-2v4M606.0 273.5h4m-2-2v4M605.7 281.6h4m-2-2v4M605.3 276.7h4m-2-2v4M605.8 286.0h4m-2-2v4M605.6 280.9h4m-2-2v4M605.6 284.2h4m-2-2v4M605.8 278.8h4m-2-2v4M605.6 280.2h4m-2-2v4M606.2 270.3h4m-2-2v4M606.5 268.5h4m-2-2v4M606.2 266.2h4m-2-2v4M606.3 294.7h4m-2-2v4M606.7 292.7h4m-2-2v4M606.9 294.8h4m-2-2v4M606.7 281.3h4m-2-2v4M606.3 278.8h4m-2-2v4M606.4 282.5h4m-2-2v4M606.8 279.9h4m-2-2v4M606.2 284.3h4m-2-2v4M606.9 282.8h4m-2-2v4M606.3 287.9h4m-2-2v4M606.2 282.5h4m-2-2v4M606.0 281.4h4m-2-2v4M607.3 278.1h4m-2-2v4M607.4 276.2h4m-2-2v4M608.0 290.7h4m-2-2v4M607.3 277.4h4m-2-2v4M607.9 291.1h4m-2-2v4M607.4 287.9h4m-2-2v4M607.8 285.6h4m-2-2v4M607.3 275.0h4m-2-2v4M608.2 272.7h4m-2-2v4M608.4 282.0h4m-2-2v4M608.1 280.5h4m-2-2v4M608.4 289.6h4m-2-2v4M608.8 281.5h4m-2-2v4M608.3 279.0h4m-2-2v4M608.8 282.8h4m-2-2v4M608.9 275.8h4m-2-2v4M608.4 273.8h4m-2-2v4M608.8 279.6h4m-2-2v4M609.8 280.5h4m-2-2v4M609.6 290.9h4m-2-2v4M609.5 285.0h4m-2-2v4M609.1 292.1h4m-2-2v4M609.6 291.3h4m-2-2v4M610.0 275.9h4m-2-2v4M609.7 288.3h4m-2-2v4M609.1 277.1h4m-2-2v4M609.6 287.3h4m-2-2v4M610.3 271.2h4m-2-2v4M610.2 270.2h4m-2-2v4M610.2 299.5h4m-2-2v4M610.0 300.7h4m-2-2v4M610.0 299.2h4m-2-2v4M610.9 282.3h4m-2-2v4M610.2 280.2h4m-2-2v4M610.0 293.5h4m-2-2v4M610.1 289.9h4m-2-2v4M610.5 274.2h4m-2-2v4M610.2 287.5h4m-2-2v4M610.2 280.1h4m-2-2v4M610.5 279.1h4m-2-2v4M610.2 284.1h4m-2-2v4M610.7 283.8h4m-2-2v4M611.4 268.6h4m-2-2v4M612.0 269.0h4m-2-2v4M611.3 268.8h4m-2-2v4M611.6 276.3h4m-2-2v4M611.5 287.8h4m-2-2v4M611.1 289.7h4m-2-2v4M611.9 290.8h4m-2-2v4M611.5 284.5h4m-2-2v4M611.6 277.3h4m-2-2v4M611.4 295.0h4m-2-2v4M611.8 278.0h4m-2-2v4M611.5 273.3h4m-2-2v4M611.3 289.6h4m-2-2v4M611.7 285.5h4m-2-2v4M611.2 294.6h4m-2-2v4M613.0 290.4h4m-2-2v4M612.1 293.2h4m-2-2v4M612.7 274.8h4m-2-2v4M612.1 270.3h4m-2-2v4M612.7 292.2h4m-2-2v4M612.1 270.9h4m-2-2v4M612.8 279.8h4m-2-2v4M612.4 283.0h4m-2-2v4M612.7 290.9h4m-2-2v4M612.8 287.9h4m-2-2v4M612.2 298.4h4m-2-2v4M612.3 288.7h4m-2-2v4M612.5 283.6h4m-2-2v4M614.0 288.2h4m-2-2v4M613.1 280.1h4m-2-2v4M613.2 296.4h4m-2-2v4M613.0 294.6h4m-2-2v4M613.2 280.0h4m-2-2v4M613.9 280.7h4m-2-2v4M613.9 297.4h4m-2-2v4M613.8 271.0h4m-2-2v4M613.9 279.2h4m-2-2v4M613.4 286.4h4m-2-2v4M613.1 284.8h4m-2-2v4M614.0 281.1h4m-2-2v4M613.1 271.7h4m-2-2v4M613.7 284.4h4m-2-2v4M614.7 302.1h4m-2-2v4M614.1 299.1h4m-2-2v4M614.2 289.6h4m-2-2v4M614.1 276.8h4m-2-2v4M614.4 293.2h4m-2-2v4M614.5 289.3h4m-2-2v4M615.0 269.3h4m-2-2v4M614.8 288.2h4m-2-2v4M614.1 286.9h4m-2-2v4M614.1 284.4h4m-2-2v4M614.7 279.6h4m-2-2v4M614.9 292.4h4m-2-2v4M614.4 298.8h4m-2-2v4M614.6 274.0h4m-2-2v4M614.4 292.9h4m-2-2v4M614.4 270.9h4m-2-2v4M615.7 275.5h4m-2-2v4M615.0 280.3h4m-2-2v4M615.4 277.1h4m-2-2v4M615.6 288.7h4m-2-2v4M615.2 290.9h4m-2-2v4M615.0 289.9h4m-2-2v4M615.2 289.5h4m-2-2v4M615.9 277.0h4m-2-2v4M615.7 277.5h4m-2-2v4M615.3 295.8h4m-2-2v4M615.5 267.9h4m-2-2v4M615.9 271.1h4m-2-2v4M615.1 279.7h4m-2-2v4M616.0 283.1h4m-2-2v4M616.8 265.4h4m-2-2v4M616.4 301.9h4m-2-2v4M616.9 301.2h4m-2-2v4M616.2 291.1h4m-2-2v4M616.7 271.8h4m-2-2v4M616.2 280.8h4m-2-2v4M616.1 290.6h4m-2-2v4M616.8 293.0h4m-2-2v4M616.7 268.8h4m-2-2v4M617.0 274.8h4m-2-2v4M616.2 290.4h4m-2-2v4M616.3 294.0h4m-2-2v4M616.6 287.0h4m-2-2v4M616.0 287.9h4m-2-2v4M616.5 270.1h4m-2-2v4M616.9 271.2h4m-2-2v4M617.0 278.2h4m-2-2v4M616.5 290.6h4m-2-2v4M617.0 262.9h4m-2-2v4M617.0 263.8h4m-2-2v4M617.4 281.7h4m-2-2v4M618.0 277.8h4m-2-2v4M617.9 279.4h4m-2-2v4M617.8 287.6h4m-2-2v4M617.7 285.5h4m-2-2v4M617.7 292.5h4m-2-2v4M617.5 278.4h4m-2-2v4M617.7 278.8h4m-2-2v4M617.1 287.3h4m-2-2v4M617.6 289.2h4m-2-2v4M617.3 270.4h4m-2-2v4M617.9 275.0h4m-2-2v4M617.4 271.8h4m-2-2v4M617.7 270.4h4m-2-2v4M617.9 281.4h4m-2-2v4M618.1 272.6h4m-2-2v4M619.0 284.6h4m-2-2v4M618.0 264.0h4m-2-2v4M618.6 296.8h4m-2-2v4M618.7 282.8h4m-2-2v4M618.9 291.2h4m-2-2v4M618.5 293.3h4m-2-2v4M618.9 282.0h4m-2-2v4M618.4 295.4h4m-2-2v4M618.7 277.0h4m-2-2v4M618.5 287.1h4m-2-2v4M618.6 271.2h4m-2-2v4M618.7 266.3h4m-2-2v4M618.3 282.2h4m-2-2v4M619.0 284.8h4m-2-2v4M619.0 298.7h4m-2-2v4M619.5 301.1h4m-2-2v4M619.9 300.9h4m-2-2v4M619.1 280.7h4m-2-2v4M619.8 283.2h4m-2-2v4M619.8 292.2h4m-2-2v4M619.9 277.1h4m-2-2v4M619.9 274.2h4m-2-2v4M619.4 278.6h4m-2-2v4M619.5 281.3h4m-2-2v4M619.8 271.1h4m-2-2v4M619.7 264.3h4m-2-2v4M619.5 294.9h4m-2-2v4M619.7 279.7h4m-2-2v4M619.7 278.7h4m-2-2v4M619.4 290.6h4m-2-2v4M619.1 284.7h4m-2-2v4M620.1 280.3h4m-2-2v4M620.9 277.5h4m-2-2v4M620.5 291.8h4m-2-2v4M620.5 291.6h4m-2-2v4M620.6 277.3h4m-2-2v4M621.0 287.8h4m-2-2v4M620.5 284.2h4m-2-2v4M620.5 282.9h4m-2-2v4M620.5 271.9h4m-2-2v4M620.7 285.1h4m-2-2v4M620.4 281.4h4m-2-2v4M621.6 269.9h4m-2-2v4M621.6 286.9h4m-2-2v4M621.1 288.7h4m-2-2v4M621.7 286.6h4m-2-2v4M621.3 283.4h4m-2-2v4M621.5 277.9h4m-2-2v4M621.2 277.4h4m-2-2v4M621.5 287.2h4m-2-2v4M621.2 281.6h4m-2-2v4M621.8 284.6h4m-2-2v4M622.4 277.0h4m-2-2v4M622.9 286.5h4m-2-2v4M622.4 280.8h4m-2-2v4M622.7 283.8h4m-2-2v4M622.7 274.3h4m-2-2v4M622.0 288.2h4m-2-2v4M622.3 280.9h4m-2-2v4M622.7 274.1h4m-2-2v4M622.3 278.1h4m-2-2v4M622.1 282.9h4m-2-2v4M623.3 276.4h4m-2-2v4M623.9 288.7h4m-2-2v4M623.4 277.4h4m-2-2v4M623.1 290.8h4m-2-2v4M623.7 290.7h4m-2-2v4M623.0 278.1h4m-2-2v4M623.6 281.7h4m-2-2v4M623.2 279.9h4m-2-2v4M623.6 283.4h4m-2-2v4M624.1 280.5h4m-2-2v4M624.9 283.7h4m-2-2v4M625.0 284.0h4m-2-2v4M624.3 278.6h4m-2-2v4M624.3 280.2h4m-2-2v4M624.0 286.4h4m-2-2v4M624.9 278.6h4m-2-2v4M624.6 279.5h4m-2-2v4M625.5 262.4h4m-2-2v4M625.8 263.6h4m-2-2v4M625.8 260.6h4m-2-2v4M625.7 293.7h4m-2-2v4M625.1 294.2h4m-2-2v4M625.0 287.4h4m-2-2v4M625.6 274.6h4m-2-2v4M625.0 278.2h4m-2-2v4M625.2 275.6h4m-2-2v4M625.2 292.2h4m-2-2v4M625.9 293.0h4m-2-2v4M625.5 278.7h4m-2-2v4M625.9 286.5h4m-2-2v4M625.8 273.9h4m-2-2v4M625.9 282.8h4m-2-2v4M625.2 276.0h4m-2-2v4M625.6 271.7h4m-2-2v4M625.8 282.5h4m-2-2v4M626.6 279.6h4m-2-2v4M626.1 282.2h4m-2-2v4M626.6 281.1h4m-2-2v4M626.8 278.2h4m-2-2v4M626.2 278.9h4m-2-2v4M626.9 280.0h4m-2-2v4M626.2 289.9h4m-2-2v4M626.1 268.8h4m-2-2v4M626.2 280.9h4m-2-2v4M626.1 292.4h4m-2-2v4M626.4 291.9h4m-2-2v4M626.4 268.5h4m-2-2v4M627.4 264.9h4m-2-2v4M627.1 263.6h4m-2-2v4M627.9 294.9h4m-2-2v4M628.0 281.9h4m-2-2v4M627.6 280.2h4m-2-2v4M627.9 288.5h4m-2-2v4M627.1 280.2h4m-2-2v4M627.8 286.4h4m-2-2v4M627.6 269.1h4m-2-2v4M627.9 275.3h4m-2-2v4M627.1 277.6h4m-2-2v4M627.5 271.2h4m-2-2v4M627.9 276.6h4m-2-2v4M627.9 277.0h4m-2-2v4M627.3 278.7h4m-2-2v4M627.1 277.4h4m-2-2v4M628.9 278.0h4m-2-2v4M629.0 290.3h4m-2-2v4M628.1 290.9h4m-2-2v4M628.9 286.2h4m-2-2v4M628.7 287.3h4m-2-2v4M629.0 276.0h4m-2-2v4M628.0 286.5h4m-2-2v4M628.4 277.9h4m-2-2v4M628.1 288.0h4m-2-2v4M628.7 278.0h4m-2-2v4M628.6 285.9h4m-2-2v4M628.3 268.1h4m-2-2v4M628.6 277.2h4m-2-2v4M629.7 265.7h4m-2-2v4M629.4 265.8h4m-2-2v4M629.4 285.4h4m-2-2v4M629.2 294.7h4m-2-2v4M629.2 273.1h4m-2-2v4M629.0 282.9h4m-2-2v4M629.7 269.8h4m-2-2v4M629.4 283.9h4m-2-2v4M629.7 282.6h4m-2-2v4M629.8 292.2h4m-2-2v4M629.9 292.7h4m-2-2v4M629.9 277.7h4m-2-2v4M629.3 273.1h4m-2-2v4M630.0 293.7h4m-2-2v4M629.9 278.1h4m-2-2v4M629.2 287.6h4m-2-2v4M629.6 268.6h4m-2-2v4M630.6 267.5h4m-2-2v4M630.5 267.5h4m-2-2v4M630.1 268.6h4m-2-2v4M630.5 287.4h4m-2-2v4M630.1 291.4h4m-2-2v4M630.6 295.2h4m-2-2v4M630.1 296.7h4m-2-2v4M630.2 287.3h4m-2-2v4M630.2 280.3h4m-2-2v4M630.7 278.3h4m-2-2v4M630.2 295.9h4m-2-2v4M630.8 295.4h4m-2-2v4M630.5 292.1h4m-2-2v4M630.2 277.6h4m-2-2v4M630.3 289.3h4m-2-2v4M630.8 296.6h4m-2-2v4M630.5 277.7h4m-2-2v4M630.7 301.3h4m-2-2v4M630.8 286.5h4m-2-2v4M631.8 270.5h4m-2-2v4M631.1 272.2h4m-2-2v4M631.8 280.7h4m-2-2v4M631.2 307.9h4m-2-2v4M631.9 279.6h4m-2-2v4M631.7 310.0h4m-2-2v4M631.8 281.7h4m-2-2v4M631.5 276.3h4m-2-2v4M631.3 307.0h4m-2-2v4M631.5 281.0h4m-2-2v4M631.9 291.0h4m-2-2v4M631.4 296.0h4m-2-2v4M631.9 280.4h4m-2-2v4M631.5 297.3h4m-2-2v4M631.6 302.8h4m-2-2v4M631.3 301.6h4m-2-2v4M631.6 294.4h4m-2-2v4M631.2 291.6h4m-2-2v4M632.6 271.6h4m-2-2v4M632.2 272.7h4m-2-2v4M632.1 284.1h4m-2-2v4M632.9 293.8h4m-2-2v4M632.2 306.4h4m-2-2v4M633.0 294.9h4m-2-2v4M632.9 296.4h4m-2-2v4M632.8 300.9h4m-2-2v4M632.3 298.9h4m-2-2v4M632.9 301.9h4m-2-2v4M632.7 303.4h4m-2-2v4M632.5 280.9h4m-2-2v4M632.8 299.0h4m-2-2v4M632.8 279.1h4m-2-2v4M632.6 290.2h4m-2-2v4M632.2 281.9h4m-2-2v4M632.2 284.8h4m-2-2v4M632.0 276.4h4m-2-2v4M632.3 293.2h4m-2-2v4M632.6 307.0h4m-2-2v4M633.6 310.1h4m-2-2v4M633.0 292.3h4m-2-2v4M633.1 300.4h4m-2-2v4M633.4 301.9h4m-2-2v4M633.6 290.3h4m-2-2v4M633.5 284.6h4m-2-2v4M633.6 304.6h4m-2-2v4M633.6 287.7h4m-2-2v4M633.4 310.2h4m-2-2v4M633.4 307.8h4m-2-2v4M633.2 285.0h4m-2-2v4M633.6 298.6h4m-2-2v4M633.5 299.6h4m-2-2v4M633.4 286.8h4m-2-2v4M633.5 279.4h4m-2-2v4M633.2 283.6h4m-2-2v4M633.8 291.9h4m-2-2v4M633.4 311.7h4m-2-2v4M634.7 307.9h4m-2-2v4M634.9 297.5h4m-2-2v4M634.9 287.1h4m-2-2v4M634.8 290.5h4m-2-2v4M634.8 277.6h4m-2-2v4M634.7 283.5h4m-2-2v4M634.8 296.2h4m-2-2v4M634.1 273.0h4m-2-2v4M634.8 304.6h4m-2-2v4M634.0 293.1h4m-2-2v4M634.5 286.5h4m-2-2v4M634.4 286.0h4m-2-2v4M634.9 279.1h4m-2-2v4M634.3 270.6h4m-2-2v4M634.9 287.0h4m-2-2v4M634.7 284.6h4m-2-2v4M634.2 286.8h4m-2-2v4M634.5 291.2h4m-2-2v4M635.1 306.7h4m-2-2v4M635.2 303.8h4m-2-2v4M636.0 304.5h4m-2-2v4M635.0 280.4h4m-2-2v4M635.0 277.6h4m-2-2v4M635.7 281.9h4m-2-2v4M635.2 288.3h4m-2-2v4M635.6 285.1h4m-2-2v4M635.5 300.8h4m-2-2v4M635.8 265.6h4m-2-2v4M635.5 294.1h4m-2-2v4M635.4 275.9h4m-2-2v4M635.8 281.5h4m-2-2v4M635.2 294.8h4m-2-2v4M636.0 290.9h4m-2-2v4M635.5 283.9h4m-2-2v4M635.8 268.3h4m-2-2v4M635.3 279.9h4m-2-2v4M635.5 284.0h4m-2-2v4M635.4 297.4h4m-2-2v4M636.0 259.8h4m-2-2v4M636.2 260.8h4m-2-2v4M636.5 268.1h4m-2-2v4M636.8 277.5h4m-2-2v4M637.0 274.0h4m-2-2v4M636.2 290.1h4m-2-2v4M636.4 276.9h4m-2-2v4M636.4 289.5h4m-2-2v4M636.8 283.2h4m-2-2v4M636.8 286.4h4m-2-2v4M636.6 265.0h4m-2-2v4M636.7 297.2h4m-2-2v4M636.0 274.8h4m-2-2v4M636.3 276.0h4m-2-2v4M636.8 300.1h4m-2-2v4M636.1 270.1h4m-2-2v4M636.1 273.0h4m-2-2v4M636.8 287.9h4m-2-2v4M636.8 295.0h4m-2-2v4M636.4 301.6h4m-2-2v4M637.3 281.9h4m-2-2v4M637.8 265.9h4m-2-2v4M637.8 285.7h4m-2-2v4M637.1 283.6h4m-2-2v4M637.6 270.0h4m-2-2v4M637.7 292.9h4m-2-2v4M637.6 290.6h4m-2-2v4M637.5 273.8h4m-2-2v4M637.5 292.3h4m-2-2v4M637.9 278.0h4m-2-2v4M637.2 285.6h4m-2-2v4M637.8 289.5h4m-2-2v4M637.7 272.5h4m-2-2v4M637.8 282.8h4m-2-2v4M637.3 268.9h4m-2-2v4M637.1 279.9h4m-2-2v4M637.9 278.7h4m-2-2v4M637.1 296.4h4m-2-2v4M637.1 278.0h4m-2-2v4M638.2 267.2h4m-2-2v4M638.1 264.0h4m-2-2v4M638.1 264.4h4m-2-2v4M638.4 309.0h4m-2-2v4M638.0 308.5h4m-2-2v4M638.8 281.8h4m-2-2v4M638.4 292.9h4m-2-2v4M638.9 300.8h4m-2-2v4M638.6 269.5h4m-2-2v4M638.7 271.5h4m-2-2v4M638.9 295.8h4m-2-2v4M638.3 294.6h4m-2-2v4M638.0 298.3h4m-2-2v4M638.9 293.4h4m-2-2v4M638.8 305.2h4m-2-2v4M638.3 288.4h4m-2-2v4M638.3 291.2h4m-2-2v4M638.6 290.1h4m-2-2v4M638.1 286.8h4m-2-2v4M639.0 274.5h4m-2-2v4M638.6 288.3h4m-2-2v4M638.7 294.0h4m-2-2v4M638.1 281.4h4m-2-2v4M638.9 279.9h4m-2-2v4M639.6 311.9h4m-2-2v4M639.9 292.5h4m-2-2v4M639.6 285.2h4m-2-2v4M639.4 300.2h4m-2-2v4M639.1 289.6h4m-2-2v4M639.4 274.1h4m-2-2v4M639.4 279.9h4m-2-2v4M639.2 309.1h4m-2-2v4M639.2 287.0h4m-2-2v4M639.2 294.2h4m-2-2v4M639.8 286.5h4m-2-2v4M639.2 282.7h4m-2-2v4M639.5 275.5h4m-2-2v4M639.2 287.7h4m-2-2v4M639.2 275.6h4m-2-2v4M639.1 291.3h4m-2-2v4M639.4 284.5h4m-2-2v4M640.0 308.8h4m-2-2v4M639.7 288.5h4m-2-2v4M639.8 280.3h4m-2-2v4M640.8 270.8h4m-2-2v4M640.2 268.4h4m-2-2v4M640.4 271.0h4m-2-2v4M640.1 297.2h4m-2-2v4M640.6 291.2h4m-2-2v4M640.6 289.0h4m-2-2v4M640.6 296.8h4m-2-2v4M640.2 289.5h4m-2-2v4M640.4 283.8h4m-2-2v4M640.1 286.3h4m-2-2v4M640.0 276.8h4m-2-2v4M640.5 298.2h4m-2-2v4M640.6 281.4h4m-2-2v4M641.0 279.3h4m-2-2v4M640.8 288.7h4m-2-2v4M640.7 297.1h4m-2-2v4M640.5 285.7h4m-2-2v4M640.6 306.5h4m-2-2v4M640.6 307.3h4m-2-2v4M640.8 275.3h4m-2-2v4M640.5 282.6h4m-2-2v4M640.2 302.2h4m-2-2v4M641.2 293.6h4m-2-2v4M641.3 313.2h4m-2-2v4M641.6 300.2h4m-2-2v4M641.7 297.3h4m-2-2v4M641.9 307.2h4m-2-2v4M641.3 284.4h4m-2-2v4M641.9 295.5h4m-2-2v4M641.2 292.4h4m-2-2v4M641.2 285.5h4m-2-2v4M641.0 297.7h4m-2-2v4M641.5 277.8h4m-2-2v4M641.6 276.9h4m-2-2v4M641.7 283.9h4m-2-2v4M642.0 289.4h4m-2-2v4M641.8 299.6h4m-2-2v4M641.4 290.5h4m-2-2v4M641.4 286.8h4m-2-2v4M641.0 291.1h4m-2-2v4M641.3 280.6h4m-2-2v4M642.7 286.6h4m-2-2v4M642.7 271.5h4m-2-2v4M642.2 284.8h4m-2-2v4M642.4 301.8h4m-2-2v4M642.6 296.9h4m-2-2v4M642.3 297.6h4m-2-2v4M642.6 291.6h4m-2-2v4M642.7 306.2h4m-2-2v4M642.4 303.1h4m-2-2v4M642.3 270.8h4m-2-2v4M642.1 284.5h4m-2-2v4M642.7 297.5h4m-2-2v4M642.3 287.5h4m-2-2v4M642.7 290.2h4m-2-2v4M642.8 302.7h4m-2-2v4M642.6 286.7h4m-2-2v4M642.6 301.1h4m-2-2v4M642.1 278.0h4m-2-2v4M642.5 305.9h4m-2-2v4M642.7 292.5h4m-2-2v4M643.4 270.6h4m-2-2v4M643.7 268.0h4m-2-2v4M643.7 267.5h4m-2-2v4M643.6 287.5h4m-2-2v4M643.6 295.7h4m-2-2v4M643.6 297.1h4m-2-2v4M643.5 305.3h4m-2-2v4M643.6 296.3h4m-2-2v4M643.5 278.5h4m-2-2v4M643.1 304.5h4m-2-2v4M643.1 304.6h4m-2-2v4M643.3 283.8h4m-2-2v4M643.4 285.0h4m-2-2v4M643.7 282.5h4m-2-2v4M643.9 292.5h4m-2-2v4M643.4 286.1h4m-2-2v4M643.4 295.6h4m-2-2v4M643.6 308.2h4m-2-2v4M643.5 280.6h4m-2-2v4M643.2 280.2h4m-2-2v4M643.5 295.1h4m-2-2v4M644.2 287.7h4m-2-2v4M644.6 294.0h4m-2-2v4M644.0 283.2h4m-2-2v4M644.6 305.0h4m-2-2v4M644.3 304.0h4m-2-2v4M644.5 303.3h4m-2-2v4M644.2 279.1h4m-2-2v4M644.3 278.4h4m-2-2v4M644.2 289.0h4m-2-2v4M644.2 284.9h4m-2-2v4M644.2 283.6h4m-2-2v4M644.4 285.6h4m-2-2v4M644.1 300.7h4m-2-2v4M644.7 308.8h4m-2-2v4M644.4 299.9h4m-2-2v4M644.5 289.3h4m-2-2v4M644.6 279.4h4m-2-2v4M645.4 283.2h4m-2-2v4M645.6 292.3h4m-2-2v4M645.3 306.7h4m-2-2v4M645.3 274.7h4m-2-2v4M645.4 307.2h4m-2-2v4M645.9 299.6h4m-2-2v4M645.7 296.5h4m-2-2v4M645.8 285.5h4m-2-2v4M645.5 283.3h4m-2-2v4M645.9 280.9h4m-2-2v4M645.4 304.1h4m-2-2v4M645.1 279.8h4m-2-2v4M645.4 293.9h4m-2-2v4M645.8 285.2h4m-2-2v4M645.8 299.6h4m-2-2v4M645.7 274.5h4m-2-2v4M645.6 311.3h4m-2-2v4M646.2 279.2h4m-2-2v4M646.1 279.4h4m-2-2v4M646.1 306.8h4m-2-2v4M646.9 307.3h4m-2-2v4M646.5 282.1h4m-2-2v4M646.0 282.7h4m-2-2v4M646.4 303.5h4m-2-2v4M646.7 293.2h4m-2-2v4M646.1 297.7h4m-2-2v4M646.2 286.4h4m-2-2v4M646.8 295.3h4m-2-2v4M646.7 299.9h4m-2-2v4M646.7 293.2h4m-2-2v4M646.7 292.8h4m-2-2v4M646.5 288.5h4m-2-2v4M647.4 290.6h4m-2-2v4M647.3 285.2h4m-2-2v4M647.4 302.1h4m-2-2v4M647.2 291.4h4m-2-2v4M647.1 296.1h4m-2-2v4M647.8 286.2h4m-2-2v4M647.1 287.6h4m-2-2v4M647.5 302.7h4m-2-2v4M647.7 282.7h4m-2-2v4M647.9 298.6h4m-2-2v4M648.0 294.0h4m-2-2v4M648.1 295.1h4m-2-2v4M648.7 295.0h4m-2-2v4M648.5 297.2h4m-2-2v4M648.5 305.4h4m-2-2v4M648.4 288.6h4m-2-2v4M648.0 294.8h4m-2-2v4M648.7 295.3h4m-2-2v4M648.8 284.7h4m-2-2v4M648.6 297.0h4m-2-2v4M648.4 287.5h4m-2-2v4M648.5 292.8h4m-2-2v4M648.2 281.2h4m-2-2v4M649.1 307.1h4m-2-2v4M649.4 304.0h4m-2-2v4M649.4 285.3h4m-2-2v4M649.6 287.9h4m-2-2v4M649.7 292.5h4m-2-2v4M649.9 303.3h4m-2-2v4M649.2 300.0h4m-2-2v4M649.0 292.0h4m-2-2v4M649.2 286.4h4m-2-2v4M649.5 288.7h4m-2-2v4M649.9 300.7h4m-2-2v4M650.9 277.6h4m-2-2v4M650.3 277.6h4m-2-2v4M650.4 281.3h4m-2-2v4M650.6 310.2h4m-2-2v4M650.8 307.8h4m-2-2v4M650.6 308.6h4m-2-2v4M650.3 303.4h4m-2-2v4M650.6 289.3h4m-2-2v4M650.3 292.2h4m-2-2v4M650.4 293.9h4m-2-2v4M650.2 294.7h4m-2-2v4M651.0 288.1h4m-2-2v4M650.6 287.1h4m-2-2v4M650.5 297.5h4m-2-2v4M650.5 297.2h4m-2-2v4M650.9 306.6h4m-2-2v4M651.0 301.8h4m-2-2v4M651.3 309.3h4m-2-2v4M651.9 287.7h4m-2-2v4M651.5 290.7h4m-2-2v4M651.3 299.7h4m-2-2v4M651.2 291.9h4m-2-2v4M651.5 290.6h4m-2-2v4M651.8 291.8h4m-2-2v4M651.5 283.2h4m-2-2v4M651.3 292.1h4m-2-2v4M651.4 308.1h4m-2-2v4M651.9 289.3h4m-2-2v4M651.7 290.5h4m-2-2v4M651.5 307.4h4m-2-2v4M652.6 293.8h4m-2-2v4M652.7 301.6h4m-2-2v4M652.0 291.5h4m-2-2v4M652.9 290.9h4m-2-2v4M652.8 295.6h4m-2-2v4M652.7 300.5h4m-2-2v4M652.1 295.2h4m-2-2v4M652.5 299.5h4m-2-2v4M652.5 297.5h4m-2-2v4M653.0 293.9h4m-2-2v4M652.8 302.2h4m-2-2v4M652.7 302.9h4m-2-2v4M653.0 292.2h4m-2-2v4M653.4 279.5h4m-2-2v4M654.0 281.3h4m-2-2v4M653.2 301.6h4m-2-2v4M653.4 294.4h4m-2-2v4M653.7 289.2h4m-2-2v4M653.7 288.5h4m-2-2v4M653.8 291.0h4m-2-2v4M653.9 299.4h4m-2-2v4M653.7 283.8h4m-2-2v4M653.6 298.6h4m-2-2v4M653.6 306.5h4m-2-2v4M653.3 292.4h4m-2-2v4M653.5 299.2h4m-2-2v4M654.0 303.8h4m-2-2v4M653.7 299.6h4m-2-2v4M654.6 280.3h4m-2-2v4M654.3 278.0h4m-2-2v4M654.7 281.8h4m-2-2v4M655.0 296.3h4m-2-2v4M654.6 291.8h4m-2-2v4M654.9 302.4h4m-2-2v4M654.1 290.4h4m-2-2v4M654.9 295.5h4m-2-2v4M654.6 308.0h4m-2-2v4M654.3 302.5h4m-2-2v4M654.9 298.3h4m-2-2v4M654.5 309.5h4m-2-2v4M654.2 289.9h4m-2-2v4M654.9 299.4h4m-2-2v4M654.7 289.0h4m-2-2v4M654.8 294.4h4m-2-2v4M654.0 304.3h4m-2-2v4M655.5 278.7h4m-2-2v4M655.7 277.2h4m-2-2v4M655.0 280.6h4m-2-2v4M655.4 300.6h4m-2-2v4M655.7 300.4h4m-2-2v4M655.1 291.5h4m-2-2v4M655.3 298.8h4m-2-2v4M655.0 304.0h4m-2-2v4M655.7 294.4h4m-2-2v4M655.4 291.1h4m-2-2v4M655.9 301.2h4m-2-2v4M655.3 305.2h4m-2-2v4M655.4 296.2h4m-2-2v4M656.0 307.2h4m-2-2v4M655.1 301.7h4m-2-2v4M655.8 289.5h4m-2-2v4M655.4 309.6h4m-2-2v4M655.7 292.6h4m-2-2v4M655.4 292.7h4m-2-2v4M656.4 300.5h4m-2-2v4M656.5 298.3h4m-2-2v4M656.4 286.3h4m-2-2v4M656.7 307.5h4m-2-2v4M656.3 301.2h4m-2-2v4M656.9 299.4h4m-2-2v4M657.0 296.3h4m-2-2v4M656.6 301.3h4m-2-2v4M656.9 311.5h4m-2-2v4M656.7 283.3h4m-2-2v4M656.4 316.0h4m-2-2v4M656.6 285.7h4m-2-2v4M656.3 299.5h4m-2-2v4M656.4 306.5h4m-2-2v4M656.1 292.6h4m-2-2v4M656.9 301.9h4m-2-2v4M657.6 290.1h4m-2-2v4M657.9 307.4h4m-2-2v4M657.1 315.8h4m-2-2v4M657.1 296.1h4m-2-2v4M657.5 308.8h4m-2-2v4M657.5 309.8h4m-2-2v4M657.1 296.8h4m-2-2v4M657.7 311.7h4m-2-2v4M657.5 293.3h4m-2-2v4M657.3 314.3h4m-2-2v4M657.2 301.2h4m-2-2v4M657.7 287.3h4m-2-2v4M657.4 298.3h4m-2-2v4M658.0 306.4h4m-2-2v4M657.2 290.4h4m-2-2v4M657.3 313.7h4m-2-2v4M657.6 288.3h4m-2-2v4M658.7 298.2h4m-2-2v4M658.2 313.2h4m-2-2v4M658.7 301.3h4m-2-2v4M658.3 295.3h4m-2-2v4M658.1 304.0h4m-2-2v4M658.6 305.6h4m-2-2v4M658.8 301.4h4m-2-2v4M659.0 304.8h4m-2-2v4M658.6 327.4h4m-2-2v4M658.1 287.1h4m-2-2v4M658.3 295.6h4m-2-2v4M658.3 320.4h4m-2-2v4M658.8 300.3h4m-2-2v4M658.1 305.9h4m-2-2v4M658.2 292.0h4m-2-2v4M658.5 296.9h4m-2-2v4M658.6 301.0h4m-2-2v4M658.2 325.0h4m-2-2v4M658.2 293.0h4m-2-2v4M658.9 322.7h4m-2-2v4M659.4 282.1h4m-2-2v4M659.9 284.8h4m-2-2v4M659.0 280.6h4m-2-2v4M659.9 305.3h4m-2-2v4M659.9 317.6h4m-2-2v4M659.7 310.2h4m-2-2v4M659.4 307.1h4m-2-2v4M659.8 319.6h4m-2-2v4M659.8 309.1h4m-2-2v4M659.7 295.3h4m-2-2v4M659.4 308.5h4m-2-2v4M659.1 310.3h4m-2-2v4M659.0 311.0h4m-2-2v4M659.5 299.8h4m-2-2v4M660.0 306.6h4m-2-2v4M659.8 309.3h4m-2-2v4M659.5 293.7h4m-2-2v4M660.0 312.1h4m-2-2v4M659.8 328.9h4m-2-2v4M659.2 331.5h4m-2-2v4M659.4 285.7h4m-2-2v4M659.2 287.8h4m-2-2v4M659.9 289.6h4m-2-2v4M659.8 310.5h4m-2-2v4M660.5 337.2h4m-2-2v4M660.6 335.9h4m-2-2v4M660.4 329.5h4m-2-2v4M660.5 305.3h4m-2-2v4M660.7 307.5h4m-2-2v4M661.0 301.2h4m-2-2v4M660.5 318.7h4m-2-2v4M660.9 323.7h4m-2-2v4M660.6 334.8h4m-2-2v4M660.5 304.4h4m-2-2v4M660.5 312.5h4m-2-2v4M660.9 299.9h4m-2-2v4M660.7 324.8h4m-2-2v4M660.5 302.0h4m-2-2v4M660.6 308.1h4m-2-2v4M661.0 320.3h4m-2-2v4M660.3 289.7h4m-2-2v4M660.9 328.4h4m-2-2v4M660.2 306.6h4m-2-2v4M660.6 308.4h4m-2-2v4M660.7 325.0h4m-2-2v4M661.0 332.5h4m-2-2v4M660.3 306.2h4m-2-2v4M660.4 306.2h4m-2-2v4M661.8 288.4h4m-2-2v4M661.9 287.1h4m-2-2v4M661.9 287.6h4m-2-2v4M661.2 321.9h4m-2-2v4M661.2 340.1h4m-2-2v4M661.0 304.3h4m-2-2v4M661.3 320.8h4m-2-2v4M662.0 318.1h4m-2-2v4M661.4 311.2h4m-2-2v4M662.0 331.2h4m-2-2v4M661.5 303.7h4m-2-2v4M661.0 305.1h4m-2-2v4M661.4 320.3h4m-2-2v4M661.9 309.3h4m-2-2v4M662.0 301.7h4m-2-2v4M662.0 334.1h4m-2-2v4M661.3 334.6h4m-2-2v4M661.9 309.5h4m-2-2v4M661.8 316.1h4m-2-2v4M661.4 325.5h4m-2-2v4M661.5 309.2h4m-2-2v4M661.4 292.5h4m-2-2v4M662.0 310.0h4m-2-2v4M661.2 320.8h4m-2-2v4M661.6 312.0h4m-2-2v4M662.5 292.5h4m-2-2v4M662.6 345.0h4m-2-2v4M662.8 348.3h4m-2-2v4M662.6 346.6h4m-2-2v4M662.3 304.7h4m-2-2v4M663.0 313.9h4m-2-2v4M662.5 335.2h4m-2-2v4M662.6 333.3h4m-2-2v4M662.9 333.3h4m-2-2v4M662.3 315.0h4m-2-2v4M662.4 310.2h4m-2-2v4M662.6 343.1h4m-2-2v4M663.0 333.1h4m-2-2v4M662.5 301.5h4m-2-2v4M662.3 308.0h4m-2-2v4M662.5 300.7h4m-2-2v4M662.5 310.7h4m-2-2v4M662.1 316.2h4m-2-2v4M662.1 331.9h4m-2-2v4M662.9 324.5h4m-2-2v4M662.4 310.5h4m-2-2v4M662.2 321.4h4m-2-2v4M662.9 303.4h4m-2-2v4M662.9 311.1h4m-2-2v4M662.5 339.6h4m-2-2v4M662.9 329.1h4m-2-2v4M663.8 352.8h4m-2-2v4M663.2 350.8h4m-2-2v4M663.5 354.3h4m-2-2v4M663.8 335.5h4m-2-2v4M663.2 304.0h4m-2-2v4M663.5 310.2h4m-2-2v4M663.6 318.8h4m-2-2v4M663.2 329.2h4m-2-2v4M663.4 347.5h4m-2-2v4M663.6 327.7h4m-2-2v4M663.4 308.5h4m-2-2v4M663.4 341.2h4m-2-2v4M663.2 335.5h4m-2-2v4M663.8 327.5h4m-2-2v4M663.7 316.5h4m-2-2v4M663.1 327.7h4m-2-2v4M663.7 301.0h4m-2-2v4M663.1 318.8h4m-2-2v4M663.7 343.0h4m-2-2v4M663.9 308.4h4m-2-2v4M663.2 341.9h4m-2-2v4M663.8 335.9h4m-2-2v4M663.8 333.9h4m-2-2v4M663.0 344.2h4m-2-2v4M663.2 329.9h4m-2-2v4M663.0 349.1h4m-2-2v4M663.2 330.0h4m-2-2v4M664.8 296.0h4m-2-2v4M664.2 295.4h4m-2-2v4M664.4 324.6h4m-2-2v4M664.7 311.7h4m-2-2v4M664.6 304.9h4m-2-2v4M664.7 314.7h4m-2-2v4M664.5 327.5h4m-2-2v4M664.1 318.9h4m-2-2v4M664.4 309.6h4m-2-2v4M664.7 337.9h4m-2-2v4M664.3 312.2h4m-2-2v4M664.9 306.5h4m-2-2v4M665.0 340.3h4m-2-2v4M664.6 310.2h4m-2-2v4M664.7 307.5h4m-2-2v4M664.5 330.6h4m-2-2v4M664.4 339.6h4m-2-2v4M664.6 338.7h4m-2-2v4M664.4 323.2h4m-2-2v4M664.2 339.0h4m-2-2v4M664.2 348.4h4m-2-2v4M665.0 313.4h4m-2-2v4M664.5 312.2h4m-2-2v4M664.4 348.6h4m-2-2v4M664.2 347.8h4m-2-2v4M664.8 320.7h4m-2-2v4M665.3 297.4h4m-2-2v4M665.1 294.1h4m-2-2v4M665.3 296.9h4m-2-2v4M665.3 327.2h4m-2-2v4M665.1 309.3h4m-2-2v4M665.5 301.9h4m-2-2v4M665.1 334.5h4m-2-2v4M665.6 326.5h4m-2-2v4M665.4 320.3h4m-2-2v4M665.3 342.4h4m-2-2v4M665.6 331.6h4m-2-2v4M665.2 324.8h4m-2-2v4M666.0 310.2h4m-2-2v4M665.3 326.4h4m-2-2v4M666.0 325.8h4m-2-2v4M665.6 310.0h4m-2-2v4M665.8 304.7h4m-2-2v4M665.0 318.3h4m-2-2v4M665.5 329.9h4m-2-2v4M665.3 315.8h4m-2-2v4M665.1 322.3h4m-2-2v4M665.9 328.8h4m-2-2v4M665.7 312.5h4m-2-2v4M665.4 317.3h4m-2-2v4M665.2 327.1h4m-2-2v4M665.5 321.8h4m-2-2v4M666.6 296.4h4m-2-2v4M666.1 299.1h4m-2-2v4M666.3 300.4h4m-2-2v4M666.5 320.4h4m-2-2v4M666.3 326.5h4m-2-2v4M667.0 326.4h4m-2-2v4M666.1 331.1h4m-2-2v4M666.5 316.6h4m-2-2v4M666.3 316.2h4m-2-2v4M666.0 340.0h4m-2-2v4M666.7 330.1h4m-2-2v4M666.4 323.1h4m-2-2v4M666.7 337.1h4m-2-2v4M666.6 350.9h4m-2-2v4M666.6 328.8h4m-2-2v4M666.4 301.5h4m-2-2v4M666.8 332.5h4m-2-2v4M666.6 318.5h4m-2-2v4M666.6 316.1h4m-2-2v4M666.7 331.6h4m-2-2v4M666.2 334.7h4m-2-2v4M666.4 325.6h4m-2-2v4M667.0 331.2h4m-2-2v4M666.5 318.2h4m-2-2v4M666.0 311.2h4m-2-2v4M666.5 340.6h4m-2-2v4M667.7 354.1h4m-2-2v4M667.7 356.5h4m-2-2v4M667.3 353.4h4m-2-2v4M667.4 323.5h4m-2-2v4M667.1 309.0h4m-2-2v4M667.9 318.8h4m-2-2v4M667.6 335.7h4m-2-2v4M667.3 325.1h4m-2-2v4M667.4 319.6h4m-2-2v4M667.1 309.2h4m-2-2v4M668.0 344.3h4m-2-2v4M667.0 339.1h4m-2-2v4M668.0 320.7h4m-2-2v4M667.9 318.6h4m-2-2v4M667.1 328.4h4m-2-2v4M668.0 344.6h4m-2-2v4M667.2 309.1h4m-2-2v4M667.9 325.9h4m-2-2v4M667.7 305.8h4m-2-2v4M668.0 330.1h4m-2-2v4M667.7 326.0h4m-2-2v4M667.3 310.4h4m-2-2v4M668.0 307.2h4m-2-2v4M667.9 347.4h4m-2-2v4M667.2 341.6h4m-2-2v4M669.0 300.4h4m-2-2v4M668.6 302.3h4m-2-2v4M668.3 301.2h4m-2-2v4M668.6 355.8h4m-2-2v4M668.6 319.8h4m-2-2v4M668.7 335.2h4m-2-2v4M668.2 336.0h4m-2-2v4M668.2 331.9h4m-2-2v4M668.2 316.5h4m-2-2v4M668.6 337.6h4m-2-2v4M668.1 329.5h4m-2-2v4M668.7 330.7h4m-2-2v4M668.5 317.6h4m-2-2v4M668.3 354.6h4m-2-2v4M668.8 336.3h4m-2-2v4M668.8 349.7h4m-2-2v4M668.7 353.6h4m-2-2v4M668.7 306.5h4m-2-2v4M668.5 314.8h4m-2-2v4M668.7 339.1h4m-2-2v4M668.6 347.2h4m-2-2v4M668.7 307.1h4m-2-2v4M668.2 338.1h4m-2-2v4M668.2 339.3h4m-2-2v4M668.3 312.3h4m-2-2v4M668.2 311.1h4m-2-2v4M668.4 346.1h4m-2-2v4M668.0 310.0h4m-2-2v4M669.4 358.0h4m-2-2v4M669.1 333.0h4m-2-2v4M669.5 333.4h4m-2-2v4M669.8 321.4h4m-2-2v4M669.5 337.5h4m-2-2v4M669.9 317.2h4m-2-2v4M669.4 315.9h4m-2-2v4M669.2 332.7h4m-2-2v4M669.1 337.9h4m-2-2v4M669.0 316.9h4m-2-2v4M669.9 327.0h4m-2-2v4M669.3 334.8h4m-2-2v4M669.4 336.0h4m-2-2v4M669.2 346.0h4m-2-2v4M669.4 339.4h4m-2-2v4M669.7 310.8h4m-2-2v4M669.6 324.4h4m-2-2v4M669.2 334.1h4m-2-2v4M669.9 308.0h4m-2-2v4M669.7 332.1h4m-2-2v4M669.7 332.7h4m-2-2v4M669.5 333.6h4m-2-2v4M669.1 334.5h4m-2-2v4M669.7 327.8h4m-2-2v4M669.8 340.3h4m-2-2v4M671.0 312.3h4m-2-2v4M670.2 335.0h4m-2-2v4M670.7 353.6h4m-2-2v4M670.7 356.0h4m-2-2v4M670.8 306.7h4m-2-2v4M670.9 326.2h4m-2-2v4M670.2 341.8h4m-2-2v4M670.6 345.3h4m-2-2v4M670.3 356.5h4m-2-2v4M670.0 308.3h4m-2-2v4M671.0 340.2h4m-2-2v4M670.8 308.0h4m-2-2v4M670.4 317.4h4m-2-2v4M670.9 339.4h4m-2-2v4M670.8 334.1h4m-2-2v4M670.1 326.2h4m-2-2v4M670.9 339.0h4m-2-2v4M670.7 323.2h4m-2-2v4M670.6 319.4h4m-2-2v4M670.2 347.8h4m-2-2v4M670.8 319.7h4m-2-2v4M670.4 337.3h4m-2-2v4M670.2 340.6h4m-2-2v4M671.0 347.3h4m-2-2v4M671.9 304.1h4m-2-2v4M671.5 304.3h4m-2-2v4M671.5 306.3h4m-2-2v4M671.7 359.7h4m-2-2v4M671.8 358.8h4m-2-2v4M671.7 332.1h4m-2-2v4M671.4 337.3h4m-2-2v4M671.7 315.1h4m-2-2v4M671.0 354.3h4m-2-2v4M671.1 331.7h4m-2-2v4M671.2 343.1h4m-2-2v4M671.4 335.2h4m-2-2v4M671.2 307.1h4m-2-2v4M672.0 332.6h4m-2-2v4M671.4 341.5h4m-2-2v4M671.0 327.7h4m-2-2v4M671.8 310.3h4m-2-2v4M671.3 317.0h4m-2-2v4M671.0 346.8h4m-2-2v4M671.6 332.4h4m-2-2v4M671.8 329.3h4m-2-2v4M671.1 320.5h4m-2-2v4M671.9 328.1h4m-2-2v4M671.5 335.4h4m-2-2v4M671.5 321.5h4m-2-2v4M671.9 346.5h4m-2-2v4M671.3 336.2h4m-2-2v4M671.8 353.7h4m-2-2v4M672.1 346.2h4m-2-2v4M672.7 331.6h4m-2-2v4M672.1 345.6h4m-2-2v4M672.8 333.4h4m-2-2v4M672.8 318.4h4m-2-2v4M672.4 323.3h4m-2-2v4M672.1 337.0h4m-2-2v4M672.3 338.0h4m-2-2v4M672.1 336.1h4m-2-2v4M672.2 326.5h4m-2-2v4M672.8 345.3h4m-2-2v4M672.9 337.9h4m-2-2v4M672.4 351.0h4m-2-2v4M672.0 340.3h4m-2-2v4M672.5 308.0h4m-2-2v4M672.0 353.8h4m-2-2v4M672.4 330.9h4m-2-2v4M673.0 320.0h4m-2-2v4M672.9 340.4h4m-2-2v4M672.6 337.3h4m-2-2v4M672.9 318.1h4m-2-2v4M672.5 321.3h4m-2-2v4M672.5 312.1h4m-2-2v4M673.9 356.7h4m-2-2v4M673.3 348.9h4m-2-2v4M673.5 329.5h4m-2-2v4M673.9 340.4h4m-2-2v4M673.9 343.2h4m-2-2v4M673.5 325.7h4m-2-2v4M673.8 313.6h4m-2-2v4M673.2 336.7h4m-2-2v4M673.2 325.7h4m-2-2v4M673.2 337.3h4m-2-2v4M673.8 322.0h4m-2-2v4M673.2 335.3h4m-2-2v4M673.2 327.6h4m-2-2v4M673.9 328.9h4m-2-2v4M673.1 349.0h4m-2-2v4M673.5 318.4h4m-2-2v4M673.8 327.2h4m-2-2v4M673.6 322.5h4m-2-2v4M673.9 319.2h4m-2-2v4M673.3 337.0h4m-2-2v4M673.9 329.1h4m-2-2v4M675.0 353.7h4m-2-2v4M674.1 339.5h4m-2-2v4M674.1 343.4h4m-2-2v4M674.3 319.4h4m-2-2v4M674.4 331.3h4m-2-2v4M674.9 345.9h4m-2-2v4M675.0 325.6h4m-2-2v4M674.3 324.7h4m-2-2v4M674.9 337.2h4m-2-2v4M674.8 337.4h4m-2-2v4M674.6 347.5h4m-2-2v4M674.6 318.4h4m-2-2v4M674.3 325.8h4m-2-2v4M674.4 344.0h4m-2-2v4M674.2 312.0h4m-2-2v4M674.8 343.6h4m-2-2v4M674.2 328.1h4m-2-2v4M674.9 313.0h4m-2-2v4M674.2 323.3h4m-2-2v4M674.1 344.8h4m-2-2v4M674.9 335.8h4m-2-2v4M675.1 306.7h4m-2-2v4M675.6 342.1h4m-2-2v4M675.4 330.3h4m-2-2v4M675.6 320.1h4m-2-2v4M675.1 317.1h4m-2-2v4M675.8 330.6h4m-2-2v4M675.5 342.6h4m-2-2v4M676.0 352.7h4m-2-2v4M675.9 324.6h4m-2-2v4M675.9 345.0h4m-2-2v4M675.2 314.9h4m-2-2v4M675.6 325.1h4m-2-2v4M675.5 332.5h4m-2-2v4M675.9 334.5h4m-2-2v4M675.9 346.8h4m-2-2v4M675.2 333.8h4m-2-2v4M675.7 344.5h4m-2-2v4M675.1 352.9h4m-2-2v4M675.1 351.3h4m-2-2v4M675.8 338.1h4m-2-2v4M675.2 328.1h4m-2-2v4M675.3 331.3h4m-2-2v4M676.0 359.4h4m-2-2v4M675.6 354.6h4m-2-2v4M676.6 362.1h4m-2-2v4M676.7 343.5h4m-2-2v4M676.4 352.4h4m-2-2v4M676.8 335.0h4m-2-2v4M676.8 357.5h4m-2-2v4M676.5 327.8h4m-2-2v4M676.5 331.5h4m-2-2v4M676.4 339.2h4m-2-2v4M676.3 356.3h4m-2-2v4M676.6 332.9h4m-2-2v4M676.1 344.2h4m-2-2v4M676.2 353.1h4m-2-2v4M676.8 361.1h4m-2-2v4M676.7 356.6h4m-2-2v4M676.4 314.0h4m-2-2v4M676.1 338.1h4m-2-2v4M676.5 315.4h4m-2-2v4M677.0 336.3h4m-2-2v4M676.6 315.0h4m-2-2v4M676.0 331.3h4m-2-2v4M676.5 339.4h4m-2-2v4M676.8 314.3h4m-2-2v4M677.0 329.0h4m-2-2v4M676.3 335.2h4m-2-2v4M676.0 350.8h4m-2-2v4M676.5 344.9h4m-2-2v4M677.7 358.9h4m-2-2v4M677.8 330.1h4m-2-2v4M677.7 340.6h4m-2-2v4M677.7 341.9h4m-2-2v4M677.4 325.6h4m-2-2v4M677.0 365.8h4m-2-2v4M677.8 344.7h4m-2-2v4M677.1 340.9h4m-2-2v4M677.1 349.3h4m-2-2v4M677.9 338.7h4m-2-2v4M677.5 334.9h4m-2-2v4M677.9 340.5h4m-2-2v4M677.5 350.7h4m-2-2v4M677.7 333.9h4m-2-2v4M677.8 353.4h4m-2-2v4M677.6 358.2h4m-2-2v4M677.7 320.8h4m-2-2v4M677.0 348.6h4m-2-2v4M677.7 335.6h4m-2-2v4M677.6 359.1h4m-2-2v4M677.1 321.8h4m-2-2v4M677.2 342.3h4m-2-2v4M677.3 365.0h4m-2-2v4M677.2 332.7h4m-2-2v4M677.1 324.7h4m-2-2v4M677.4 355.1h4m-2-2v4M677.6 331.9h4m-2-2v4M677.3 308.7h4m-2-2v4M678.2 305.7h4m-2-2v4M678.4 302.9h4m-2-2v4M678.7 303.6h4m-2-2v4M678.2 371.7h4m-2-2v4M678.3 372.7h4m-2-2v4M678.4 373.0h4m-2-2v4M678.6 351.2h4m-2-2v4M678.4 339.7h4m-2-2v4M678.5 323.1h4m-2-2v4M678.8 360.4h4m-2-2v4M678.0 346.1h4m-2-2v4M678.6 321.8h4m-2-2v4M678.6 330.9h4m-2-2v4M678.5 324.8h4m-2-2v4M678.4 318.6h4m-2-2v4M678.2 342.9h4m-2-2v4M678.9 341.7h4m-2-2v4M678.7 340.7h4m-2-2v4M678.2 311.5h4m-2-2v4M678.3 354.7h4m-2-2v4M678.9 346.8h4m-2-2v4M678.2 348.9h4m-2-2v4M678.1 353.6h4m-2-2v4M678.6 323.5h4m-2-2v4M678.0 332.3h4m-2-2v4M678.5 319.9h4m-2-2v4M678.4 342.4h4m-2-2v4M678.8 336.5h4m-2-2v4M678.4 336.2h4m-2-2v4M678.0 332.3h4m-2-2v4M678.3 336.3h4m-2-2v4M678.0 331.3h4m-2-2v4M678.4 349.4h4m-2-2v4M678.7 321.6h4m-2-2v4M678.8 322.7h4m-2-2v4M679.5 376.4h4m-2-2v4M679.2 378.8h4m-2-2v4M679.7 381.6h4m-2-2v4M679.1 363.0h4m-2-2v4M679.7 322.4h4m-2-2v4M679.1 367.5h4m-2-2v4M679.7 349.7h4m-2-2v4M679.0 354.7h4m-2-2v4M679.1 338.6h4m-2-2v4M679.9 342.7h4m-2-2v4M679.3 333.3h4m-2-2v4M679.2 315.1h4m-2-2v4M679.7 327.4h4m-2-2v4M679.6 336.2h4m-2-2v4M679.9 316.1h4m-2-2v4M679.5 329.6h4m-2-2v4M679.3 319.8h4m-2-2v4M679.3 367.7h4m-2-2v4M679.6 372.4h4m-2-2v4M679.4 340.7h4m-2-2v4M679.9 349.0h4m-2-2v4M679.2 365.2h4m-2-2v4M679.8 308.7h4m-2-2v4M679.4 330.9h4m-2-2v4M679.5 340.4h4m-2-2v4M679.7 355.2h4m-2-2v4M679.1 310.4h4m-2-2v4M679.1 371.0h4m-2-2v4M679.8 342.3h4m-2-2v4M679.5 341.5h4m-2-2v4M679.5 363.4h4m-2-2v4M679.3 329.3h4m-2-2v4M679.3 352.1h4m-2-2v4M679.7 317.9h4m-2-2v4M680.7 349.2h4m-2-2v4M680.5 346.3h4m-2-2v4M680.2 330.1h4m-2-2v4M680.1 367.0h4m-2-2v4M680.6 358.5h4m-2-2v4M680.9 349.7h4m-2-2v4M680.6 377.9h4m-2-2v4M680.7 372.2h4m-2-2v4M680.1 344.8h4m-2-2v4M680.0 343.5h4m-2-2v4M680.6 361.2h4m-2-2v4M681.0 369.2h4m-2-2v4M680.0 346.1h4m-2-2v4M680.4 369.7h4m-2-2v4M680.2 337.0h4m-2-2v4M680.0 355.0h4m-2-2v4M680.3 346.5h4m-2-2v4M680.1 373.0h4m-2-2v4M680.0 358.8h4m-2-2v4M680.3 373.0h4m-2-2v4M680.4 334.6h4m-2-2v4M680.4 381.9h4m-2-2v4M680.6 337.9h4m-2-2v4M680.4 330.3h4m-2-2v4M680.2 331.7h4m-2-2v4M680.9 356.0h4m-2-2v4M680.1 360.9h4m-2-2v4M680.3 327.2h4m-2-2v4M680.1 349.5h4m-2-2v4M680.6 306.0h4m-2-2v4M680.8 335.7h4m-2-2v4M680.7 328.2h4m-2-2v4M680.7 322.0h4m-2-2v4M680.0 327.7h4m-2-2v4M680.5 353.2h4m-2-2v4M680.0 333.1h4m-2-2v4M680.5 380.7h4m-2-2v4M680.0 321.7h4m-2-2v4M681.8 304.1h4m-2-2v4M681.5 392.9h4m-2-2v4M681.1 345.9h4m-2-2v4M681.4 342.2h4m-2-2v4M681.6 361.6h4m-2-2v4M681.0 328.6h4m-2-2v4M681.0 377.0h4m-2-2v4M681.4 341.7h4m-2-2v4M681.3 342.7h4m-2-2v4M681.3 346.7h4m-2-2v4M681.8 385.1h4m-2-2v4M681.4 319.4h4m-2-2v4M681.0 367.7h4m-2-2v4M681.7 338.6h4m-2-2v4M681.2 320.9h4m-2-2v4M681.3 332.7h4m-2-2v4M681.1 358.3h4m-2-2v4M681.7 340.9h4m-2-2v4M681.5 354.0h4m-2-2v4M682.0 365.9h4m-2-2v4M681.6 346.3h4m-2-2v4M681.3 327.8h4m-2-2v4M681.3 387.7h4m-2-2v4M681.6 389.5h4m-2-2v4M681.7 330.1h4m-2-2v4M681.8 345.8h4m-2-2v4M681.5 371.5h4m-2-2v4M681.9 353.9h4m-2-2v4M681.9 307.0h4m-2-2v4M681.7 384.7h4m-2-2v4M681.3 356.0h4m-2-2v4M681.1 386.0h4m-2-2v4M681.5 376.9h4m-2-2v4M681.7 379.9h4m-2-2v4M681.6 347.3h4m-2-2v4M681.3 314.5h4m-2-2v4M681.6 359.0h4m-2-2v4M681.3 336.9h4m-2-2v4M681.5 324.6h4m-2-2v4M681.5 345.5h4m-2-2v4M681.5 354.9h4m-2-2v4M682.5 399.0h4m-2-2v4M682.3 399.4h4m-2-2v4M682.8 328.6h4m-2-2v4M682.0 313.1h4m-2-2v4M682.5 351.5h4m-2-2v4M682.9 361.9h4m-2-2v4M682.3 328.3h4m-2-2v4M682.6 318.1h4m-2-2v4M682.1 378.0h4m-2-2v4M682.9 349.6h4m-2-2v4M682.5 360.8h4m-2-2v4M682.1 355.7h4m-2-2v4M682.0 315.1h4m-2-2v4M682.9 334.0h4m-2-2v4M682.4 342.6h4m-2-2v4M682.3 382.8h4m-2-2v4M682.8 377.3h4m-2-2v4M682.2 333.5h4m-2-2v4M682.1 348.2h4m-2-2v4M682.8 357.7h4m-2-2v4M682.6 359.6h4m-2-2v4M682.2 389.2h4m-2-2v4M682.3 353.9h4m-2-2v4M682.5 311.0h4m-2-2v4M682.2 344.0h4m-2-2v4M682.7 394.2h4m-2-2v4M682.4 353.1h4m-2-2v4M682.2 352.0h4m-2-2v4M682.1 377.8h4m-2-2v4M682.6 386.6h4m-2-2v4M682.4 349.8h4m-2-2v4M682.8 354.1h4m-2-2v4M682.3 321.8h4m-2-2v4M682.1 342.3h4m-2-2v4M682.1 368.8h4m-2-2v4M682.5 378.1h4m-2-2v4M682.4 358.4h4m-2-2v4M682.6 321.3h4m-2-2v4M682.9 360.2h4m-2-2v4M682.8 374.2h4m-2-2v4M682.3 333.2h4m-2-2v4M682.4 322.0h4m-2-2v4M682.8 351.7h4m-2-2v4M683.5 301.8h4m-2-2v4M683.2 300.8h4m-2-2v4M683.5 402.2h4m-2-2v4M683.8 401.9h4m-2-2v4M683.2 401.3h4m-2-2v4M683.6 353.0h4m-2-2v4M683.5 327.3h4m-2-2v4M683.7 347.7h4m-2-2v4M683.3 349.8h4m-2-2v4M683.6 317.2h4m-2-2v4M683.4 317.3h4m-2-2v4M683.9 374.3h4m-2-2v4M683.1 332.1h4m-2-2v4M683.5 348.3h4m-2-2v4M683.1 306.6h4m-2-2v4M683.4 348.3h4m-2-2v4M683.3 377.5h4m-2-2v4M683.4 329.0h4m-2-2v4M683.5 395.5h4m-2-2v4M683.3 376.5h4m-2-2v4M683.8 348.1h4m-2-2v4M683.1 331.0h4m-2-2v4M683.2 358.6h4m-2-2v4M683.9 357.9h4m-2-2v4M683.6 324.3h4m-2-2v4M683.6 326.5h4m-2-2v4M684.0 331.1h4m-2-2v4M683.7 355.9h4m-2-2v4M683.3 334.6h4m-2-2v4M683.7 350.1h4m-2-2v4M683.6 381.4h4m-2-2v4M683.4 386.3h4m-2-2v4M683.7 384.3h4m-2-2v4M683.0 315.0h4m-2-2v4M683.3 321.9h4m-2-2v4M683.9 360.0h4m-2-2v4M683.2 335.5h4m-2-2v4M683.6 345.8h4m-2-2v4M683.4 326.7h4m-2-2v4M683.1 338.3h4m-2-2v4M683.9 330.2h4m-2-2v4M683.2 377.7h4m-2-2v4M683.2 363.2h4m-2-2v4M683.0 373.9h4m-2-2v4M683.1 327.1h4m-2-2v4M683.4 364.3h4m-2-2v4M683.5 303.6h4m-2-2v4M683.4 364.7h4m-2-2v4M684.1 298.9h4m-2-2v4M684.5 298.1h4m-2-2v4M684.0 398.0h4m-2-2v4M684.0 398.2h4m-2-2v4M684.2 357.6h4m-2-2v4M684.0 352.1h4m-2-2v4M684.7 364.7h4m-2-2v4M684.5 342.2h4m-2-2v4M684.5 348.9h4m-2-2v4M684.2 391.2h4m-2-2v4M685.0 351.3h4m-2-2v4M684.6 372.3h4m-2-2v4M685.0 360.3h4m-2-2v4M684.5 314.2h4m-2-2v4M684.2 328.7h4m-2-2v4M684.3 323.8h4m-2-2v4M684.4 303.6h4m-2-2v4M684.7 303.1h4m-2-2v4M684.2 378.5h4m-2-2v4M684.5 314.4h4m-2-2v4M684.2 321.7h4m-2-2v4M684.5 345.4h4m-2-2v4M684.9 385.0h4m-2-2v4M684.7 322.5h4m-2-2v4M684.8 357.0h4m-2-2v4M684.7 387.3h4m-2-2v4M684.6 386.3h4m-2-2v4M685.0 367.3h4m-2-2v4M684.7 346.1h4m-2-2v4M684.1 331.9h4m-2-2v4M684.0 302.6h4m-2-2v4M684.4 337.8h4m-2-2v4M684.7 337.0h4m-2-2v4M684.7 328.3h4m-2-2v4M684.2 347.1h4m-2-2v4M684.4 350.2h4m-2-2v4M684.5 348.3h4m-2-2v4M684.6 310.1h4m-2-2v4M684.9 339.6h4m-2-2v4M684.0 312.9h4m-2-2v4M684.5 376.9h4m-2-2v4M684.4 363.5h4m-2-2v4M684.9 377.3h4m-2-2v4M684.7 334.1h4m-2-2v4M684.6 311.2h4m-2-2v4M684.0 331.6h4m-2-2v4M684.9 362.6h4m-2-2v4M684.7 348.6h4m-2-2v4M685.1 391.4h4m-2-2v4M685.9 392.2h4m-2-2v4M685.2 345.2h4m-2-2v4M685.7 361.7h4m-2-2v4M685.2 346.4h4m-2-2v4M685.3 352.9h4m-2-2v4M685.0 368.3h4m-2-2v4M686.0 337.8h4m-2-2v4M685.4 350.0h4m-2-2v4M685.9 321.5h4m-2-2v4M685.2 375.1h4m-2-2v4M685.2 371.5h4m-2-2v4M685.7 331.2h4m-2-2v4M685.4 315.0h4m-2-2v4M685.2 307.0h4m-2-2v4M685.1 349.9h4m-2-2v4M685.6 338.1h4m-2-2v4M685.4 298.9h4m-2-2v4M685.3 383.2h4m-2-2v4M685.8 338.8h4m-2-2v4M685.6 296.5h4m-2-2v4M685.1 339.1h4m-2-2v4M685.6 356.0h4m-2-2v4M685.7 362.4h4m-2-2v4M685.6 360.0h4m-2-2v4M685.6 330.7h4m-2-2v4M685.4 336.7h4m-2-2v4M685.5 343.4h4m-2-2v4M685.8 337.2h4m-2-2v4M685.7 324.2h4m-2-2v4M685.7 382.6h4m-2-2v4M685.2 381.9h4m-2-2v4M685.2 330.8h4m-2-2v4M685.9 316.6h4m-2-2v4M685.8 349.6h4m-2-2v4M685.7 360.1h4m-2-2v4M685.4 350.1h4m-2-2v4M685.2 353.8h4m-2-2v4M685.8 358.6h4m-2-2v4M685.8 357.1h4m-2-2v4M685.9 304.5h4m-2-2v4M685.2 371.3h4m-2-2v4M685.3 328.5h4m-2-2v4M685.6 389.5h4m-2-2v4M686.1 388.0h4m-2-2v4M686.4 349.5h4m-2-2v4M686.3 330.4h4m-2-2v4M686.9 299.3h4m-2-2v4M686.5 343.0h4m-2-2v4M686.1 326.4h4m-2-2v4M686.6 313.4h4m-2-2v4M686.5 300.2h4m-2-2v4M686.2 309.7h4m-2-2v4M686.3 328.7h4m-2-2v4M686.0 310.9h4m-2-2v4M686.3 322.5h4m-2-2v4M686.2 322.7h4m-2-2v4M686.7 324.2h4m-2-2v4M686.5 334.8h4m-2-2v4M686.3 346.4h4m-2-2v4M686.9 303.2h4m-2-2v4M686.8 313.1h4m-2-2v4M686.6 379.4h4m-2-2v4M686.4 315.4h4m-2-2v4M686.6 324.5h4m-2-2v4M686.6 350.6h4m-2-2v4M686.4 337.1h4m-2-2v4M686.5 366.9h4m-2-2v4M686.1 341.7h4m-2-2v4M686.9 323.8h4m-2-2v4M686.3 372.1h4m-2-2v4M686.2 354.6h4m-2-2v4M686.7 341.6h4m-2-2v4M686.0 333.3h4m-2-2v4M686.5 368.5h4m-2-2v4M686.8 383.2h4m-2-2v4M686.5 298.3h4m-2-2v4M686.3 344.5h4m-2-2v4M686.5 360.0h4m-2-2v4M686.9 372.7h4m-2-2v4M686.0 339.8h4m-2-2v4M686.4 356.1h4m-2-2v4M686.2 366.9h4m-2-2v4M686.8 358.6h4m-2-2v4M686.5 329.2h4m-2-2v4M686.7 304.9h4m-2-2v4M686.6 349.3h4m-2-2v4M686.8 330.6h4m-2-2v4M688.0 289.4h4m-2-2v4M687.3 290.7h4m-2-2v4M687.9 289.9h4m-2-2v4M687.1 384.4h4m-2-2v4M687.1 382.1h4m-2-2v4M687.3 385.0h4m-2-2v4M688.0 344.7h4m-2-2v4M687.1 338.6h4m-2-2v4M687.6 315.6h4m-2-2v4M687.9 341.0h4m-2-2v4M688.0 346.4h4m-2-2v4M687.3 307.5h4m-2-2v4M687.4 381.5h4m-2-2v4M687.3 333.3h4m-2-2v4M688.0 370.3h4m-2-2v4M687.5 323.4h4m-2-2v4M687.4 302.1h4m-2-2v4M687.7 358.2h4m-2-2v4M687.8 367.1h4m-2-2v4M687.1 334.4h4m-2-2v4M687.7 296.0h4m-2-2v4M687.7 349.2h4m-2-2v4M687.2 344.5h4m-2-2v4M687.2 315.8h4m-2-2v4M687.4 381.2h4m-2-2v4M687.7 335.8h4m-2-2v4M687.3 307.3h4m-2-2v4M687.3 379.1h4m-2-2v4M687.2 345.5h4m-2-2v4M687.3 377.8h4m-2-2v4M687.5 357.2h4m-2-2v4M687.5 340.5h4m-2-2v4M687.9 356.1h4m-2-2v4M687.2 299.3h4m-2-2v4M687.6 338.0h4m-2-2v4M687.8 309.3h4m-2-2v4M687.8 371.4h4m-2-2v4M687.8 347.4h4m-2-2v4M687.7 356.5h4m-2-2v4M687.6 330.3h4m-2-2v4M687.3 327.6h4m-2-2v4M687.2 306.0h4m-2-2v4M687.7 350.7h4m-2-2v4M687.3 325.3h4m-2-2v4M687.2 324.6h4m-2-2v4M688.7 298.9h4m-2-2v4M688.4 298.1h4m-2-2v4M688.8 366.9h4m-2-2v4M688.2 335.6h4m-2-2v4M688.9 336.8h4m-2-2v4M688.2 361.0h4m-2-2v4M688.1 340.7h4m-2-2v4M688.1 364.5h4m-2-2v4M688.3 342.1h4m-2-2v4M688.5 369.7h4m-2-2v4M688.8 356.7h4m-2-2v4M688.2 372.0h4m-2-2v4M688.8 338.8h4m-2-2v4M688.1 309.0h4m-2-2v4M688.7 302.8h4m-2-2v4M688.2 356.4h4m-2-2v4M688.6 357.6h4m-2-2v4M688.3 346.2h4m-2-2v4M688.8 327.4h4m-2-2v4M688.0 342.3h4m-2-2v4M688.4 341.8h4m-2-2v4M688.7 343.6h4m-2-2v4M689.0 345.1h4m-2-2v4M688.2 333.8h4m-2-2v4M688.2 336.0h4m-2-2v4M689.0 304.0h4m-2-2v4M688.1 340.5h4m-2-2v4M688.9 318.8h4m-2-2v4M688.7 344.1h4m-2-2v4M688.3 337.4h4m-2-2v4M688.2 336.5h4m-2-2v4M688.2 359.7h4m-2-2v4M688.6 328.4h4m-2-2v4M688.0 368.8h4m-2-2v4M688.0 323.0h4m-2-2v4"/>
<polyline fill="none" stroke="#cdcdcd" stroke-width="2" stroke-linejoin="miter" points="78,609.7 84,609.7 85,605.4 90.5,605.4 91.5,614 98,614 99,605.4 113,605.4 114,587.9 118,587.9 118.7,583.6 124.5,583.6 125.6,575 129,575 131.4,553 131.8,561.8 156.8,561.8 158,556.5 159,543.8 162.5,543.8 163.5,555 164.8,539 168.3,500 169.5,482.7 171.8,493 174,482.7 177.5,482.7 178.7,511.5 181,518.5 182,504.6 185.6,508 185.8,506.5 189,500.8 197,500.8 198.5,496 203,487 208.8,496 214.6,507.7 215,521.5 215.8,507.7 220.4,507.7 222.7,500.8 226,491.5 232,484.6 236.5,477.7 237.7,461.5 240.5,457 243.5,452.3 245.8,439.6 251.5,439.6 252.7,450 256,439.6 259.6,433.8 264,431.5 265.4,438.5 268.8,438.5 272.3,417.7 275.8,403.8 278,391 280.4,406 282.7,420 285,405 289.6,410.8 293,405 295.4,410.8 298.5,409.6 300,406 305.5,408 309.8,416.7 314,437.9 318,443.5 321,450.6 323.9,436.5 329.5,430.8 332.4,439.3 333.8,450.6 339.4,453.4 340.8,450.6 350.7,453.4 356.4,463.3 359,450.6 366,447.8 367.6,470 370.5,456 373.3,473 373.3,511 377.5,497 386,495.8 388.8,510 391.6,512.7 397.3,512.7 398.7,504 403,504 403.8,492.3 405,515.4 409,510 411.5,496 420.5,496 421.8,500 425.6,498.7 427,495 430.8,495 432,491 434.6,502.6 436,496 441,496 443.6,489.7 450,488.5 451.3,491 453.8,483.3 461.5,483.3 464,495 467,506.4 469,495 473,484.6 474.4,474.4 478,474.4 479.5,482 482,482 483.3,469 487,469 488.5,465.4 507.7,465.4 510,469 513,469 513.4,482.6 515.6,472.7 519,449 521,448.7 525.5,447 527,455.8 529.8,436 534,446 535.4,458.6 538,440 541,448.7 543.9,440 546.7,450 549.5,440 552,454 555,440 559.4,448.7 562,438.8 566.5,436 570.7,434.6 575,426 577.8,440 580.6,453 584.8,468.5 587.6,454 594.7,453 597.5,455.8 600,448.7 604.6,451.5 607.4,447 611.6,447 613,439.4 617,442.5 619,435 622,435 625.4,424 629.5,420 631.5,416.9 634.6,407.7 635.6,401.5 637.7,376.9 639.7,370.8 641.8,374.9 643.8,361.5 645.9,381 647.9,371.8 651,381 654,386 657,393.3 659.2,379 662.3,379 663.7,386 666.4,379 668.4,387 669.4,409.7 671.5,424 673,410.7 675.6,428 677.6,448.7 680.7,458.9 683.8,461 686.9,471 689,475.3"/>
<polyline fill="none" stroke="#111" stroke-width="2.8" stroke-linejoin="miter" stroke-miterlimit="3" points="113.9,644.5 113.9,613 115.3,603 117,539 117.5,488.5 125,488.5 125.2,453.8 126.8,440 129,440 129,426 131.4,406 132.6,389.2 133.7,392.3 153,392.3 153,404.6 156,404.6 156.8,392.3 159,377.7 160.6,406 163,406 164,417.7 165,379 168,374.6 169,392.3 171.4,407.7 172.6,414.6 173.7,408.5 177.5,408.5 178.3,426 181.4,440.8 181.8,413 184.6,413 185.8,401.5 189.2,393.5 195,393.5 197.3,375 200.8,375 203,394.6 207.7,397 211,400.4 214.6,427 215.8,455.8 218,461.5 221.5,461.5 222.7,447.7 228.5,443 229.6,438.5 232,438.5 234.2,447.7 237.7,459.2 241,461.5 245.8,482.3 247,506.5 252.7,506.5 253.4,521.5 257.3,521.5 258,507.7 262,507.7 262.6,493.8 265.4,487 271,485.8 272.3,475.4 277,469.6 280.4,491.5 282.7,470.8 290.8,433.8 292.8,445 298.5,456 308.4,456 311,462 314,487 316.8,495.8 322.5,495.8 325.3,504 331,504 333.8,515.5 338,518 340.8,505.6 347.9,505.6 350.7,518 355,542 357.8,553.6 364.8,556.5 367.6,567.7 371.9,574.8 373.3,543.7 377.5,552 386,552 388.8,543.7 390.2,556.5 395.9,557.9 397.3,562 401.3,562 402.6,551.3 405,570.5 407.7,574.4 412.8,574.4 414,568 421.8,568 423,565.4 426,565.4 428,568 433.3,569 436,553.8 441,553.8 442.3,544.9 451.3,546 453.8,550 461.5,550 464,544.9 466,559 467,528 471.8,528 473,538.5 474.4,520.5 478,519 479.5,514 482,512.8 483.3,502.6 487,502.6 488.5,495 507.7,495 510,491.5 514.2,491.5 515.6,498 518.5,498 519.9,488 525.5,488 528.4,479.8 531,492.5 533.5,492.5 536.8,502 539.6,494 542.5,478 546.7,479.8 548,487 549.5,509 551,525 555,533.4 558,527.7 562,532 566.5,534.8 570.7,534.8 573.5,529 576,534.8 579,526 584.8,513.6 587.6,516.5 589,525 597.5,525 600,517.9 603,516.5 606,509 610,508.3 612,503 616.5,503 621,497.4 623,498.5 626.3,506 631.8,509.4 635,517 637.2,530 640.5,537.7 643.8,543 647,546.5 649,543 653.6,540 656,533.4 658,540 662.3,547.6 665.6,548.6 667,544 671,545.4 672,558.4 674.3,563.9 678.6,566 683,561.7 684.5,565 685,580 687.4,582.4 689,591"/>
<rect x="76.8" y="644.8" width="87.6" height="30.8" fill="#cbcbcb"/>
<rect x="164.4" y="644.8" width="206.3" height="30.8" fill="#d9d9d9"/>
<rect x="370.7" y="644.8" width="102.4" height="30.8" fill="#e6e6e6"/>
<rect x="473.1" y="644.8" width="166.7" height="30.8" fill="#e9e9e9"/>
<rect x="639.8" y="644.8" width="25.8" height="30.8" fill="#e4e4e4"/>
<rect x="665.6" y="644.8" width="24.4" height="30.8" fill="#f1f1f1"/>
<rect x="76.8" y="675.6" width="396.3" height="32.2" fill="#c3c3c3"/>
<rect x="473.1" y="675.6" width="192.5" height="32.2" fill="#dcdcdc"/>
<rect x="665.6" y="675.6" width="24.4" height="32.2" fill="#eeeeee"/>
<line x1="164.4" y1="644.8" x2="164.4" y2="675.6" stroke="#111" stroke-width="2.5"/>
<line x1="370.7" y1="644.8" x2="370.7" y2="675.6" stroke="#111" stroke-width="2.5"/>
<line x1="473.1" y1="644.8" x2="473.1" y2="675.6" stroke="#111" stroke-width="2.5"/>
<line x1="639.8" y1="644.8" x2="639.8" y2="675.6" stroke="#111" stroke-width="1.8"/>
<line x1="665.6" y1="644.8" x2="665.6" y2="675.6" stroke="#111" stroke-width="2.4"/>
<line x1="681.5" y1="644.8" x2="681.5" y2="675.6" stroke="#111" stroke-width="2.1"/>
<line x1="473.1" y1="675.6" x2="473.1" y2="707.8" stroke="#111" stroke-width="2.5"/>
<line x1="665.6" y1="675.6" x2="665.6" y2="707.8" stroke="#111" stroke-width="2.5"/>
<line x1="75.8" y1="675.6" x2="691.6" y2="675.6" stroke="#111" stroke-width="2.5"/>
<line x1="75.8" y1="707.8" x2="691.6" y2="707.8" stroke="#111" stroke-width="2.5"/>
<line x1="76.8" y1="644.8" x2="76.8" y2="707.8" stroke="#111" stroke-width="2.5"/>
<line x1="690.6" y1="644.8" x2="690.6" y2="709.0" stroke="#111" stroke-width="2.6"/>
<line x1="76.2" y1="58" x2="691.4" y2="58" stroke="#111" stroke-width="3.2"/>
<line x1="680.6" y1="58" x2="680.6" y2="61.6" stroke="#111" stroke-width="1.1"/>
<line x1="671.2" y1="58" x2="671.2" y2="61.6" stroke="#111" stroke-width="1.1"/>
<line x1="661.7" y1="58" x2="661.7" y2="61.6" stroke="#111" stroke-width="1.1"/>
<line x1="652.3" y1="58" x2="652.3" y2="61.6" stroke="#111" stroke-width="1.1"/>
<line x1="642.9" y1="58" x2="642.9" y2="61.6" stroke="#111" stroke-width="1.1"/>
<line x1="633.5" y1="58" x2="633.5" y2="61.6" stroke="#111" stroke-width="1.1"/>
<line x1="624.1" y1="58" x2="624.1" y2="61.6" stroke="#111" stroke-width="1.1"/>
<line x1="614.6" y1="58" x2="614.6" y2="61.6" stroke="#111" stroke-width="1.1"/>
<line x1="605.2" y1="58" x2="605.2" y2="61.6" stroke="#111" stroke-width="1.1"/>
<line x1="595.8" y1="58" x2="595.8" y2="64.6" stroke="#111" stroke-width="1.1"/>
<line x1="586.4" y1="58" x2="586.4" y2="61.6" stroke="#111" stroke-width="1.1"/>
<line x1="577.0" y1="58" x2="577.0" y2="61.6" stroke="#111" stroke-width="1.1"/>
<line x1="567.5" y1="58" x2="567.5" y2="61.6" stroke="#111" stroke-width="1.1"/>
<line x1="558.1" y1="58" x2="558.1" y2="61.6" stroke="#111" stroke-width="1.1"/>
<line x1="548.7" y1="58" x2="548.7" y2="61.6" stroke="#111" stroke-width="1.1"/>
<line x1="539.3" y1="58" x2="539.3" y2="61.6" stroke="#111" stroke-width="1.1"/>
<line x1="529.9" y1="58" x2="529.9" y2="61.6" stroke="#111" stroke-width="1.1"/>
<line x1="520.4" y1="58" x2="520.4" y2="61.6" stroke="#111" stroke-width="1.1"/>
<line x1="511.0" y1="58" x2="511.0" y2="61.6" stroke="#111" stroke-width="1.1"/>
<line x1="501.6" y1="58" x2="501.6" y2="64.6" stroke="#111" stroke-width="1.1"/>
<line x1="492.2" y1="58" x2="492.2" y2="61.6" stroke="#111" stroke-width="1.1"/>
<line x1="482.8" y1="58" x2="482.8" y2="61.6" stroke="#111" stroke-width="1.1"/>
<line x1="473.3" y1="58" x2="473.3" y2="61.6" stroke="#111" stroke-width="1.1"/>
<line x1="463.9" y1="58" x2="463.9" y2="61.6" stroke="#111" stroke-width="1.1"/>
<line x1="454.5" y1="58" x2="454.5" y2="61.6" stroke="#111" stroke-width="1.1"/>
<line x1="445.1" y1="58" x2="445.1" y2="61.6" stroke="#111" stroke-width="1.1"/>
<line x1="435.7" y1="58" x2="435.7" y2="61.6" stroke="#111" stroke-width="1.1"/>
<line x1="426.2" y1="58" x2="426.2" y2="61.6" stroke="#111" stroke-width="1.1"/>
<line x1="416.8" y1="58" x2="416.8" y2="61.6" stroke="#111" stroke-width="1.1"/>
<line x1="407.4" y1="58" x2="407.4" y2="64.6" stroke="#111" stroke-width="1.1"/>
<line x1="398.0" y1="58" x2="398.0" y2="61.6" stroke="#111" stroke-width="1.1"/>
<line x1="388.6" y1="58" x2="388.6" y2="61.6" stroke="#111" stroke-width="1.1"/>
<line x1="379.1" y1="58" x2="379.1" y2="61.6" stroke="#111" stroke-width="1.1"/>
<line x1="369.7" y1="58" x2="369.7" y2="61.6" stroke="#111" stroke-width="1.1"/>
<line x1="360.3" y1="58" x2="360.3" y2="61.6" stroke="#111" stroke-width="1.1"/>
<line x1="350.9" y1="58" x2="350.9" y2="61.6" stroke="#111" stroke-width="1.1"/>
<line x1="341.5" y1="58" x2="341.5" y2="61.6" stroke="#111" stroke-width="1.1"/>
<line x1="332.0" y1="58" x2="332.0" y2="61.6" stroke="#111" stroke-width="1.1"/>
<line x1="322.6" y1="58" x2="322.6" y2="61.6" stroke="#111" stroke-width="1.1"/>
<line x1="313.2" y1="58" x2="313.2" y2="64.6" stroke="#111" stroke-width="1.1"/>
<line x1="303.8" y1="58" x2="303.8" y2="61.6" stroke="#111" stroke-width="1.1"/>
<line x1="294.4" y1="58" x2="294.4" y2="61.6" stroke="#111" stroke-width="1.1"/>
<line x1="284.9" y1="58" x2="284.9" y2="61.6" stroke="#111" stroke-width="1.1"/>
<line x1="275.5" y1="58" x2="275.5" y2="61.6" stroke="#111" stroke-width="1.1"/>
<line x1="266.1" y1="58" x2="266.1" y2="61.6" stroke="#111" stroke-width="1.1"/>
<line x1="256.7" y1="58" x2="256.7" y2="61.6" stroke="#111" stroke-width="1.1"/>
<line x1="247.3" y1="58" x2="247.3" y2="61.6" stroke="#111" stroke-width="1.1"/>
<line x1="237.8" y1="58" x2="237.8" y2="61.6" stroke="#111" stroke-width="1.1"/>
<line x1="228.4" y1="58" x2="228.4" y2="61.6" stroke="#111" stroke-width="1.1"/>
<line x1="219.0" y1="58" x2="219.0" y2="64.6" stroke="#111" stroke-width="1.1"/>
<line x1="209.6" y1="58" x2="209.6" y2="61.6" stroke="#111" stroke-width="1.1"/>
<line x1="200.2" y1="58" x2="200.2" y2="61.6" stroke="#111" stroke-width="1.1"/>
<line x1="190.7" y1="58" x2="190.7" y2="61.6" stroke="#111" stroke-width="1.1"/>
<line x1="181.3" y1="58" x2="181.3" y2="61.6" stroke="#111" stroke-width="1.1"/>
<line x1="171.9" y1="58" x2="171.9" y2="61.6" stroke="#111" stroke-width="1.1"/>
<line x1="162.5" y1="58" x2="162.5" y2="61.6" stroke="#111" stroke-width="1.1"/>
<line x1="153.1" y1="58" x2="153.1" y2="61.6" stroke="#111" stroke-width="1.1"/>
<line x1="143.6" y1="58" x2="143.6" y2="61.6" stroke="#111" stroke-width="1.1"/>
<line x1="134.2" y1="58" x2="134.2" y2="61.6" stroke="#111" stroke-width="1.1"/>
<line x1="124.8" y1="58" x2="124.8" y2="64.6" stroke="#111" stroke-width="1.1"/>
<line x1="115.4" y1="58" x2="115.4" y2="61.6" stroke="#111" stroke-width="1.1"/>
<line x1="106.0" y1="58" x2="106.0" y2="61.6" stroke="#111" stroke-width="1.1"/>
<line x1="96.5" y1="58" x2="96.5" y2="61.6" stroke="#111" stroke-width="1.1"/>
<line x1="87.1" y1="58" x2="87.1" y2="61.6" stroke="#111" stroke-width="1.1"/>
<line x1="76.2" y1="719.4" x2="691.4" y2="719.4" stroke="#111" stroke-width="3.2"/>
<line x1="680.6" y1="719.4" x2="680.6" y2="715.8" stroke="#111" stroke-width="1.1"/>
<line x1="671.2" y1="719.4" x2="671.2" y2="715.8" stroke="#111" stroke-width="1.1"/>
<line x1="661.7" y1="719.4" x2="661.7" y2="715.8" stroke="#111" stroke-width="1.1"/>
<line x1="652.3" y1="719.4" x2="652.3" y2="715.8" stroke="#111" stroke-width="1.1"/>
<line x1="642.9" y1="719.4" x2="642.9" y2="715.8" stroke="#111" stroke-width="1.1"/>
<line x1="633.5" y1="719.4" x2="633.5" y2="715.8" stroke="#111" stroke-width="1.1"/>
<line x1="624.1" y1="719.4" x2="624.1" y2="715.8" stroke="#111" stroke-width="1.1"/>
<line x1="614.6" y1="719.4" x2="614.6" y2="715.8" stroke="#111" stroke-width="1.1"/>
<line x1="605.2" y1="719.4" x2="605.2" y2="715.8" stroke="#111" stroke-width="1.1"/>
<line x1="595.8" y1="719.4" x2="595.8" y2="712.8" stroke="#111" stroke-width="1.1"/>
<line x1="586.4" y1="719.4" x2="586.4" y2="715.8" stroke="#111" stroke-width="1.1"/>
<line x1="577.0" y1="719.4" x2="577.0" y2="715.8" stroke="#111" stroke-width="1.1"/>
<line x1="567.5" y1="719.4" x2="567.5" y2="715.8" stroke="#111" stroke-width="1.1"/>
<line x1="558.1" y1="719.4" x2="558.1" y2="715.8" stroke="#111" stroke-width="1.1"/>
<line x1="548.7" y1="719.4" x2="548.7" y2="715.8" stroke="#111" stroke-width="1.1"/>
<line x1="539.3" y1="719.4" x2="539.3" y2="715.8" stroke="#111" stroke-width="1.1"/>
<line x1="529.9" y1="719.4" x2="529.9" y2="715.8" stroke="#111" stroke-width="1.1"/>
<line x1="520.4" y1="719.4" x2="520.4" y2="715.8" stroke="#111" stroke-width="1.1"/>
<line x1="511.0" y1="719.4" x2="511.0" y2="715.8" stroke="#111" stroke-width="1.1"/>
<line x1="501.6" y1="719.4" x2="501.6" y2="712.8" stroke="#111" stroke-width="1.1"/>
<line x1="492.2" y1="719.4" x2="492.2" y2="715.8" stroke="#111" stroke-width="1.1"/>
<line x1="482.8" y1="719.4" x2="482.8" y2="715.8" stroke="#111" stroke-width="1.1"/>
<line x1="473.3" y1="719.4" x2="473.3" y2="715.8" stroke="#111" stroke-width="1.1"/>
<line x1="463.9" y1="719.4" x2="463.9" y2="715.8" stroke="#111" stroke-width="1.1"/>
<line x1="454.5" y1="719.4" x2="454.5" y2="715.8" stroke="#111" stroke-width="1.1"/>
<line x1="445.1" y1="719.4" x2="445.1" y2="715.8" stroke="#111" stroke-width="1.1"/>
<line x1="435.7" y1="719.4" x2="435.7" y2="715.8" stroke="#111" stroke-width="1.1"/>
<line x1="426.2" y1="719.4" x2="426.2" y2="715.8" stroke="#111" stroke-width="1.1"/>
<line x1="416.8" y1="719.4" x2="416.8" y2="715.8" stroke="#111" stroke-width="1.1"/>
<line x1="407.4" y1="719.4" x2="407.4" y2="712.8" stroke="#111" stroke-width="1.1"/>
<line x1="398.0" y1="719.4" x2="398.0" y2="715.8" stroke="#111" stroke-width="1.1"/>
<line x1="388.6" y1="719.4" x2="388.6" y2="715.8" stroke="#111" stroke-width="1.1"/>
<line x1="379.1" y1="719.4" x2="379.1" y2="715.8" stroke="#111" stroke-width="1.1"/>
<line x1="369.7" y1="719.4" x2="369.7" y2="715.8" stroke="#111" stroke-width="1.1"/>
<line x1="360.3" y1="719.4" x2="360.3" y2="715.8" stroke="#111" stroke-width="1.1"/>
<line x1="350.9" y1="719.4" x2="350.9" y2="715.8" stroke="#111" stroke-width="1.1"/>
<line x1="341.5" y1="719.4" x2="341.5" y2="715.8" stroke="#111" stroke-width="1.1"/>
<line x1="332.0" y1="719.4" x2="332.0" y2="715.8" stroke="#111" stroke-width="1.1"/>
<line x1="322.6" y1="719.4" x2="322.6" y2="715.8" stroke="#111" stroke-width="1.1"/>
<line x1="313.2" y1="719.4" x2="313.2" y2="712.8" stroke="#111" stroke-width="1.1"/>
<line x1="303.8" y1="719.4" x2="303.8" y2="715.8" stroke="#111" stroke-width="1.1"/>
<line x1="294.4" y1="719.4" x2="294.4" y2="715.8" stroke="#111" stroke-width="1.1"/>
<line x1="284.9" y1="719.4" x2="284.9" y2="715.8" stroke="#111" stroke-width="1.1"/>
<line x1="275.5" y1="719.4" x2="275.5" y2="715.8" stroke="#111" stroke-width="1.1"/>
<line x1="266.1" y1="719.4" x2="266.1" y2="715.8" stroke="#111" stroke-width="1.1"/>
<line x1="256.7" y1="719.4" x2="256.7" y2="715.8" stroke="#111" stroke-width="1.1"/>
<line x1="247.3" y1="719.4" x2="247.3" y2="715.8" stroke="#111" stroke-width="1.1"/>
<line x1="237.8" y1="719.4" x2="237.8" y2="715.8" stroke="#111" stroke-width="1.1"/>
<line x1="228.4" y1="719.4" x2="228.4" y2="715.8" stroke="#111" stroke-width="1.1"/>
<line x1="219.0" y1="719.4" x2="219.0" y2="712.8" stroke="#111" stroke-width="1.1"/>
<line x1="209.6" y1="719.4" x2="209.6" y2="715.8" stroke="#111" stroke-width="1.1"/>
<line x1="200.2" y1="719.4" x2="200.2" y2="715.8" stroke="#111" stroke-width="1.1"/>
<line x1="190.7" y1="719.4" x2="190.7" y2="715.8" stroke="#111" stroke-width="1.1"/>
<line x1="181.3" y1="719.4" x2="181.3" y2="715.8" stroke="#111" stroke-width="1.1"/>
<line x1="171.9" y1="719.4" x2="171.9" y2="715.8" stroke="#111" stroke-width="1.1"/>
<line x1="162.5" y1="719.4" x2="162.5" y2="715.8" stroke="#111" stroke-width="1.1"/>
<line x1="153.1" y1="719.4" x2="153.1" y2="715.8" stroke="#111" stroke-width="1.1"/>
<line x1="143.6" y1="719.4" x2="143.6" y2="715.8" stroke="#111" stroke-width="1.1"/>
<line x1="134.2" y1="719.4" x2="134.2" y2="715.8" stroke="#111" stroke-width="1.1"/>
<line x1="124.8" y1="719.4" x2="124.8" y2="712.8" stroke="#111" stroke-width="1.1"/>
<line x1="115.4" y1="719.4" x2="115.4" y2="715.8" stroke="#111" stroke-width="1.1"/>
<line x1="106.0" y1="719.4" x2="106.0" y2="715.8" stroke="#111" stroke-width="1.1"/>
<line x1="96.5" y1="719.4" x2="96.5" y2="715.8" stroke="#111" stroke-width="1.1"/>
<line x1="87.1" y1="719.4" x2="87.1" y2="715.8" stroke="#111" stroke-width="1.1"/>
<line x1="75.6" y1="644.8" x2="691.8" y2="644.8" stroke="#111" stroke-width="3.4"/>
<line x1="680.6" y1="644.8" x2="680.6" y2="640.8" stroke="#111" stroke-width="1.1"/>
<line x1="671.2" y1="644.8" x2="671.2" y2="640.8" stroke="#111" stroke-width="1.1"/>
<line x1="661.7" y1="644.8" x2="661.7" y2="640.8" stroke="#111" stroke-width="1.1"/>
<line x1="652.3" y1="644.8" x2="652.3" y2="640.8" stroke="#111" stroke-width="1.1"/>
<line x1="642.9" y1="644.8" x2="642.9" y2="640.8" stroke="#111" stroke-width="1.1"/>
<line x1="633.5" y1="644.8" x2="633.5" y2="640.8" stroke="#111" stroke-width="1.1"/>
<line x1="624.1" y1="644.8" x2="624.1" y2="640.8" stroke="#111" stroke-width="1.1"/>
<line x1="614.6" y1="644.8" x2="614.6" y2="640.8" stroke="#111" stroke-width="1.1"/>
<line x1="605.2" y1="644.8" x2="605.2" y2="640.8" stroke="#111" stroke-width="1.1"/>
<line x1="595.8" y1="644.8" x2="595.8" y2="638.1999999999999" stroke="#111" stroke-width="1.1"/>
<line x1="586.4" y1="644.8" x2="586.4" y2="640.8" stroke="#111" stroke-width="1.1"/>
<line x1="577.0" y1="644.8" x2="577.0" y2="640.8" stroke="#111" stroke-width="1.1"/>
<line x1="567.5" y1="644.8" x2="567.5" y2="640.8" stroke="#111" stroke-width="1.1"/>
<line x1="558.1" y1="644.8" x2="558.1" y2="640.8" stroke="#111" stroke-width="1.1"/>
<line x1="548.7" y1="644.8" x2="548.7" y2="640.8" stroke="#111" stroke-width="1.1"/>
<line x1="539.3" y1="644.8" x2="539.3" y2="640.8" stroke="#111" stroke-width="1.1"/>
<line x1="529.9" y1="644.8" x2="529.9" y2="640.8" stroke="#111" stroke-width="1.1"/>
<line x1="520.4" y1="644.8" x2="520.4" y2="640.8" stroke="#111" stroke-width="1.1"/>
<line x1="511.0" y1="644.8" x2="511.0" y2="640.8" stroke="#111" stroke-width="1.1"/>
<line x1="501.6" y1="644.8" x2="501.6" y2="638.1999999999999" stroke="#111" stroke-width="1.1"/>
<line x1="492.2" y1="644.8" x2="492.2" y2="640.8" stroke="#111" stroke-width="1.1"/>
<line x1="482.8" y1="644.8" x2="482.8" y2="640.8" stroke="#111" stroke-width="1.1"/>
<line x1="473.3" y1="644.8" x2="473.3" y2="640.8" stroke="#111" stroke-width="1.1"/>
<line x1="463.9" y1="644.8" x2="463.9" y2="640.8" stroke="#111" stroke-width="1.1"/>
<line x1="454.5" y1="644.8" x2="454.5" y2="640.8" stroke="#111" stroke-width="1.1"/>
<line x1="445.1" y1="644.8" x2="445.1" y2="640.8" stroke="#111" stroke-width="1.1"/>
<line x1="435.7" y1="644.8" x2="435.7" y2="640.8" stroke="#111" stroke-width="1.1"/>
<line x1="426.2" y1="644.8" x2="426.2" y2="640.8" stroke="#111" stroke-width="1.1"/>
<line x1="416.8" y1="644.8" x2="416.8" y2="640.8" stroke="#111" stroke-width="1.1"/>
<line x1="407.4" y1="644.8" x2="407.4" y2="638.1999999999999" stroke="#111" stroke-width="1.1"/>
<line x1="398.0" y1="644.8" x2="398.0" y2="640.8" stroke="#111" stroke-width="1.1"/>
<line x1="388.6" y1="644.8" x2="388.6" y2="640.8" stroke="#111" stroke-width="1.1"/>
<line x1="379.1" y1="644.8" x2="379.1" y2="640.8" stroke="#111" stroke-width="1.1"/>
<line x1="369.7" y1="644.8" x2="369.7" y2="640.8" stroke="#111" stroke-width="1.1"/>
<line x1="360.3" y1="644.8" x2="360.3" y2="640.8" stroke="#111" stroke-width="1.1"/>
<line x1="350.9" y1="644.8" x2="350.9" y2="640.8" stroke="#111" stroke-width="1.1"/>
<line x1="341.5" y1="644.8" x2="341.5" y2="640.8" stroke="#111" stroke-width="1.1"/>
<line x1="332.0" y1="644.8" x2="332.0" y2="640.8" stroke="#111" stroke-width="1.1"/>
<line x1="322.6" y1="644.8" x2="322.6" y2="640.8" stroke="#111" stroke-width="1.1"/>
<line x1="313.2" y1="644.8" x2="313.2" y2="638.1999999999999" stroke="#111" stroke-width="1.1"/>
<line x1="303.8" y1="644.8" x2="303.8" y2="640.8" stroke="#111" stroke-width="1.1"/>
<line x1="294.4" y1="644.8" x2="294.4" y2="640.8" stroke="#111" stroke-width="1.1"/>
<line x1="284.9" y1="644.8" x2="284.9" y2="640.8" stroke="#111" stroke-width="1.1"/>
<line x1="275.5" y1="644.8" x2="275.5" y2="640.8" stroke="#111" stroke-width="1.1"/>
<line x1="266.1" y1="644.8" x2="266.1" y2="640.8" stroke="#111" stroke-width="1.1"/>
<line x1="256.7" y1="644.8" x2="256.7" y2="640.8" stroke="#111" stroke-width="1.1"/>
<line x1="247.3" y1="644.8" x2="247.3" y2="640.8" stroke="#111" stroke-width="1.1"/>
<line x1="237.8" y1="644.8" x2="237.8" y2="640.8" stroke="#111" stroke-width="1.1"/>
<line x1="228.4" y1="644.8" x2="228.4" y2="640.8" stroke="#111" stroke-width="1.1"/>
<line x1="219.0" y1="644.8" x2="219.0" y2="638.1999999999999" stroke="#111" stroke-width="1.1"/>
<line x1="209.6" y1="644.8" x2="209.6" y2="640.8" stroke="#111" stroke-width="1.1"/>
<line x1="200.2" y1="644.8" x2="200.2" y2="640.8" stroke="#111" stroke-width="1.1"/>
<line x1="190.7" y1="644.8" x2="190.7" y2="640.8" stroke="#111" stroke-width="1.1"/>
<line x1="181.3" y1="644.8" x2="181.3" y2="640.8" stroke="#111" stroke-width="1.1"/>
<line x1="171.9" y1="644.8" x2="171.9" y2="640.8" stroke="#111" stroke-width="1.1"/>
<line x1="162.5" y1="644.8" x2="162.5" y2="640.8" stroke="#111" stroke-width="1.1"/>
<line x1="153.1" y1="644.8" x2="153.1" y2="640.8" stroke="#111" stroke-width="1.1"/>
<line x1="143.6" y1="644.8" x2="143.6" y2="640.8" stroke="#111" stroke-width="1.1"/>
<line x1="134.2" y1="644.8" x2="134.2" y2="640.8" stroke="#111" stroke-width="1.1"/>
<line x1="124.8" y1="644.8" x2="124.8" y2="638.1999999999999" stroke="#111" stroke-width="1.1"/>
<line x1="115.4" y1="644.8" x2="115.4" y2="640.8" stroke="#111" stroke-width="1.1"/>
<line x1="106.0" y1="644.8" x2="106.0" y2="640.8" stroke="#111" stroke-width="1.1"/>
<line x1="96.5" y1="644.8" x2="96.5" y2="640.8" stroke="#111" stroke-width="1.1"/>
<line x1="87.1" y1="644.8" x2="87.1" y2="640.8" stroke="#111" stroke-width="1.1"/>
<line x1="77.2" y1="118.18" x2="77.2" y2="289.1" stroke="#111" stroke-width="2.2"/>
<line x1="67.2" y1="288.6" x2="77.2" y2="288.6" stroke="#111" stroke-width="1.1"/>
<line x1="67.2" y1="260.3" x2="77.2" y2="260.3" stroke="#111" stroke-width="1.1"/>
<line x1="67.2" y1="232.0" x2="77.2" y2="232.0" stroke="#111" stroke-width="1.1"/>
<line x1="67.2" y1="203.6" x2="77.2" y2="203.6" stroke="#111" stroke-width="1.1"/>
<line x1="67.2" y1="175.3" x2="77.2" y2="175.3" stroke="#111" stroke-width="1.1"/>
<line x1="67.2" y1="147.0" x2="77.2" y2="147.0" stroke="#111" stroke-width="1.1"/>
<line x1="67.2" y1="118.7" x2="77.2" y2="118.7" stroke="#111" stroke-width="1.1"/>
<line x1="706.8" y1="71.0" x2="706.8" y2="402.0" stroke="#111" stroke-width="2.2"/>
<line x1="706.8" y1="71.5" x2="717.3" y2="71.5" stroke="#111" stroke-width="1.1"/>
<line x1="706.8" y1="82.5" x2="713.0999999999999" y2="82.5" stroke="#111" stroke-width="1.1"/>
<line x1="706.8" y1="93.5" x2="713.0999999999999" y2="93.5" stroke="#111" stroke-width="1.1"/>
<line x1="706.8" y1="104.5" x2="713.0999999999999" y2="104.5" stroke="#111" stroke-width="1.1"/>
<line x1="706.8" y1="115.5" x2="713.0999999999999" y2="115.5" stroke="#111" stroke-width="1.1"/>
<line x1="706.8" y1="126.5" x2="717.3" y2="126.5" stroke="#111" stroke-width="1.1"/>
<line x1="706.8" y1="137.5" x2="713.0999999999999" y2="137.5" stroke="#111" stroke-width="1.1"/>
<line x1="706.8" y1="148.5" x2="713.0999999999999" y2="148.5" stroke="#111" stroke-width="1.1"/>
<line x1="706.8" y1="159.5" x2="713.0999999999999" y2="159.5" stroke="#111" stroke-width="1.1"/>
<line x1="706.8" y1="170.5" x2="713.0999999999999" y2="170.5" stroke="#111" stroke-width="1.1"/>
<line x1="706.8" y1="181.5" x2="717.3" y2="181.5" stroke="#111" stroke-width="1.1"/>
<line x1="706.8" y1="192.5" x2="713.0999999999999" y2="192.5" stroke="#111" stroke-width="1.1"/>
<line x1="706.8" y1="203.5" x2="713.0999999999999" y2="203.5" stroke="#111" stroke-width="1.1"/>
<line x1="706.8" y1="214.5" x2="713.0999999999999" y2="214.5" stroke="#111" stroke-width="1.1"/>
<line x1="706.8" y1="225.5" x2="713.0999999999999" y2="225.5" stroke="#111" stroke-width="1.1"/>
<line x1="706.8" y1="236.5" x2="717.3" y2="236.5" stroke="#111" stroke-width="1.1"/>
<line x1="706.8" y1="247.5" x2="713.0999999999999" y2="247.5" stroke="#111" stroke-width="1.1"/>
<line x1="706.8" y1="258.5" x2="713.0999999999999" y2="258.5" stroke="#111" stroke-width="1.1"/>
<line x1="706.8" y1="269.5" x2="713.0999999999999" y2="269.5" stroke="#111" stroke-width="1.1"/>
<line x1="706.8" y1="280.5" x2="713.0999999999999" y2="280.5" stroke="#111" stroke-width="1.1"/>
<line x1="706.8" y1="291.5" x2="717.3" y2="291.5" stroke="#111" stroke-width="1.1"/>
<line x1="706.8" y1="302.5" x2="713.0999999999999" y2="302.5" stroke="#111" stroke-width="1.1"/>
<line x1="706.8" y1="313.5" x2="713.0999999999999" y2="313.5" stroke="#111" stroke-width="1.1"/>
<line x1="706.8" y1="324.5" x2="713.0999999999999" y2="324.5" stroke="#111" stroke-width="1.1"/>
<line x1="706.8" y1="335.5" x2="713.0999999999999" y2="335.5" stroke="#111" stroke-width="1.1"/>
<line x1="706.8" y1="346.5" x2="717.3" y2="346.5" stroke="#111" stroke-width="1.1"/>
<line x1="706.8" y1="357.5" x2="713.0999999999999" y2="357.5" stroke="#111" stroke-width="1.1"/>
<line x1="706.8" y1="368.5" x2="713.0999999999999" y2="368.5" stroke="#111" stroke-width="1.1"/>
<line x1="706.8" y1="379.5" x2="713.0999999999999" y2="379.5" stroke="#111" stroke-width="1.1"/>
<line x1="706.8" y1="390.5" x2="713.0999999999999" y2="390.5" stroke="#111" stroke-width="1.1"/>
<line x1="706.8" y1="401.5" x2="717.3" y2="401.5" stroke="#111" stroke-width="1.1"/>
<line x1="78.2" y1="338.8" x2="78.2" y2="644.8" stroke="#111" stroke-width="2.7"/>
<line x1="690.6" y1="338.8" x2="690.6" y2="644.8" stroke="#111" stroke-width="2.7"/>
<line x1="78.2" y1="644.6" x2="85.0" y2="644.6" stroke="#111" stroke-width="1.1"/>
<line x1="690.6" y1="644.6" x2="683.8000000000001" y2="644.6" stroke="#111" stroke-width="1.1"/>
<line x1="78.2" y1="635.9" x2="82.0" y2="635.9" stroke="#111" stroke-width="1.1"/>
<line x1="690.6" y1="635.9" x2="686.8000000000001" y2="635.9" stroke="#111" stroke-width="1.1"/>
<line x1="78.2" y1="627.2" x2="82.0" y2="627.2" stroke="#111" stroke-width="1.1"/>
<line x1="690.6" y1="627.2" x2="686.8000000000001" y2="627.2" stroke="#111" stroke-width="1.1"/>
<line x1="78.2" y1="618.4" x2="82.0" y2="618.4" stroke="#111" stroke-width="1.1"/>
<line x1="690.6" y1="618.4" x2="686.8000000000001" y2="618.4" stroke="#111" stroke-width="1.1"/>
<line x1="78.2" y1="609.7" x2="82.0" y2="609.7" stroke="#111" stroke-width="1.1"/>
<line x1="690.6" y1="609.7" x2="686.8000000000001" y2="609.7" stroke="#111" stroke-width="1.1"/>
<line x1="78.2" y1="601.0" x2="85.0" y2="601.0" stroke="#111" stroke-width="1.1"/>
<line x1="690.6" y1="601.0" x2="683.8000000000001" y2="601.0" stroke="#111" stroke-width="1.1"/>
<line x1="78.2" y1="592.3" x2="82.0" y2="592.3" stroke="#111" stroke-width="1.1"/>
<line x1="690.6" y1="592.3" x2="686.8000000000001" y2="592.3" stroke="#111" stroke-width="1.1"/>
<line x1="78.2" y1="583.6" x2="82.0" y2="583.6" stroke="#111" stroke-width="1.1"/>
<line x1="690.6" y1="583.6" x2="686.8000000000001" y2="583.6" stroke="#111" stroke-width="1.1"/>
<line x1="78.2" y1="574.8" x2="82.0" y2="574.8" stroke="#111" stroke-width="1.1"/>
<line x1="690.6" y1="574.8" x2="686.8000000000001" y2="574.8" stroke="#111" stroke-width="1.1"/>
<line x1="78.2" y1="566.1" x2="82.0" y2="566.1" stroke="#111" stroke-width="1.1"/>
<line x1="690.6" y1="566.1" x2="686.8000000000001" y2="566.1" stroke="#111" stroke-width="1.1"/>
<line x1="78.2" y1="557.4" x2="85.0" y2="557.4" stroke="#111" stroke-width="1.1"/>
<line x1="690.6" y1="557.4" x2="683.8000000000001" y2="557.4" stroke="#111" stroke-width="1.1"/>
<line x1="78.2" y1="548.7" x2="82.0" y2="548.7" stroke="#111" stroke-width="1.1"/>
<line x1="690.6" y1="548.7" x2="686.8000000000001" y2="548.7" stroke="#111" stroke-width="1.1"/>
<line x1="78.2" y1="540.0" x2="82.0" y2="540.0" stroke="#111" stroke-width="1.1"/>
<line x1="690.6" y1="540.0" x2="686.8000000000001" y2="540.0" stroke="#111" stroke-width="1.1"/>
<line x1="78.2" y1="531.2" x2="82.0" y2="531.2" stroke="#111" stroke-width="1.1"/>
<line x1="690.6" y1="531.2" x2="686.8000000000001" y2="531.2" stroke="#111" stroke-width="1.1"/>
<line x1="78.2" y1="522.5" x2="82.0" y2="522.5" stroke="#111" stroke-width="1.1"/>
<line x1="690.6" y1="522.5" x2="686.8000000000001" y2="522.5" stroke="#111" stroke-width="1.1"/>
<line x1="78.2" y1="513.8" x2="85.0" y2="513.8" stroke="#111" stroke-width="1.1"/>
<line x1="690.6" y1="513.8" x2="683.8000000000001" y2="513.8" stroke="#111" stroke-width="1.1"/>
<line x1="78.2" y1="505.1" x2="82.0" y2="505.1" stroke="#111" stroke-width="1.1"/>
<line x1="690.6" y1="505.1" x2="686.8000000000001" y2="505.1" stroke="#111" stroke-width="1.1"/>
<line x1="78.2" y1="496.4" x2="82.0" y2="496.4" stroke="#111" stroke-width="1.1"/>
<line x1="690.6" y1="496.4" x2="686.8000000000001" y2="496.4" stroke="#111" stroke-width="1.1"/>
<line x1="78.2" y1="487.6" x2="82.0" y2="487.6" stroke="#111" stroke-width="1.1"/>
<line x1="690.6" y1="487.6" x2="686.8000000000001" y2="487.6" stroke="#111" stroke-width="1.1"/>
<line x1="78.2" y1="478.9" x2="82.0" y2="478.9" stroke="#111" stroke-width="1.1"/>
<line x1="690.6" y1="478.9" x2="686.8000000000001" y2="478.9" stroke="#111" stroke-width="1.1"/>
<line x1="78.2" y1="470.2" x2="85.0" y2="470.2" stroke="#111" stroke-width="1.1"/>
<line x1="690.6" y1="470.2" x2="683.8000000000001" y2="470.2" stroke="#111" stroke-width="1.1"/>
<line x1="78.2" y1="461.5" x2="82.0" y2="461.5" stroke="#111" stroke-width="1.1"/>
<line x1="690.6" y1="461.5" x2="686.8000000000001" y2="461.5" stroke="#111" stroke-width="1.1"/>
<line x1="78.2" y1="452.8" x2="82.0" y2="452.8" stroke="#111" stroke-width="1.1"/>
<line x1="690.6" y1="452.8" x2="686.8000000000001" y2="452.8" stroke="#111" stroke-width="1.1"/>
<line x1="78.2" y1="444.0" x2="82.0" y2="444.0" stroke="#111" stroke-width="1.1"/>
<line x1="690.6" y1="444.0" x2="686.8000000000001" y2="444.0" stroke="#111" stroke-width="1.1"/>
<line x1="78.2" y1="435.3" x2="82.0" y2="435.3" stroke="#111" stroke-width="1.1"/>
<line x1="690.6" y1="435.3" x2="686.8000000000001" y2="435.3" stroke="#111" stroke-width="1.1"/>
<line x1="78.2" y1="426.6" x2="85.0" y2="426.6" stroke="#111" stroke-width="1.1"/>
<line x1="690.6" y1="426.6" x2="683.8000000000001" y2="426.6" stroke="#111" stroke-width="1.1"/>
<line x1="78.2" y1="417.9" x2="82.0" y2="417.9" stroke="#111" stroke-width="1.1"/>
<line x1="690.6" y1="417.9" x2="686.8000000000001" y2="417.9" stroke="#111" stroke-width="1.1"/>
<line x1="78.2" y1="409.2" x2="82.0" y2="409.2" stroke="#111" stroke-width="1.1"/>
<line x1="690.6" y1="409.2" x2="686.8000000000001" y2="409.2" stroke="#111" stroke-width="1.1"/>
<line x1="78.2" y1="400.4" x2="82.0" y2="400.4" stroke="#111" stroke-width="1.1"/>
<line x1="690.6" y1="400.4" x2="686.8000000000001" y2="400.4" stroke="#111" stroke-width="1.1"/>
<line x1="78.2" y1="391.7" x2="82.0" y2="391.7" stroke="#111" stroke-width="1.1"/>
<line x1="690.6" y1="391.7" x2="686.8000000000001" y2="391.7" stroke="#111" stroke-width="1.1"/>
<line x1="78.2" y1="383.0" x2="85.0" y2="383.0" stroke="#111" stroke-width="1.1"/>
<line x1="690.6" y1="383.0" x2="683.8000000000001" y2="383.0" stroke="#111" stroke-width="1.1"/>
<line x1="78.2" y1="374.3" x2="82.0" y2="374.3" stroke="#111" stroke-width="1.1"/>
<line x1="690.6" y1="374.3" x2="686.8000000000001" y2="374.3" stroke="#111" stroke-width="1.1"/>
<line x1="78.2" y1="365.6" x2="82.0" y2="365.6" stroke="#111" stroke-width="1.1"/>
<line x1="690.6" y1="365.6" x2="686.8000000000001" y2="365.6" stroke="#111" stroke-width="1.1"/>
<line x1="78.2" y1="356.8" x2="82.0" y2="356.8" stroke="#111" stroke-width="1.1"/>
<line x1="690.6" y1="356.8" x2="686.8000000000001" y2="356.8" stroke="#111" stroke-width="1.1"/>
<line x1="78.2" y1="348.1" x2="82.0" y2="348.1" stroke="#111" stroke-width="1.1"/>
<line x1="690.6" y1="348.1" x2="686.8000000000001" y2="348.1" stroke="#111" stroke-width="1.1"/>
<line x1="78.2" y1="339.4" x2="82.0" y2="339.4" stroke="#111" stroke-width="1.1"/>
<line x1="690.6" y1="339.4" x2="686.8000000000001" y2="339.4" stroke="#111" stroke-width="1.1"/>
<path fill="#111" d="M192.9 149.9L198.5 162.8L195.20000000000002 160.6L195.20000000000002 190.3L190.6 190.3L190.6 160.6L187.3 162.8Z"/>
<path fill="#111" d="M173.3 213.2L178.9 226.1L175.60000000000002 223.89999999999998L175.60000000000002 266.9L171.0 266.9L171.0 223.89999999999998L167.70000000000002 226.1Z"/>
<path fill="#111" d="M298.6 210L304.20000000000005 222.9L300.90000000000003 220.7L300.90000000000003 250.6L296.3 250.6L296.3 220.7L293.0 222.9Z"/>
<path fill="#111" d="M377.7 295L383.3 307.9L380.0 305.7L380.0 335.8L375.4 335.8L375.4 305.7L372.09999999999997 307.9Z"/>
<path fill="#111" d="M548.2 255.8L553.8000000000001 268.7L550.5 266.5L550.5 296L545.9000000000001 296L545.9000000000001 266.5L542.6 268.7Z"/>
<rect x="200" y="97" width="21" height="6" fill="#111"/>
<polyline fill="none" stroke="#111" stroke-width="1.1" points="339.6,449 375.4,416.3 392,416.3"/>
<polyline fill="none" stroke="#111" stroke-width="1.1" points="294.5,589 317.5,589 360,557.6"/>
<text x="384.6" y="14.6" text-anchor="middle" word-spacing="2">Age (Ma)</text>
<text x="384.6" y="775.3" text-anchor="middle" word-spacing="2">Age (Ma)</text>
<text x="689.0" y="46.7" text-anchor="middle" >0</text>
<text x="689.0" y="746.8" text-anchor="middle" >0</text>
<text x="594.8" y="46.7" text-anchor="middle" >10</text>
<text x="594.8" y="746.8" text-anchor="middle" >10</text>
<text x="500.6" y="46.7" text-anchor="middle" >20</text>
<text x="500.6" y="746.8" text-anchor="middle" >20</text>
<text x="406.4" y="46.7" text-anchor="middle" >30</text>
<text x="406.4" y="746.8" text-anchor="middle" >30</text>
<text x="312.2" y="46.7" text-anchor="middle" >40</text>
<text x="312.2" y="746.8" text-anchor="middle" >40</text>
<text x="218.0" y="46.7" text-anchor="middle" >50</text>
<text x="218.0" y="746.8" text-anchor="middle" >50</text>
<text x="123.8" y="46.7" text-anchor="middle" >60</text>
<text x="123.8" y="746.8" text-anchor="middle" >60</text>
<text x="44.7" y="125.3" text-anchor="middle" >12</text>
<text x="45.8" y="181.9" text-anchor="middle" >8</text>
<text x="46" y="238.6" text-anchor="middle" >4</text>
<text x="45.4" y="295.2" text-anchor="middle" >0</text>
<text x="63.6" y="652.3" text-anchor="end" >0</text>
<text x="63.6" y="608.7" text-anchor="end" >10</text>
<text x="63.6" y="565.1" text-anchor="end" >20</text>
<text x="63.6" y="521.5" text-anchor="end" >30</text>
<text x="63.6" y="477.9" text-anchor="end" >40</text>
<text x="63.6" y="434.3" text-anchor="end" >50</text>
<text x="63.6" y="390.7" text-anchor="end" >60</text>
<text x="63.6" y="347.1" text-anchor="end" >70</text>
<text x="725.6" y="651.8" text-anchor="end" >0</text>
<text x="725.6" y="608.2" text-anchor="end" >10</text>
<text x="725.6" y="564.6" text-anchor="end" >20</text>
<text x="725.6" y="521.0" text-anchor="end" >30</text>
<text x="725.6" y="477.4" text-anchor="end" >40</text>
<text x="725.6" y="433.8" text-anchor="end" >50</text>
<text x="745.6" y="76.8" text-anchor="end" >−1</text>
<text x="745.6" y="131.8" text-anchor="end" >0</text>
<text x="745.6" y="186.8" text-anchor="end" >+1</text>
<text x="745.6" y="241.8" text-anchor="end" >+2</text>
<text x="745.6" y="296.8" text-anchor="end" >+3</text>
<text x="745.6" y="351.8" text-anchor="end" >+4</text>
<text class="b" x="97" y="109.6">a</text>
<text class="b" x="97" y="356.6">b</text>
<text x="210.3" y="92.4" text-anchor="middle" >EECO</text>
<text x="212" y="217.6" text-anchor="middle" >ETM2</text>
<text x="164.6" y="295.4" text-anchor="middle" >PETM</text>
<text x="297.4" y="277" text-anchor="middle" >MECO</text>
<text x="370.8" y="363.5" text-anchor="middle" >EOT</text>
<text x="546.8" y="325.7" text-anchor="middle" >MMCO</text>
<text x="397" y="423" text-anchor="start" word-spacing="1.2">Number of species</text>
<text x="226" y="592.5" text-anchor="middle" >Proportion of</text>
<text x="226.3" y="613.5" text-anchor="middle" >symbiotic species</text>
<text x="115.2" y="668" text-anchor="middle" >Paleo</text>
<text x="267" y="668" text-anchor="middle" >Eocene</text>
<text x="419" y="668" text-anchor="middle" >Oligo</text>
<text x="556.3" y="668" text-anchor="middle" >Miocene</text>
<text x="651.8" y="668" text-anchor="middle" >P</text>
<text x="268.5" y="700.8" text-anchor="middle" >PALEOGENE</text>
<text x="569" y="700.8" text-anchor="middle" >NEOGENE</text>
<text x="676" y="700.8" text-anchor="middle" >Q</text>
<text transform="translate(15.6,206.8) rotate(-90)" text-anchor="middle">Ice-free temperature (°C)</text>
<text transform="translate(15.6,491.4) rotate(-90)" text-anchor="middle">Proportion of symbiotic species (%)</text>
<text transform="translate(780.4,220) rotate(-90)" text-anchor="middle">δ<tspan font-size="13" dy="-7">18</tspan><tspan dy="7">O (‰ VPDB)</tspan></text>
<text transform="translate(780.3,529.2) rotate(-90)" text-anchor="middle">Number of species</text>
</svg></body></html>
